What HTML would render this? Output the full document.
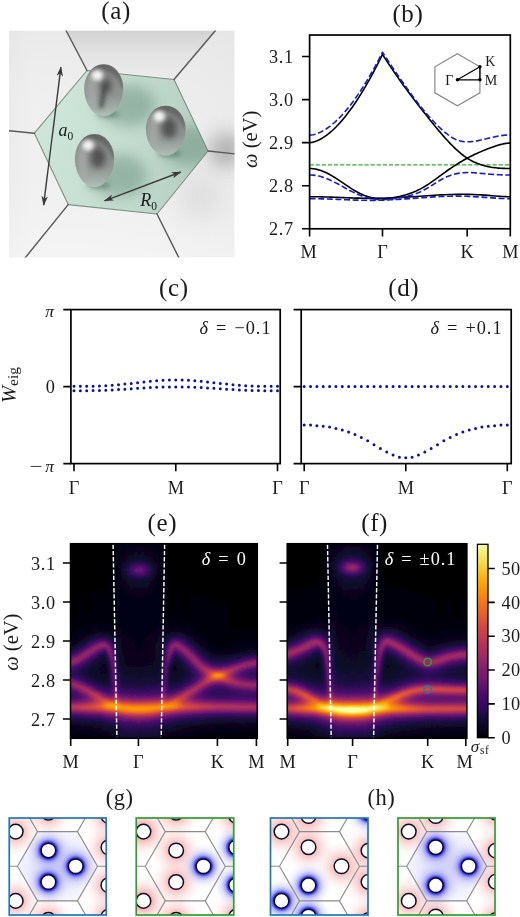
<!DOCTYPE html>
<html lang="en"><head><meta charset="utf-8"><title>Figure</title>
<style>
html,body{margin:0;padding:0;background:#fff}
svg{display:block}
text{font-family:"Liberation Serif",serif;fill:#1a1a1a}
</style></head><body>
<svg width="520" height="917" viewBox="0 0 520 917">
<rect width="520" height="917" fill="#fff"/>
<g id="pa">
<defs>
<clipPath id="ca"><rect x="9" y="30.5" width="225.6" height="227"/></clipPath>
<linearGradient id="abg" x1="0" y1="0" x2="1" y2="0"><stop offset="0" stop-color="#ececec"/><stop offset=".1" stop-color="#f0f0f0"/><stop offset=".6" stop-color="#efefef"/><stop offset="1" stop-color="#ebebeb"/></linearGradient>
<linearGradient id="abg2" x1="0" y1="0" x2="0" y2="1"><stop offset="0" stop-color="#dcdcdc" stop-opacity=".3"/><stop offset=".35" stop-color="#e4e4e4" stop-opacity=".05"/><stop offset="1" stop-color="#fff" stop-opacity=".3"/></linearGradient>
<linearGradient id="ahex" x1="0" y1="0" x2="1" y2="1"><stop offset="0" stop-color="#d1e7db"/><stop offset=".5" stop-color="#cbe3d7"/><stop offset="1" stop-color="#c6dfd2"/></linearGradient>
<radialGradient id="asph" cx=".36" cy=".22" r=".75" fx=".33" fy=".17"><stop offset="0" stop-color="#ededed"/><stop offset=".12" stop-color="#cfd0d0"/><stop offset=".32" stop-color="#a4a7a6"/><stop offset=".6" stop-color="#888b8a"/><stop offset=".82" stop-color="#98a19c"/><stop offset="1" stop-color="#b3c0b9"/></radialGradient>
<linearGradient id="asph2" x1="0" y1="0" x2="0" y2="1"><stop offset="0" stop-color="#767877"/><stop offset=".3" stop-color="#8e9190"/><stop offset=".6" stop-color="#8f9391"/><stop offset=".82" stop-color="#a0aaa5"/><stop offset="1" stop-color="#b2bfb8"/></linearGradient>
<radialGradient id="aedge" cx=".5" cy=".5" r=".5"><stop offset=".72" stop-color="#444" stop-opacity="0"/><stop offset="1" stop-color="#3c3c3c" stop-opacity=".55"/></radialGradient>
<filter id="ab1" filterUnits="userSpaceOnUse" x="0" y="0" width="260" height="280"><feGaussianBlur stdDeviation="7"/></filter>
<filter id="ab2" filterUnits="userSpaceOnUse" x="0" y="0" width="260" height="280"><feGaussianBlur stdDeviation="2.2"/></filter>
<filter id="ab4" filterUnits="userSpaceOnUse" x="0" y="0" width="260" height="280"><feGaussianBlur stdDeviation="3"/></filter>
<filter id="ab5" filterUnits="userSpaceOnUse" x="0" y="0" width="260" height="280"><feGaussianBlur stdDeviation="9"/></filter>
<filter id="ab3" filterUnits="userSpaceOnUse" x="0" y="0" width="260" height="280"><feGaussianBlur stdDeviation="12"/></filter>
<marker id="ah" viewBox="0 0 10 6.6" refX="9.3" refY="3.3" markerWidth="10" markerHeight="6.6" orient="auto-start-reverse" markerUnits="userSpaceOnUse"><path d="M0 0L10 3.3L0 6.6L2.8 3.3Z" fill="#3a3a3a"/></marker>
</defs>
<g clip-path="url(#ca)">
<rect x="9" y="30.5" width="225.6" height="227" fill="url(#abg)"/>
<rect x="9" y="30.5" width="225.6" height="227" fill="url(#abg2)"/>
<defs><linearGradient id="atop" x1="0" y1="30" x2="0" y2="82" gradientUnits="userSpaceOnUse"><stop offset="0" stop-color="#d2d2d2"/><stop offset=".45" stop-color="#e2e2e2"/><stop offset="1" stop-color="#eeeeee"/></linearGradient><linearGradient id="ahs" x1="0" y1="0" x2="1" y2="0"><stop offset="0" stop-color="#98b3a6" stop-opacity="0"/><stop offset=".45" stop-color="#98b3a6" stop-opacity=".08"/><stop offset="1" stop-color="#98b3a6" stop-opacity=".42"/></linearGradient></defs>
<polygon points="66,30.5 215.5,30.5 174,79.5 87,70.5" fill="url(#atop)"/>
<ellipse cx="226" cy="150" rx="17" ry="17" fill="#8e8e8e" opacity=".62" filter="url(#ab5)"/>
<ellipse cx="200" cy="196" rx="22" ry="24" fill="#c4c4c4" opacity=".35" filter="url(#ab3)"/>
<polygon points="87,70.5 174,79.5 208,151 157,214 68.2,204.6 34.4,133.2" fill="url(#ahex)"/>
<polygon points="87,70.5 174,79.5 208,151 157,214 68.2,204.6 34.4,133.2" fill="url(#ahs)"/>
<clipPath id="chex"><path d="M87 70.5 L174 79.5 L208 151 L157 214 L68.2 204.6 L34.4 133.2Z"/></clipPath>
<path d="M87 70.5 L174 79.5 L208 151 L157 214 L68.2 204.6 L34.4 133.2Z" fill="none" stroke="#7d8f86" stroke-width="1.1" stroke-linejoin="round"/>
<path d="M87 70.5L66 30.5M174 79.5L215.5 30.5M208 151L236 154M157 214L179 258M68.2 204.6L25 258M34.4 133.2L8.5 130.8" fill="none" stroke="#585a59" stroke-width="1.45" stroke-linecap="round"/>
<g clip-path="url(#chex)">
<ellipse cx="127.7" cy="105.3" rx="28.27" ry="20.8" fill="#668c7b" opacity=".5" filter="url(#ab1)"/>
<ellipse cx="107.7" cy="114.3" rx="11.7" ry="3.5" fill="#4f6f62" opacity=".55" filter="url(#ab2)"/>
<ellipse cx="189.7" cy="145.8" rx="28.71" ry="20" fill="#668c7b" opacity=".5" filter="url(#ab1)"/>
<ellipse cx="169.7" cy="153.8" rx="11.88" ry="3.5" fill="#4f6f62" opacity=".55" filter="url(#ab2)"/>
<ellipse cx="118.5" cy="175.6" rx="28.42" ry="21.28" fill="#668c7b" opacity=".5" filter="url(#ab1)"/>
<ellipse cx="98.5" cy="185.2" rx="11.76" ry="3.5" fill="#4f6f62" opacity=".55" filter="url(#ab2)"/>
</g>
<clipPath id="cs0"><path d="M103.7 64.3C115.79 64.3 123.2 76.74 123.2 88.22C123.2 103.66 113.84 116.3 103.7 116.3C93.56 116.3 84.2 103.66 84.2 88.22C84.2 76.74 91.61 64.3 103.7 64.3Z"/></clipPath>
<path d="M103.7 64.3C115.79 64.3 123.2 76.74 123.2 88.22C123.2 103.66 113.84 116.3 103.7 116.3C93.56 116.3 84.2 103.66 84.2 88.22C84.2 76.74 91.61 64.3 103.7 64.3Z" fill="url(#asph2)"/>
<g clip-path="url(#cs0)">
<ellipse cx="91.61" cy="91.3" rx="5" ry="15" fill="#b4b9b6" opacity=".55" filter="url(#ab4)"/>
<ellipse cx="106.7" cy="85.3" rx="6" ry="8" fill="#3f4041" opacity=".6" filter="url(#ab4)"/>
<path d="M105.2 85.3Q103.2 95.3 101.2 106.3" stroke="#3a3b3c" stroke-width="4.2" fill="none" stroke-linecap="round" opacity=".8" filter="url(#ab2)"/>
<path d="M90.05 68.3Q113.45 60.3 124.2 86.3" stroke="#484848" stroke-width="4.5" fill="none" stroke-linecap="round" opacity=".6" filter="url(#ab2)"/>
<ellipse cx="97.2" cy="75.22" rx="6" ry="5.5" fill="#fafafa" opacity=".95" filter="url(#ab2)"/>
</g>
<clipPath id="cs1"><path d="M165.7 105.8C177.98 105.8 185.5 117.76 185.5 128.8C185.5 143.65 176 155.8 165.7 155.8C155.4 155.8 145.9 143.65 145.9 128.8C145.9 117.76 153.42 105.8 165.7 105.8Z"/></clipPath>
<path d="M165.7 105.8C177.98 105.8 185.5 117.76 185.5 128.8C185.5 143.65 176 155.8 165.7 155.8C155.4 155.8 145.9 143.65 145.9 128.8C145.9 117.76 153.42 105.8 165.7 105.8Z" fill="url(#asph2)"/>
<g clip-path="url(#cs1)">
<ellipse cx="153.42" cy="131.8" rx="5" ry="15" fill="#b4b9b6" opacity=".55" filter="url(#ab4)"/>
<ellipse cx="169.2" cy="127.8" rx="7.5" ry="10.5" fill="#3f4041" opacity=".78" filter="url(#ab4)"/>
<path d="M151.84 109.8Q175.6 101.8 186.5 126.8" stroke="#484848" stroke-width="4.5" fill="none" stroke-linecap="round" opacity=".6" filter="url(#ab2)"/>
<ellipse cx="159.2" cy="116.3" rx="6" ry="5.5" fill="#fafafa" opacity=".95" filter="url(#ab2)"/>
</g>
<clipPath id="cs2"><path d="M94.5 134C106.65 134 114.1 146.73 114.1 158.47C114.1 174.27 104.69 187.2 94.5 187.2C84.31 187.2 74.9 174.27 74.9 158.47C74.9 146.73 82.35 134 94.5 134Z"/></clipPath>
<path d="M94.5 134C106.65 134 114.1 146.73 114.1 158.47C114.1 174.27 104.69 187.2 94.5 187.2C84.31 187.2 74.9 174.27 74.9 158.47C74.9 146.73 82.35 134 94.5 134Z" fill="url(#asph2)"/>
<g clip-path="url(#cs2)">
<ellipse cx="82.35" cy="161.6" rx="5" ry="15" fill="#b4b9b6" opacity=".55" filter="url(#ab4)"/>
<ellipse cx="98" cy="157.6" rx="7.5" ry="10.5" fill="#3f4041" opacity=".78" filter="url(#ab4)"/>
<path d="M80.78 138Q104.3 130 115.1 156.6" stroke="#484848" stroke-width="4.5" fill="none" stroke-linecap="round" opacity=".6" filter="url(#ab2)"/>
<ellipse cx="88" cy="145.17" rx="6" ry="5.5" fill="#fafafa" opacity=".95" filter="url(#ab2)"/>
</g>
<path d="M60.9 67.1L43.6 205.2" stroke="#3c3c3c" stroke-width="1.4" fill="none" marker-start="url(#ah)" marker-end="url(#ah)"/>
<path d="M104.5 200.8L180.8 172" stroke="#3c3c3c" stroke-width="1.4" fill="none" marker-start="url(#ah)" marker-end="url(#ah)"/>
</g>
<text x="58.5" y="136.3" font-size="18" font-style="italic" fill="#222">a<tspan font-size="11.5" font-style="normal" dy="3.5">0</tspan></text>
<text x="140.3" y="206" font-size="18" font-style="italic" fill="#222">R<tspan font-size="11.5" font-style="normal" dy="3.5">0</tspan></text>
<text x="116.1" y="19.2" font-size="25" text-anchor="middle" letter-spacing=".6">(a)</text>
</g>
<g id="pb">
<path d="M309.6 164.8 H510.3" stroke="#2eae2e" stroke-width="1.3" stroke-dasharray="4.2 1.9" fill="none"/>
<g fill="none" stroke="#000" stroke-width="1.6" stroke-linejoin="round">
<path d="M309.6 142.67 L311.47 142.49 L313.34 142.1 L315.21 141.54 L317.08 140.83 L318.95 139.98 L320.82 139 L322.68 137.91 L324.55 136.69 L326.42 135.37 L328.29 133.94 L330.16 132.4 L332.03 130.76 L333.9 129.03 L335.77 127.2 L337.64 125.27 L339.51 123.25 L341.38 121.15 L343.25 118.95 L345.12 116.67 L346.98 114.3 L348.85 111.84 L350.72 109.31 L352.59 106.69 L354.46 103.99 L356.33 101.21 L358.2 98.35 L360.07 95.42 L361.94 92.4 L363.81 89.31 L365.68 86.15 L367.55 82.91 L369.42 79.59 L371.28 76.21 L373.15 72.75 L375.02 69.22 L376.89 65.61 L378.76 61.94 L380.63 58.19 L382.5 54.38 L382.5 54.38 L383.93 56.62 L385.36 58.84 L386.78 61.03 L388.21 63.21 L389.64 65.36 L391.07 67.5 L392.49 69.62 L393.92 71.71 L395.35 73.79 L396.78 75.86 L398.2 77.9 L399.63 79.93 L401.06 81.94 L402.49 83.93 L403.91 85.91 L405.34 87.88 L406.77 89.83 L408.2 91.76 L409.62 93.68 L411.05 95.59 L412.48 97.49 L413.91 99.38 L415.33 101.25 L416.76 103.11 L418.19 104.96 L419.62 106.8 L421.04 108.63 L422.47 110.45 L423.9 112.27 L425.33 114.07 L426.75 115.87 L428.18 117.66 L429.61 119.44 L431.04 121.21 L432.46 122.98 L433.89 124.74 L435.32 126.48 L436.75 128.22 L438.17 129.93 L439.6 131.63 L441.03 133.31 L442.46 134.97 L443.88 136.6 L445.31 138.21 L446.74 139.78 L448.17 141.33 L449.59 142.85 L451.02 144.34 L452.45 145.78 L453.88 147.19 L455.3 148.56 L456.73 149.89 L458.16 151.18 L459.59 152.42 L461.01 153.61 L462.44 154.75 L463.87 155.84 L465.3 156.88 L466.72 157.86 L468.17 158.78 L469.62 159.65 L471.07 160.46 L472.53 161.22 L473.98 161.92 L475.43 162.58 L476.89 163.19 L478.34 163.76 L479.79 164.29 L481.24 164.77 L482.7 165.22 L484.15 165.63 L485.6 166.01 L487.06 166.35 L488.51 166.66 L489.96 166.94 L491.41 167.2 L492.87 167.42 L494.32 167.62 L495.77 167.8 L497.22 167.95 L498.68 168.08 L500.13 168.19 L501.58 168.28 L503.04 168.36 L504.49 168.42 L505.94 168.46 L507.39 168.49 L508.85 168.5 L510.3 168.51"/>
<path d="M309.6 168.51 L311.47 168.56 L313.34 168.73 L315.21 169.01 L317.08 169.4 L318.95 169.89 L320.82 170.48 L322.68 171.17 L324.55 171.96 L326.42 172.82 L328.29 173.77 L330.16 174.79 L332.03 175.86 L333.9 177 L335.77 178.18 L337.64 179.39 L339.51 180.64 L341.38 181.9 L343.25 183.17 L345.12 184.44 L346.98 185.7 L348.85 186.93 L350.72 188.14 L352.59 189.32 L354.46 190.44 L356.33 191.52 L358.2 192.53 L360.07 193.48 L361.94 194.36 L363.81 195.16 L365.68 195.88 L367.55 196.51 L369.42 197.06 L371.28 197.53 L373.15 197.91 L375.02 198.21 L376.89 198.42 L378.76 198.56 L380.63 198.63 L382.5 198.65 L382.5 198.65 L383.93 198.64 L385.36 198.58 L386.78 198.5 L388.21 198.38 L389.64 198.23 L391.07 198.05 L392.49 197.85 L393.92 197.61 L395.35 197.36 L396.78 197.08 L398.2 196.78 L399.63 196.46 L401.06 196.12 L402.49 195.75 L403.91 195.37 L405.34 194.97 L406.77 194.54 L408.2 194.08 L409.62 193.6 L411.05 193.09 L412.48 192.55 L413.91 191.98 L415.33 191.38 L416.76 190.74 L418.19 190.07 L419.62 189.37 L421.04 188.63 L422.47 187.85 L423.9 187.02 L425.33 186.16 L426.75 185.27 L428.18 184.34 L429.61 183.39 L431.04 182.41 L432.46 181.41 L433.89 180.39 L435.32 179.36 L436.75 178.32 L438.17 177.27 L439.6 176.22 L441.03 175.16 L442.46 174.11 L443.88 173.07 L445.31 172.03 L446.74 171.01 L448.17 170.01 L449.59 169.02 L451.02 168.04 L452.45 167.09 L453.88 166.14 L455.3 165.22 L456.73 164.31 L458.16 163.42 L459.59 162.54 L461.01 161.69 L462.44 160.85 L463.87 160.02 L465.3 159.22 L466.72 158.43 L468.17 157.66 L469.62 156.91 L471.07 156.17 L472.53 155.46 L473.98 154.76 L475.43 154.07 L476.89 153.4 L478.34 152.75 L479.79 152.11 L481.24 151.48 L482.7 150.87 L484.15 150.28 L485.6 149.69 L487.06 149.12 L488.51 148.56 L489.96 148.01 L491.41 147.47 L492.87 146.95 L494.32 146.44 L495.77 145.94 L497.22 145.47 L498.68 145.03 L500.13 144.61 L501.58 144.24 L503.04 143.91 L504.49 143.63 L505.94 143.41 L507.39 143.24 L508.85 143.13 L510.3 143.1"/>
<path d="M309.6 196.72 L312.69 196.73 L315.78 196.76 L318.87 196.81 L321.96 196.88 L325.04 196.96 L328.13 197.06 L331.22 197.16 L334.31 197.28 L337.4 197.39 L340.49 197.51 L343.58 197.64 L346.67 197.75 L349.76 197.87 L352.85 197.98 L355.93 198.08 L359.02 198.16 L362.11 198.24 L365.2 198.3 L368.29 198.34 L371.38 198.36 L374.47 198.35 L377.56 198.33 L380.65 198.27 L383.94 198.18 L387.52 198.07 L391.11 197.93 L394.7 197.76 L398.29 197.57 L401.88 197.37 L405.47 197.15 L409.06 196.92 L412.65 196.68 L416.24 196.44 L419.83 196.19 L423.41 195.95 L427 195.71 L430.59 195.48 L434.18 195.26 L437.77 195.05 L441.36 194.86 L444.95 194.7 L448.54 194.56 L452.13 194.44 L455.72 194.36 L459.3 194.31 L462.89 194.3 L466.48 194.33 L470.12 194.41 L473.77 194.53 L477.43 194.69 L481.08 194.89 L484.73 195.13 L488.38 195.39 L492.04 195.69 L495.69 195.99 L499.34 196.27 L502.99 196.5 L506.65 196.66 L510.3 196.72"/>
</g>
<g fill="none" stroke="#1a1ac8" stroke-width="1.6" stroke-dasharray="6 2.6" stroke-linejoin="round">
<path d="M309.6 135.13 L311.47 134.99 L313.34 134.67 L315.21 134.2 L317.08 133.59 L318.95 132.85 L320.82 132 L322.68 131.03 L324.55 129.95 L326.42 128.76 L328.29 127.47 L330.16 126.08 L332.03 124.59 L333.9 123.01 L335.77 121.33 L337.64 119.56 L339.51 117.7 L341.38 115.74 L343.25 113.7 L345.12 111.58 L346.98 109.37 L348.85 107.07 L350.72 104.69 L352.59 102.23 L354.46 99.68 L356.33 97.06 L358.2 94.35 L360.07 91.57 L361.94 88.71 L363.81 85.77 L365.68 82.75 L367.55 79.66 L369.42 76.49 L371.28 73.24 L373.15 69.92 L375.02 66.53 L376.89 63.06 L378.76 59.52 L380.63 55.91 L382.5 52.23 L382.5 52.23 L383.93 54.4 L385.36 56.57 L386.78 58.74 L388.21 60.9 L389.64 63.06 L391.07 65.2 L392.49 67.34 L393.92 69.47 L395.35 71.59 L396.78 73.7 L398.2 75.79 L399.63 77.88 L401.06 79.95 L402.49 82 L403.91 84.04 L405.34 86.07 L406.77 88.07 L408.2 90.06 L409.62 92.03 L411.05 93.98 L412.48 95.91 L413.91 97.82 L415.33 99.71 L416.76 101.57 L418.19 103.41 L419.62 105.23 L421.04 107.02 L422.47 108.78 L423.9 110.52 L425.33 112.22 L426.75 113.9 L428.18 115.55 L429.61 117.17 L431.04 118.75 L432.46 120.3 L433.89 121.82 L435.32 123.3 L436.75 124.75 L438.17 126.15 L439.6 127.52 L441.03 128.85 L442.46 130.14 L443.88 131.38 L445.31 132.58 L446.74 133.73 L448.17 134.83 L449.59 135.86 L451.02 136.82 L452.45 137.7 L453.88 138.5 L455.3 139.2 L456.73 139.82 L458.16 140.34 L459.59 140.77 L461.01 141.12 L462.44 141.4 L463.87 141.6 L465.3 141.73 L466.72 141.8 L468.17 141.8 L469.62 141.76 L471.07 141.66 L472.53 141.52 L473.98 141.34 L475.43 141.12 L476.89 140.87 L478.34 140.59 L479.79 140.29 L481.24 139.97 L482.7 139.63 L484.15 139.29 L485.6 138.94 L487.06 138.59 L488.51 138.25 L489.96 137.9 L491.41 137.56 L492.87 137.23 L494.32 136.92 L495.77 136.61 L497.22 136.32 L498.68 136.06 L500.13 135.81 L501.58 135.59 L503.04 135.39 L504.49 135.23 L505.94 135.09 L507.39 135 L508.85 134.94 L510.3 134.91"/>
<path d="M309.6 174.97 L311.47 175.01 L313.34 175.15 L315.21 175.38 L317.08 175.69 L318.95 176.09 L320.82 176.58 L322.68 177.14 L324.55 177.78 L326.42 178.48 L328.29 179.25 L330.16 180.08 L332.03 180.96 L333.9 181.88 L335.77 182.84 L337.64 183.83 L339.51 184.84 L341.38 185.87 L343.25 186.91 L345.12 187.94 L346.98 188.96 L348.85 189.97 L350.72 190.96 L352.59 191.91 L354.46 192.83 L356.33 193.7 L358.2 194.53 L360.07 195.3 L361.94 196.02 L363.81 196.67 L365.68 197.25 L367.55 197.77 L369.42 198.22 L371.28 198.6 L373.15 198.91 L375.02 199.15 L376.89 199.33 L378.76 199.44 L380.63 199.5 L382.5 199.51 L382.5 199.51 L383.93 199.5 L385.36 199.45 L386.78 199.38 L388.21 199.28 L389.64 199.16 L391.07 199.01 L392.49 198.85 L393.92 198.66 L395.35 198.46 L396.78 198.24 L398.2 198 L399.63 197.76 L401.06 197.5 L402.49 197.23 L403.91 196.94 L405.34 196.64 L406.77 196.32 L408.2 195.97 L409.62 195.6 L411.05 195.2 L412.48 194.78 L413.91 194.32 L415.33 193.83 L416.76 193.31 L418.19 192.75 L419.62 192.15 L421.04 191.5 L422.47 190.82 L423.9 190.08 L425.33 189.31 L426.75 188.49 L428.18 187.65 L429.61 186.78 L431.04 185.9 L432.46 185 L433.89 184.09 L435.32 183.19 L436.75 182.3 L438.17 181.42 L439.6 180.56 L441.03 179.73 L442.46 178.93 L443.88 178.17 L445.31 177.46 L446.74 176.8 L448.17 176.19 L449.59 175.64 L451.02 175.14 L452.45 174.69 L453.88 174.29 L455.3 173.94 L456.73 173.63 L458.16 173.36 L459.59 173.13 L461.01 172.95 L462.44 172.8 L463.87 172.69 L465.3 172.61 L466.72 172.56 L468.17 172.55 L469.62 172.56 L471.07 172.6 L472.53 172.67 L473.98 172.75 L475.43 172.85 L476.89 172.97 L478.34 173.09 L479.79 173.23 L481.24 173.37 L482.7 173.52 L484.15 173.67 L485.6 173.81 L487.06 173.95 L488.51 174.08 L489.96 174.21 L491.41 174.32 L492.87 174.42 L494.32 174.52 L495.77 174.6 L497.22 174.67 L498.68 174.74 L500.13 174.79 L501.58 174.84 L503.04 174.88 L504.49 174.91 L505.94 174.94 L507.39 174.95 L508.85 174.96 L510.3 174.97"/>
<path d="M309.6 198.65 L312.69 198.67 L315.78 198.7 L318.87 198.76 L321.96 198.83 L325.04 198.92 L328.13 199.02 L331.22 199.13 L334.31 199.25 L337.4 199.38 L340.49 199.5 L343.58 199.63 L346.67 199.75 L349.76 199.87 L352.85 199.99 L355.93 200.09 L359.02 200.17 L362.11 200.25 L365.2 200.3 L368.29 200.34 L371.38 200.35 L374.47 200.34 L377.56 200.29 L380.65 200.22 L383.94 200.11 L387.52 199.98 L391.11 199.81 L394.7 199.61 L398.29 199.4 L401.88 199.16 L405.47 198.91 L409.06 198.66 L412.65 198.39 L416.24 198.12 L419.83 197.86 L423.41 197.6 L427 197.35 L430.59 197.11 L434.18 196.88 L437.77 196.68 L441.36 196.5 L444.95 196.35 L448.54 196.24 L452.13 196.15 L455.72 196.11 L459.3 196.11 L462.89 196.16 L466.48 196.26 L470.12 196.41 L473.77 196.61 L477.43 196.84 L481.08 197.1 L484.73 197.37 L488.38 197.64 L492.04 197.9 L495.69 198.14 L499.34 198.35 L502.99 198.51 L506.65 198.62 L510.3 198.65"/>
</g>
<rect x="309.6" y="35" width="200.7" height="193.8" fill="none" stroke="#000" stroke-width="1.7"/>
<text x="293.6" y="63.13" font-size="18.3" text-anchor="end" letter-spacing=".55">3.1</text>
<text x="293.6" y="106.2" font-size="18.3" text-anchor="end" letter-spacing=".55">3.0</text>
<text x="293.6" y="149.27" font-size="18.3" text-anchor="end" letter-spacing=".55">2.9</text>
<text x="293.6" y="192.33" font-size="18.3" text-anchor="end" letter-spacing=".55">2.8</text>
<text x="293.6" y="235.4" font-size="18.3" text-anchor="end" letter-spacing=".55">2.7</text>
<text x="308.6" y="258" font-size="18.3" text-anchor="middle">M</text>
<text x="382.5" y="258" font-size="18.3" text-anchor="middle">Γ</text>
<text x="467.2" y="258" font-size="18.3" text-anchor="middle">K</text>
<text x="510.3" y="258" font-size="18.3" text-anchor="middle">M</text>
<path d="M309.6 56.53h-7.6M309.6 99.6h-7.6M309.6 142.67h-7.6M309.6 185.73h-7.6M309.6 228.8h-7.6M309.6 228.8v7.6M382.5 228.8v7.6M467.2 228.8v7.6M510.3 228.8v7.6" stroke="#000" stroke-width="1.6" fill="none"/>
<text transform="translate(257 139.3) rotate(-90)" font-size="20.5" text-anchor="middle"><tspan font-style="italic">ω</tspan> (eV)</text>
<text x="407.9" y="21.5" font-size="25" text-anchor="middle" letter-spacing=".6">(b)</text>
<polygon points="457.4,53.8 479.92,66.8 479.92,92.8 457.4,105.8 434.88,92.8 434.88,66.8" fill="none" stroke="#888" stroke-width="1.2"/>
<path d="M457.4 79.8L479.92 66.8V79.8Z" fill="none" stroke="#000" stroke-width="1.3" stroke-linejoin="round"/>
<circle cx="457.4" cy="79.8" r="1.7"/>
<circle cx="479.92" cy="66.8" r="1.7"/>
<circle cx="479.92" cy="79.8" r="1.7"/>
<text x="449.3" y="84.6" font-size="14" text-anchor="middle">Γ</text>
<text x="490.4" y="66.4" font-size="14" text-anchor="middle">K</text>
<text x="491" y="85" font-size="14" text-anchor="middle">M</text>
</g>
<g id="pcd">
<path d="M74 386.3h0M80.36 386.29h0M86.72 386.25h0M93.08 386.15h0M99.44 385.95h0M105.8 385.64h0M112.16 385.22h0M118.52 384.69h0M124.88 384.07h0M131.23 383.39h0M137.59 382.68h0M143.95 381.98h0M150.31 381.33h0M156.67 380.78h0M163.03 380.36h0M169.39 380.09h0M175.75 380h0M182.11 380.09h0M188.47 380.36h0M194.83 380.78h0M201.19 381.33h0M207.55 381.98h0M213.91 382.68h0M220.27 383.39h0M226.62 384.07h0M232.98 384.69h0M239.34 385.22h0M245.7 385.64h0M252.06 385.95h0M258.42 386.15h0M264.78 386.25h0M271.14 386.29h0M277.5 386.3h0M74 390.7h0M80.36 390.69h0M86.72 390.65h0M93.08 390.55h0M99.44 390.39h0M105.8 390.16h0M112.16 389.88h0M118.52 389.54h0M124.88 389.16h0M131.23 388.75h0M137.59 388.35h0M143.95 387.96h0M150.31 387.61h0M156.67 387.31h0M163.03 387.09h0M169.39 386.95h0M175.75 386.9h0M182.11 386.95h0M188.47 387.09h0M194.83 387.31h0M201.19 387.61h0M207.55 387.96h0M213.91 388.35h0M220.27 388.75h0M226.62 389.16h0M232.98 389.54h0M239.34 389.88h0M245.7 390.16h0M252.06 390.39h0M258.42 390.55h0M264.78 390.65h0M271.14 390.69h0M277.5 390.7h0" stroke="#10109a" stroke-width="3" stroke-linecap="round" fill="none"/>
<rect x="70.9" y="309.6" width="209.3" height="154" fill="none" stroke="#000" stroke-width="1.7"/>
<text x="74" y="493.6" font-size="18.3" text-anchor="middle">Γ</text>
<text x="175.8" y="493.6" font-size="18.3" text-anchor="middle">M</text>
<text x="277.5" y="493.6" font-size="18.3" text-anchor="middle">Γ</text>
<path d="M70.9 309.6h-7.6M70.9 386.6h-7.6M70.9 463.6h-7.6M74 463.6v7.6M175.8 463.6v7.6M277.5 463.6v7.6" stroke="#000" stroke-width="1.6" fill="none"/>
<text x="173.8" y="295.8" font-size="25" text-anchor="middle" letter-spacing=".6">(c)</text>
<text x="271.6" y="333.8" font-size="18.3" text-anchor="end" letter-spacing="1" word-spacing="1.5"><tspan font-style="italic">δ</tspan> = −0.1</text>
<path d="M304.2 386.6h0M310.55 386.6h0M316.89 386.6h0M323.24 386.6h0M329.59 386.6h0M335.93 386.6h0M342.28 386.6h0M348.63 386.6h0M354.98 386.6h0M361.32 386.6h0M367.67 386.6h0M374.02 386.6h0M380.36 386.6h0M386.71 386.6h0M393.06 386.6h0M399.4 386.6h0M405.75 386.6h0M412.1 386.6h0M418.44 386.6h0M424.79 386.6h0M431.14 386.6h0M437.48 386.6h0M443.83 386.6h0M450.18 386.6h0M456.52 386.6h0M462.87 386.6h0M469.22 386.6h0M475.57 386.6h0M481.91 386.6h0M488.26 386.6h0M494.61 386.6h0M500.95 386.6h0M507.3 386.6h0M304.2 425h0M310.55 425h0M316.89 425.66h0M323.24 426.15h0M329.59 427.07h0M335.93 428.48h0M342.28 430.08h0M348.63 431.89h0M354.98 434.51h0M361.32 437.46h0M367.67 440.74h0M374.02 444.68h0M380.36 448.62h0M386.71 451.9h0M393.06 455.01h0M399.4 457.14h0M405.75 457.8h0M412.1 457.14h0M418.44 455.01h0M424.79 451.9h0M431.14 448.62h0M437.48 444.68h0M443.83 440.74h0M450.18 437.46h0M456.52 434.51h0M462.87 431.89h0M469.22 430.08h0M475.57 428.48h0M481.91 427.07h0M488.26 426.15h0M494.61 425.66h0M500.95 425h0M507.3 425h0" stroke="#10109a" stroke-width="3" stroke-linecap="round" fill="none"/>
<rect x="301.2" y="309.6" width="210" height="154" fill="none" stroke="#000" stroke-width="1.7"/>
<text x="304.2" y="493.6" font-size="18.3" text-anchor="middle">Γ</text>
<text x="405.8" y="493.6" font-size="18.3" text-anchor="middle">M</text>
<text x="507.3" y="493.6" font-size="18.3" text-anchor="middle">Γ</text>
<path d="M301.2 309.6h-7.6M301.2 386.6h-7.6M301.2 463.6h-7.6M304.2 463.6v7.6M405.8 463.6v7.6M507.3 463.6v7.6" stroke="#000" stroke-width="1.6" fill="none"/>
<text x="403.7" y="295.8" font-size="25" text-anchor="middle" letter-spacing=".6">(d)</text>
<text x="502.6" y="333.8" font-size="18.3" text-anchor="end" letter-spacing="1" word-spacing="1.5"><tspan font-style="italic">δ</tspan> = +0.1</text>
<text x="54.2" y="316.8" font-size="17.6" text-anchor="end" font-style="italic">π</text>
<text x="55" y="393.4" font-size="18.3" text-anchor="end">0</text>
<text transform="translate(29.6 472) scale(1.32 1)" font-size="17.6">−</text><text x="54.2" y="472" font-size="17.6" text-anchor="end" font-style="italic">π</text>
<text transform="translate(16 385) rotate(-90)" font-size="20.5" text-anchor="middle"><tspan font-style="italic">W</tspan><tspan font-size="15.5" dy="1.8">eig</tspan></text>
</g>
<g id="pef">
<defs><linearGradient id="gv" x1="0" y1="0" x2="0" y2="1"/></defs>
<defs><linearGradient id="e0" href="#gv"><stop offset="0" stop-color="#000004"/><stop offset=".395" stop-color="#010106"/><stop offset=".472" stop-color="#02020c"/><stop offset=".523" stop-color="#07051b"/><stop offset=".544" stop-color="#0e092b"/><stop offset=".564" stop-color="#260c51"/><stop offset=".585" stop-color="#5a116e"/><stop offset=".6" stop-color="#8c2369"/><stop offset=".61" stop-color="#982766"/><stop offset=".631" stop-color="#69166e"/><stop offset=".646" stop-color="#450a69"/><stop offset=".667" stop-color="#380962"/><stop offset=".687" stop-color="#520e6d"/><stop offset=".708" stop-color="#8f2469"/><stop offset=".718" stop-color="#9a2865"/><stop offset=".723" stop-color="#932667"/><stop offset=".738" stop-color="#64156e"/><stop offset=".754" stop-color="#400a67"/><stop offset=".774" stop-color="#310a5c"/><stop offset=".8" stop-color="#4c0c6b"/><stop offset=".815" stop-color="#771c6d"/><stop offset=".831" stop-color="#ab2f5e"/><stop offset=".841" stop-color="#b73557"/><stop offset=".851" stop-color="#a52c60"/><stop offset=".872" stop-color="#5a116e"/><stop offset=".887" stop-color="#310a5c"/><stop offset=".903" stop-color="#190c3e"/><stop offset=".928" stop-color="#09061f"/><stop offset="1" stop-color="#02010a"/></linearGradient><linearGradient id="e1" href="#gv"><stop offset="0" stop-color="#000004"/><stop offset=".426" stop-color="#010108"/><stop offset=".528" stop-color="#09061f"/><stop offset=".554" stop-color="#190c3e"/><stop offset=".564" stop-color="#290b55"/><stop offset=".579" stop-color="#510e6c"/><stop offset=".595" stop-color="#84206b"/><stop offset=".605" stop-color="#972766"/><stop offset=".615" stop-color="#8d2369"/><stop offset=".631" stop-color="#62146e"/><stop offset=".641" stop-color="#490b6a"/><stop offset=".656" stop-color="#360961"/><stop offset=".672" stop-color="#360961"/><stop offset=".682" stop-color="#420a68"/><stop offset=".697" stop-color="#67166e"/><stop offset=".713" stop-color="#952667"/><stop offset=".718" stop-color="#9a2865"/><stop offset=".728" stop-color="#8c2369"/><stop offset=".754" stop-color="#450a69"/><stop offset=".769" stop-color="#340a5f"/><stop offset=".779" stop-color="#340a5f"/><stop offset=".795" stop-color="#440a68"/><stop offset=".81" stop-color="#67166e"/><stop offset=".831" stop-color="#ad305d"/><stop offset=".841" stop-color="#b93556"/><stop offset=".851" stop-color="#a52c60"/><stop offset=".872" stop-color="#5a116e"/><stop offset=".887" stop-color="#310a5c"/><stop offset=".903" stop-color="#190c3e"/><stop offset=".933" stop-color="#08051d"/><stop offset="1" stop-color="#02010a"/></linearGradient><linearGradient id="e2" href="#gv"><stop offset="0" stop-color="#000004"/><stop offset=".421" stop-color="#010108"/><stop offset=".523" stop-color="#09061f"/><stop offset=".538" stop-color="#10092d"/><stop offset=".559" stop-color="#260c51"/><stop offset=".579" stop-color="#5a116e"/><stop offset=".595" stop-color="#8a226a"/><stop offset=".605" stop-color="#972766"/><stop offset=".615" stop-color="#87216b"/><stop offset=".631" stop-color="#5a116e"/><stop offset=".656" stop-color="#310a5c"/><stop offset=".672" stop-color="#310a5c"/><stop offset=".682" stop-color="#3d0965"/><stop offset=".697" stop-color="#5f136e"/><stop offset=".713" stop-color="#8f2469"/><stop offset=".723" stop-color="#9a2865"/><stop offset=".744" stop-color="#67166e"/><stop offset=".759" stop-color="#440a68"/><stop offset=".779" stop-color="#380962"/><stop offset=".8" stop-color="#4f0d6c"/><stop offset=".815" stop-color="#7a1d6d"/><stop offset=".831" stop-color="#ae305c"/><stop offset=".841" stop-color="#ba3655"/><stop offset=".851" stop-color="#a62d60"/><stop offset=".872" stop-color="#5c126e"/><stop offset=".887" stop-color="#320a5e"/><stop offset=".903" stop-color="#190c3e"/><stop offset=".933" stop-color="#08051d"/><stop offset="1" stop-color="#02020c"/></linearGradient><linearGradient id="e3" href="#gv"><stop offset="0" stop-color="#000004"/><stop offset=".379" stop-color="#010106"/><stop offset=".467" stop-color="#02020e"/><stop offset=".518" stop-color="#09061f"/><stop offset=".538" stop-color="#120a32"/><stop offset=".559" stop-color="#2d0b59"/><stop offset=".574" stop-color="#540f6d"/><stop offset=".59" stop-color="#84206b"/><stop offset=".6" stop-color="#972766"/><stop offset=".61" stop-color="#8c2369"/><stop offset=".626" stop-color="#61136e"/><stop offset=".641" stop-color="#3d0965"/><stop offset=".656" stop-color="#2b0b57"/><stop offset=".672" stop-color="#2d0b59"/><stop offset=".687" stop-color="#3e0966"/><stop offset=".703" stop-color="#67166e"/><stop offset=".713" stop-color="#88226a"/><stop offset=".723" stop-color="#9b2964"/><stop offset=".733" stop-color="#902568"/><stop offset=".759" stop-color="#4c0c6b"/><stop offset=".779" stop-color="#3d0965"/><stop offset=".8" stop-color="#520e6d"/><stop offset=".815" stop-color="#7c1d6d"/><stop offset=".831" stop-color="#b0315b"/><stop offset=".841" stop-color="#bc3754"/><stop offset=".851" stop-color="#a92e5e"/><stop offset=".872" stop-color="#5d126e"/><stop offset=".887" stop-color="#340a5f"/><stop offset=".903" stop-color="#1b0c41"/><stop offset=".938" stop-color="#07051b"/><stop offset="1" stop-color="#02020c"/></linearGradient><linearGradient id="e4" href="#gv"><stop offset="0" stop-color="#000004"/><stop offset=".374" stop-color="#010106"/><stop offset=".462" stop-color="#02020e"/><stop offset=".508" stop-color="#08051d"/><stop offset=".528" stop-color="#10092d"/><stop offset=".549" stop-color="#240c4f"/><stop offset=".569" stop-color="#520e6d"/><stop offset=".595" stop-color="#952667"/><stop offset=".605" stop-color="#8f2469"/><stop offset=".626" stop-color="#57106e"/><stop offset=".641" stop-color="#360961"/><stop offset=".667" stop-color="#260c51"/><stop offset=".692" stop-color="#420a68"/><stop offset=".718" stop-color="#8f2469"/><stop offset=".728" stop-color="#9d2964"/><stop offset=".733" stop-color="#9a2865"/><stop offset=".764" stop-color="#4d0d6c"/><stop offset=".779" stop-color="#420a68"/><stop offset=".79" stop-color="#470b6a"/><stop offset=".805" stop-color="#61136e"/><stop offset=".815" stop-color="#7f1e6c"/><stop offset=".831" stop-color="#b3325a"/><stop offset=".841" stop-color="#bf3952"/><stop offset=".851" stop-color="#ab2f5e"/><stop offset=".872" stop-color="#5f136e"/><stop offset=".887" stop-color="#340a5f"/><stop offset=".903" stop-color="#1b0c41"/><stop offset=".918" stop-color="#0e092b"/><stop offset=".944" stop-color="#060419"/><stop offset="1" stop-color="#02020c"/></linearGradient><linearGradient id="e5" href="#gv"><stop offset="0" stop-color="#000004"/><stop offset=".369" stop-color="#010106"/><stop offset=".497" stop-color="#07051b"/><stop offset=".538" stop-color="#1e0c45"/><stop offset=".564" stop-color="#520e6d"/><stop offset=".585" stop-color="#8c2369"/><stop offset=".595" stop-color="#952667"/><stop offset=".605" stop-color="#85216b"/><stop offset=".621" stop-color="#59106e"/><stop offset=".641" stop-color="#2f0a5b"/><stop offset=".667" stop-color="#230c4c"/><stop offset=".682" stop-color="#2b0b57"/><stop offset=".697" stop-color="#450a69"/><stop offset=".713" stop-color="#741a6e"/><stop offset=".728" stop-color="#9d2964"/><stop offset=".738" stop-color="#982766"/><stop offset=".769" stop-color="#510e6c"/><stop offset=".79" stop-color="#4c0c6b"/><stop offset=".805" stop-color="#64156e"/><stop offset=".815" stop-color="#82206c"/><stop offset=".831" stop-color="#b63458"/><stop offset=".841" stop-color="#c13a50"/><stop offset=".851" stop-color="#ae305c"/><stop offset=".872" stop-color="#61136e"/><stop offset=".887" stop-color="#360961"/><stop offset=".903" stop-color="#1c0c43"/><stop offset=".933" stop-color="#09061f"/><stop offset="1" stop-color="#02020c"/></linearGradient><linearGradient id="e6" href="#gv"><stop offset="0" stop-color="#000004"/><stop offset=".395" stop-color="#010108"/><stop offset=".497" stop-color="#09061f"/><stop offset=".528" stop-color="#1b0c41"/><stop offset=".554" stop-color="#490b6a"/><stop offset=".579" stop-color="#8d2369"/><stop offset=".59" stop-color="#952667"/><stop offset=".6" stop-color="#85216b"/><stop offset=".615" stop-color="#5a116e"/><stop offset=".636" stop-color="#2f0a5b"/><stop offset=".667" stop-color="#1e0c45"/><stop offset=".682" stop-color="#260c51"/><stop offset=".697" stop-color="#3d0965"/><stop offset=".713" stop-color="#67166e"/><stop offset=".733" stop-color="#a02a63"/><stop offset=".744" stop-color="#9a2865"/><stop offset=".774" stop-color="#540f6d"/><stop offset=".79" stop-color="#520e6d"/><stop offset=".8" stop-color="#5d126e"/><stop offset=".815" stop-color="#85216b"/><stop offset=".831" stop-color="#b73557"/><stop offset=".841" stop-color="#c33b4f"/><stop offset=".851" stop-color="#b1325a"/><stop offset=".872" stop-color="#64156e"/><stop offset=".887" stop-color="#380962"/><stop offset=".903" stop-color="#1e0c45"/><stop offset=".918" stop-color="#10092d"/><stop offset=".938" stop-color="#08051d"/><stop offset="1" stop-color="#02020c"/></linearGradient><linearGradient id="e7" href="#gv"><stop offset="0" stop-color="#000004"/><stop offset=".395" stop-color="#010108"/><stop offset=".487" stop-color="#08051d"/><stop offset=".508" stop-color="#10092d"/><stop offset=".528" stop-color="#230c4c"/><stop offset=".549" stop-color="#4c0c6b"/><stop offset=".569" stop-color="#84206b"/><stop offset=".579" stop-color="#932667"/><stop offset=".59" stop-color="#8d2369"/><stop offset=".61" stop-color="#59106e"/><stop offset=".626" stop-color="#360961"/><stop offset=".651" stop-color="#1c0c43"/><stop offset=".667" stop-color="#1b0c41"/><stop offset=".697" stop-color="#340a5f"/><stop offset=".718" stop-color="#6a176e"/><stop offset=".738" stop-color="#a32c61"/><stop offset=".749" stop-color="#9b2964"/><stop offset=".774" stop-color="#61136e"/><stop offset=".79" stop-color="#59106e"/><stop offset=".805" stop-color="#6d186e"/><stop offset=".815" stop-color="#8a226a"/><stop offset=".831" stop-color="#bc3754"/><stop offset=".841" stop-color="#c63d4d"/><stop offset=".851" stop-color="#b43359"/><stop offset=".872" stop-color="#65156e"/><stop offset=".887" stop-color="#390963"/><stop offset=".903" stop-color="#1e0c45"/><stop offset=".944" stop-color="#07051b"/><stop offset="1" stop-color="#02020c"/></linearGradient><linearGradient id="e8" href="#gv"><stop offset="0" stop-color="#000004"/><stop offset=".39" stop-color="#010108"/><stop offset=".482" stop-color="#08051d"/><stop offset=".508" stop-color="#140b34"/><stop offset=".523" stop-color="#240c4f"/><stop offset=".544" stop-color="#510e6c"/><stop offset=".564" stop-color="#88226a"/><stop offset=".574" stop-color="#932667"/><stop offset=".585" stop-color="#8a226a"/><stop offset=".605" stop-color="#550f6d"/><stop offset=".631" stop-color="#260c51"/><stop offset=".651" stop-color="#180c3c"/><stop offset=".672" stop-color="#180c3c"/><stop offset=".703" stop-color="#360961"/><stop offset=".723" stop-color="#6d186e"/><stop offset=".733" stop-color="#902568"/><stop offset=".744" stop-color="#a52c60"/><stop offset=".754" stop-color="#9d2964"/><stop offset=".774" stop-color="#6d186e"/><stop offset=".79" stop-color="#61136e"/><stop offset=".805" stop-color="#721a6e"/><stop offset=".831" stop-color="#bf3952"/><stop offset=".841" stop-color="#ca404a"/><stop offset=".851" stop-color="#b73557"/><stop offset=".872" stop-color="#67166e"/><stop offset=".887" stop-color="#3b0964"/><stop offset=".903" stop-color="#1f0c48"/><stop offset=".933" stop-color="#0a0722"/><stop offset="1" stop-color="#02020c"/></linearGradient><linearGradient id="e9" href="#gv"><stop offset="0" stop-color="#000004"/><stop offset=".354" stop-color="#010106"/><stop offset=".472" stop-color="#07051b"/><stop offset=".497" stop-color="#110a30"/><stop offset=".513" stop-color="#1f0c48"/><stop offset=".528" stop-color="#3d0965"/><stop offset=".538" stop-color="#550f6d"/><stop offset=".559" stop-color="#8c2369"/><stop offset=".569" stop-color="#932667"/><stop offset=".579" stop-color="#87216b"/><stop offset=".6" stop-color="#510e6c"/><stop offset=".626" stop-color="#230c4c"/><stop offset=".651" stop-color="#150b37"/><stop offset=".672" stop-color="#150b37"/><stop offset=".692" stop-color="#1f0c48"/><stop offset=".708" stop-color="#360961"/><stop offset=".728" stop-color="#6f196e"/><stop offset=".738" stop-color="#922568"/><stop offset=".749" stop-color="#a62d60"/><stop offset=".759" stop-color="#a02a63"/><stop offset=".785" stop-color="#6f196e"/><stop offset=".795" stop-color="#6d186e"/><stop offset=".81" stop-color="#85216b"/><stop offset=".831" stop-color="#c33b4f"/><stop offset=".841" stop-color="#cc4248"/><stop offset=".851" stop-color="#ba3655"/><stop offset=".872" stop-color="#6a176e"/><stop offset=".887" stop-color="#3d0965"/><stop offset=".903" stop-color="#210c4a"/><stop offset=".913" stop-color="#150b37"/><stop offset=".938" stop-color="#09061f"/><stop offset="1" stop-color="#02020c"/></linearGradient><linearGradient id="e10" href="#gv"><stop offset="0" stop-color="#000004"/><stop offset=".349" stop-color="#010106"/><stop offset=".467" stop-color="#07051b"/><stop offset=".487" stop-color="#0e092b"/><stop offset=".508" stop-color="#210c4a"/><stop offset=".528" stop-color="#4c0c6b"/><stop offset=".549" stop-color="#84206b"/><stop offset=".559" stop-color="#932667"/><stop offset=".574" stop-color="#82206c"/><stop offset=".59" stop-color="#59106e"/><stop offset=".615" stop-color="#260c51"/><stop offset=".636" stop-color="#160b39"/><stop offset=".672" stop-color="#120a32"/><stop offset=".692" stop-color="#1b0c41"/><stop offset=".708" stop-color="#2d0b59"/><stop offset=".728" stop-color="#5d126e"/><stop offset=".744" stop-color="#922568"/><stop offset=".754" stop-color="#a92e5e"/><stop offset=".759" stop-color="#ab2f5e"/><stop offset=".785" stop-color="#7f1e6c"/><stop offset=".795" stop-color="#781c6d"/><stop offset=".81" stop-color="#8d2369"/><stop offset=".831" stop-color="#c73e4c"/><stop offset=".841" stop-color="#cf4446"/><stop offset=".851" stop-color="#bd3853"/><stop offset=".872" stop-color="#6c186e"/><stop offset=".887" stop-color="#3e0966"/><stop offset=".903" stop-color="#210c4a"/><stop offset=".938" stop-color="#09061f"/><stop offset="1" stop-color="#02020c"/></linearGradient><linearGradient id="e11" href="#gv"><stop offset="0" stop-color="#000004"/><stop offset=".344" stop-color="#010106"/><stop offset=".426" stop-color="#02020e"/><stop offset=".462" stop-color="#07051b"/><stop offset=".497" stop-color="#1b0c41"/><stop offset=".523" stop-color="#4f0d6c"/><stop offset=".544" stop-color="#87216b"/><stop offset=".554" stop-color="#932667"/><stop offset=".564" stop-color="#88226a"/><stop offset=".59" stop-color="#490b6a"/><stop offset=".615" stop-color="#1e0c45"/><stop offset=".641" stop-color="#110a30"/><stop offset=".677" stop-color="#110a30"/><stop offset=".697" stop-color="#1b0c41"/><stop offset=".713" stop-color="#2d0b59"/><stop offset=".733" stop-color="#5f136e"/><stop offset=".749" stop-color="#932667"/><stop offset=".759" stop-color="#ab2f5e"/><stop offset=".769" stop-color="#ab2f5e"/><stop offset=".79" stop-color="#8a226a"/><stop offset=".8" stop-color="#87216b"/><stop offset=".815" stop-color="#a22b62"/><stop offset=".836" stop-color="#d34743"/><stop offset=".846" stop-color="#ce4347"/><stop offset=".851" stop-color="#c03a51"/><stop offset=".872" stop-color="#6f196e"/><stop offset=".887" stop-color="#400a67"/><stop offset=".903" stop-color="#230c4c"/><stop offset=".923" stop-color="#10092d"/><stop offset=".944" stop-color="#08051d"/><stop offset="1" stop-color="#02020e"/></linearGradient><linearGradient id="e12" href="#gv"><stop offset="0" stop-color="#000004"/><stop offset=".374" stop-color="#010108"/><stop offset=".462" stop-color="#08051d"/><stop offset=".492" stop-color="#1b0c41"/><stop offset=".513" stop-color="#440a68"/><stop offset=".538" stop-color="#8a226a"/><stop offset=".549" stop-color="#922568"/><stop offset=".559" stop-color="#85216b"/><stop offset=".579" stop-color="#4f0d6c"/><stop offset=".595" stop-color="#2f0a5b"/><stop offset=".61" stop-color="#1c0c43"/><stop offset=".641" stop-color="#0e092b"/><stop offset=".687" stop-color="#120a32"/><stop offset=".718" stop-color="#2d0b59"/><stop offset=".738" stop-color="#5f136e"/><stop offset=".764" stop-color="#ae305c"/><stop offset=".774" stop-color="#b1325a"/><stop offset=".8" stop-color="#972766"/><stop offset=".81" stop-color="#a02a63"/><stop offset=".836" stop-color="#d74b3f"/><stop offset=".851" stop-color="#c43c4e"/><stop offset=".872" stop-color="#71196e"/><stop offset=".887" stop-color="#420a68"/><stop offset=".903" stop-color="#230c4c"/><stop offset=".923" stop-color="#10092d"/><stop offset=".949" stop-color="#07051b"/><stop offset="1" stop-color="#02020e"/></linearGradient><linearGradient id="e13" href="#gv"><stop offset="0" stop-color="#000004"/><stop offset=".369" stop-color="#010108"/><stop offset=".456" stop-color="#08051d"/><stop offset=".477" stop-color="#110a30"/><stop offset=".497" stop-color="#2b0b57"/><stop offset=".513" stop-color="#520e6d"/><stop offset=".538" stop-color="#922568"/><stop offset=".554" stop-color="#82206c"/><stop offset=".574" stop-color="#4c0c6b"/><stop offset=".6" stop-color="#1e0c45"/><stop offset=".636" stop-color="#0d0829"/><stop offset=".682" stop-color="#0e092b"/><stop offset=".713" stop-color="#1f0c48"/><stop offset=".723" stop-color="#2d0b59"/><stop offset=".744" stop-color="#5d126e"/><stop offset=".769" stop-color="#b3325a"/><stop offset=".779" stop-color="#ba3655"/><stop offset=".805" stop-color="#a82e5f"/><stop offset=".836" stop-color="#db503b"/><stop offset=".851" stop-color="#c73e4c"/><stop offset=".872" stop-color="#721a6e"/><stop offset=".887" stop-color="#440a68"/><stop offset=".903" stop-color="#240c4f"/><stop offset=".918" stop-color="#140b34"/><stop offset=".938" stop-color="#0a0722"/><stop offset="1" stop-color="#02020e"/></linearGradient><linearGradient id="e14" href="#gv"><stop offset="0" stop-color="#000004"/><stop offset=".369" stop-color="#010108"/><stop offset=".456" stop-color="#09061f"/><stop offset=".487" stop-color="#210c4a"/><stop offset=".508" stop-color="#510e6c"/><stop offset=".523" stop-color="#801f6c"/><stop offset=".533" stop-color="#922568"/><stop offset=".544" stop-color="#8a226a"/><stop offset=".569" stop-color="#470b6a"/><stop offset=".6" stop-color="#180c3c"/><stop offset=".641" stop-color="#0b0724"/><stop offset=".692" stop-color="#10092d"/><stop offset=".723" stop-color="#260c51"/><stop offset=".749" stop-color="#5d126e"/><stop offset=".769" stop-color="#a82e5f"/><stop offset=".779" stop-color="#c03a51"/><stop offset=".81" stop-color="#ba3655"/><stop offset=".836" stop-color="#df5337"/><stop offset=".846" stop-color="#d84c3e"/><stop offset=".851" stop-color="#ca404a"/><stop offset=".862" stop-color="#a02a63"/><stop offset=".872" stop-color="#751b6e"/><stop offset=".887" stop-color="#450a69"/><stop offset=".908" stop-color="#1e0c45"/><stop offset=".938" stop-color="#0a0722"/><stop offset="1" stop-color="#030210"/></linearGradient><linearGradient id="e15" href="#gv"><stop offset="0" stop-color="#000004"/><stop offset=".369" stop-color="#010108"/><stop offset=".451" stop-color="#08051d"/><stop offset=".482" stop-color="#1e0c45"/><stop offset=".503" stop-color="#4f0d6c"/><stop offset=".518" stop-color="#7f1e6c"/><stop offset=".528" stop-color="#922568"/><stop offset=".538" stop-color="#8a226a"/><stop offset=".559" stop-color="#520e6d"/><stop offset=".579" stop-color="#260c51"/><stop offset=".595" stop-color="#160b39"/><stop offset=".641" stop-color="#0a0722"/><stop offset=".692" stop-color="#0e092b"/><stop offset=".723" stop-color="#210c4a"/><stop offset=".733" stop-color="#2f0a5b"/><stop offset=".754" stop-color="#5f136e"/><stop offset=".774" stop-color="#ab2f5e"/><stop offset=".785" stop-color="#c43c4e"/><stop offset=".81" stop-color="#c73e4c"/><stop offset=".836" stop-color="#e35933"/><stop offset=".851" stop-color="#ce4347"/><stop offset=".862" stop-color="#a32c61"/><stop offset=".872" stop-color="#771c6d"/><stop offset=".887" stop-color="#450a69"/><stop offset=".903" stop-color="#260c51"/><stop offset=".918" stop-color="#150b37"/><stop offset=".938" stop-color="#0b0724"/><stop offset="1" stop-color="#030210"/></linearGradient><linearGradient id="e16" href="#gv"><stop offset="0" stop-color="#000004"/><stop offset=".369" stop-color="#010108"/><stop offset=".451" stop-color="#08051d"/><stop offset=".472" stop-color="#140b34"/><stop offset=".482" stop-color="#210c4a"/><stop offset=".497" stop-color="#490b6a"/><stop offset=".513" stop-color="#7c1d6d"/><stop offset=".523" stop-color="#922568"/><stop offset=".533" stop-color="#8a226a"/><stop offset=".554" stop-color="#510e6c"/><stop offset=".574" stop-color="#240c4f"/><stop offset=".59" stop-color="#150b37"/><stop offset=".641" stop-color="#09061f"/><stop offset=".692" stop-color="#0d0829"/><stop offset=".728" stop-color="#230c4c"/><stop offset=".749" stop-color="#450a69"/><stop offset=".759" stop-color="#62146e"/><stop offset=".774" stop-color="#982766"/><stop offset=".79" stop-color="#c63d4d"/><stop offset=".815" stop-color="#d54a41"/><stop offset=".836" stop-color="#e8602d"/><stop offset=".851" stop-color="#d04545"/><stop offset=".862" stop-color="#a62d60"/><stop offset=".872" stop-color="#781c6d"/><stop offset=".887" stop-color="#490b6a"/><stop offset=".903" stop-color="#280b53"/><stop offset=".923" stop-color="#140b34"/><stop offset=".949" stop-color="#09061f"/><stop offset="1" stop-color="#040312"/></linearGradient><linearGradient id="e17" href="#gv"><stop offset="0" stop-color="#000004"/><stop offset=".369" stop-color="#010108"/><stop offset=".446" stop-color="#07051b"/><stop offset=".467" stop-color="#10092d"/><stop offset=".477" stop-color="#1b0c41"/><stop offset=".497" stop-color="#4d0d6c"/><stop offset=".513" stop-color="#84206b"/><stop offset=".523" stop-color="#922568"/><stop offset=".533" stop-color="#7f1e6c"/><stop offset=".549" stop-color="#510e6c"/><stop offset=".564" stop-color="#2b0b57"/><stop offset=".579" stop-color="#180c3c"/><stop offset=".6" stop-color="#0d0829"/><stop offset=".626" stop-color="#09061f"/><stop offset=".667" stop-color="#09061f"/><stop offset=".703" stop-color="#10092d"/><stop offset=".733" stop-color="#240c4f"/><stop offset=".749" stop-color="#3d0965"/><stop offset=".764" stop-color="#62146e"/><stop offset=".779" stop-color="#972766"/><stop offset=".8" stop-color="#d44842"/><stop offset=".836" stop-color="#ee6a24"/><stop offset=".851" stop-color="#d84c3e"/><stop offset=".862" stop-color="#ad305d"/><stop offset=".872" stop-color="#7f1e6c"/><stop offset=".887" stop-color="#4d0d6c"/><stop offset=".908" stop-color="#240c4f"/><stop offset=".923" stop-color="#150b37"/><stop offset=".949" stop-color="#0a0722"/><stop offset="1" stop-color="#040312"/></linearGradient><linearGradient id="e18" href="#gv"><stop offset="0" stop-color="#000004"/><stop offset=".369" stop-color="#010108"/><stop offset=".451" stop-color="#08051d"/><stop offset=".467" stop-color="#10092d"/><stop offset=".482" stop-color="#230c4c"/><stop offset=".497" stop-color="#4d0d6c"/><stop offset=".513" stop-color="#84206b"/><stop offset=".523" stop-color="#902568"/><stop offset=".528" stop-color="#88226a"/><stop offset=".544" stop-color="#520e6d"/><stop offset=".559" stop-color="#2b0b57"/><stop offset=".579" stop-color="#140b34"/><stop offset=".626" stop-color="#08051d"/><stop offset=".703" stop-color="#0e092b"/><stop offset=".723" stop-color="#180c3c"/><stop offset=".749" stop-color="#340a5f"/><stop offset=".774" stop-color="#721a6e"/><stop offset=".785" stop-color="#982766"/><stop offset=".8" stop-color="#d24644"/><stop offset=".81" stop-color="#e55c30"/><stop offset=".831" stop-color="#f47918"/><stop offset=".841" stop-color="#f1731d"/><stop offset=".851" stop-color="#df5337"/><stop offset=".862" stop-color="#b63458"/><stop offset=".872" stop-color="#87216b"/><stop offset=".887" stop-color="#520e6d"/><stop offset=".908" stop-color="#280b53"/><stop offset=".938" stop-color="#0e092b"/><stop offset="1" stop-color="#040312"/></linearGradient><linearGradient id="e19" href="#gv"><stop offset="0" stop-color="#000004"/><stop offset=".369" stop-color="#010108"/><stop offset=".446" stop-color="#060419"/><stop offset=".467" stop-color="#0e092b"/><stop offset=".482" stop-color="#1f0c48"/><stop offset=".503" stop-color="#550f6d"/><stop offset=".518" stop-color="#87216b"/><stop offset=".523" stop-color="#8d2369"/><stop offset=".533" stop-color="#7f1e6c"/><stop offset=".549" stop-color="#4f0d6c"/><stop offset=".569" stop-color="#240c4f"/><stop offset=".585" stop-color="#150b37"/><stop offset=".621" stop-color="#09061f"/><stop offset=".662" stop-color="#09061f"/><stop offset=".713" stop-color="#120a32"/><stop offset=".749" stop-color="#2f0a5b"/><stop offset=".764" stop-color="#4c0c6b"/><stop offset=".779" stop-color="#751b6e"/><stop offset=".79" stop-color="#9f2a63"/><stop offset=".805" stop-color="#da4e3c"/><stop offset=".815" stop-color="#ef6e21"/><stop offset=".831" stop-color="#f8890c"/><stop offset=".841" stop-color="#f67e14"/><stop offset=".851" stop-color="#e55c30"/><stop offset=".867" stop-color="#a52c60"/><stop offset=".882" stop-color="#67166e"/><stop offset=".903" stop-color="#340a5f"/><stop offset=".923" stop-color="#190c3e"/><stop offset=".949" stop-color="#0c0826"/><stop offset="1" stop-color="#040314"/></linearGradient><linearGradient id="e20" href="#gv"><stop offset="0" stop-color="#000004"/><stop offset=".369" stop-color="#010108"/><stop offset=".451" stop-color="#07051b"/><stop offset=".472" stop-color="#10092d"/><stop offset=".487" stop-color="#1f0c48"/><stop offset=".508" stop-color="#520e6d"/><stop offset=".528" stop-color="#88226a"/><stop offset=".544" stop-color="#7d1e6d"/><stop offset=".569" stop-color="#470b6a"/><stop offset=".585" stop-color="#2b0b57"/><stop offset=".605" stop-color="#160b39"/><stop offset=".651" stop-color="#0d0829"/><stop offset=".687" stop-color="#0e092b"/><stop offset=".718" stop-color="#160b39"/><stop offset=".754" stop-color="#340a5f"/><stop offset=".769" stop-color="#510e6c"/><stop offset=".785" stop-color="#7d1e6d"/><stop offset=".795" stop-color="#a82e5f"/><stop offset=".81" stop-color="#e65d2f"/><stop offset=".821" stop-color="#f78410"/><stop offset=".831" stop-color="#fb9706"/><stop offset=".841" stop-color="#f98c0a"/><stop offset=".851" stop-color="#eb6429"/><stop offset=".867" stop-color="#ad305d"/><stop offset=".882" stop-color="#6c186e"/><stop offset=".903" stop-color="#380962"/><stop offset=".923" stop-color="#1c0c43"/><stop offset=".949" stop-color="#0d0829"/><stop offset="1" stop-color="#040314"/></linearGradient><linearGradient id="e21" href="#gv"><stop offset="0" stop-color="#010005"/><stop offset=".369" stop-color="#010108"/><stop offset=".456" stop-color="#07051b"/><stop offset=".487" stop-color="#180c3c"/><stop offset=".513" stop-color="#470b6a"/><stop offset=".533" stop-color="#751b6e"/><stop offset=".549" stop-color="#84206b"/><stop offset=".569" stop-color="#741a6e"/><stop offset=".59" stop-color="#4f0d6c"/><stop offset=".605" stop-color="#380962"/><stop offset=".631" stop-color="#230c4c"/><stop offset=".667" stop-color="#180c3c"/><stop offset=".718" stop-color="#1c0c43"/><stop offset=".749" stop-color="#2f0a5b"/><stop offset=".769" stop-color="#4f0d6c"/><stop offset=".785" stop-color="#771c6d"/><stop offset=".8" stop-color="#b63458"/><stop offset=".815" stop-color="#f06f20"/><stop offset=".821" stop-color="#f8870e"/><stop offset=".831" stop-color="#fca108"/><stop offset=".841" stop-color="#fb9706"/><stop offset=".851" stop-color="#ef6e21"/><stop offset=".867" stop-color="#b3325a"/><stop offset=".877" stop-color="#85216b"/><stop offset=".887" stop-color="#62146e"/><stop offset=".908" stop-color="#320a5e"/><stop offset=".933" stop-color="#160b39"/><stop offset=".959" stop-color="#0b0724"/><stop offset="1" stop-color="#050417"/></linearGradient><linearGradient id="e22" href="#gv"><stop offset="0" stop-color="#010106"/><stop offset=".364" stop-color="#010108"/><stop offset=".462" stop-color="#07051b"/><stop offset=".503" stop-color="#1e0c45"/><stop offset=".528" stop-color="#470b6a"/><stop offset=".554" stop-color="#6a176e"/><stop offset=".579" stop-color="#7c1d6d"/><stop offset=".667" stop-color="#3b0964"/><stop offset=".728" stop-color="#2f0a5b"/><stop offset=".754" stop-color="#3e0966"/><stop offset=".769" stop-color="#540f6d"/><stop offset=".779" stop-color="#69166e"/><stop offset=".795" stop-color="#9a2865"/><stop offset=".805" stop-color="#c83f4b"/><stop offset=".815" stop-color="#ed6925"/><stop offset=".826" stop-color="#fb9606"/><stop offset=".836" stop-color="#fca50a"/><stop offset=".846" stop-color="#f98b0b"/><stop offset=".856" stop-color="#e55c30"/><stop offset=".872" stop-color="#a22b62"/><stop offset=".887" stop-color="#67166e"/><stop offset=".908" stop-color="#380962"/><stop offset=".928" stop-color="#1c0c43"/><stop offset=".959" stop-color="#0c0826"/><stop offset="1" stop-color="#050417"/></linearGradient><linearGradient id="e23" href="#gv"><stop offset="0" stop-color="#02010a"/><stop offset=".41" stop-color="#02020e"/><stop offset=".451" stop-color="#050417"/><stop offset=".497" stop-color="#110a30"/><stop offset=".528" stop-color="#280b53"/><stop offset=".559" stop-color="#420a68"/><stop offset=".626" stop-color="#67166e"/><stop offset=".744" stop-color="#59106e"/><stop offset=".764" stop-color="#64156e"/><stop offset=".779" stop-color="#7a1d6d"/><stop offset=".8" stop-color="#b73557"/><stop offset=".815" stop-color="#eb6628"/><stop offset=".826" stop-color="#fa9407"/><stop offset=".836" stop-color="#fca80d"/><stop offset=".846" stop-color="#fa9207"/><stop offset=".856" stop-color="#e9612b"/><stop offset=".872" stop-color="#a92e5e"/><stop offset=".887" stop-color="#6d186e"/><stop offset=".908" stop-color="#3d0965"/><stop offset=".928" stop-color="#1f0c48"/><stop offset=".959" stop-color="#0d0829"/><stop offset="1" stop-color="#060419"/></linearGradient><linearGradient id="e24" href="#gv"><stop offset="0" stop-color="#02020e"/><stop offset=".41" stop-color="#040312"/><stop offset=".467" stop-color="#08051d"/><stop offset=".559" stop-color="#230c4c"/><stop offset=".6" stop-color="#2b0b57"/><stop offset=".708" stop-color="#540f6d"/><stop offset=".744" stop-color="#6c186e"/><stop offset=".774" stop-color="#8f2469"/><stop offset=".8" stop-color="#ce4347"/><stop offset=".821" stop-color="#f98c0a"/><stop offset=".826" stop-color="#fca108"/><stop offset=".831" stop-color="#fcb014"/><stop offset=".836" stop-color="#fbb61a"/><stop offset=".841" stop-color="#fcac11"/><stop offset=".846" stop-color="#fb9b06"/><stop offset=".851" stop-color="#f78410"/><stop offset=".867" stop-color="#c83f4b"/><stop offset=".877" stop-color="#9b2964"/><stop offset=".892" stop-color="#65156e"/><stop offset=".918" stop-color="#310a5c"/><stop offset=".938" stop-color="#1b0c41"/><stop offset=".959" stop-color="#10092d"/><stop offset="1" stop-color="#07051b"/></linearGradient><linearGradient id="e25" href="#gv"><stop offset="0" stop-color="#030210"/><stop offset=".108" stop-color="#060419"/><stop offset=".374" stop-color="#040312"/><stop offset=".667" stop-color="#1f0c48"/><stop offset=".738" stop-color="#400a67"/><stop offset=".759" stop-color="#550f6d"/><stop offset=".785" stop-color="#87216b"/><stop offset=".8" stop-color="#b63458"/><stop offset=".815" stop-color="#e9612b"/><stop offset=".826" stop-color="#f98e09"/><stop offset=".836" stop-color="#fcac11"/><stop offset=".841" stop-color="#fcaa0f"/><stop offset=".846" stop-color="#fb9b06"/><stop offset=".856" stop-color="#f06f20"/><stop offset=".867" stop-color="#d04545"/><stop offset=".877" stop-color="#a52c60"/><stop offset=".892" stop-color="#6d186e"/><stop offset=".918" stop-color="#380962"/><stop offset=".944" stop-color="#1c0c43"/><stop offset="1" stop-color="#0a0722"/></linearGradient><linearGradient id="e26" href="#gv"><stop offset="0" stop-color="#030210"/><stop offset=".128" stop-color="#09061f"/><stop offset=".262" stop-color="#040312"/><stop offset=".395" stop-color="#040314"/><stop offset=".533" stop-color="#0e092b"/><stop offset=".615" stop-color="#10092d"/><stop offset=".697" stop-color="#1b0c41"/><stop offset=".749" stop-color="#380962"/><stop offset=".769" stop-color="#520e6d"/><stop offset=".79" stop-color="#801f6c"/><stop offset=".805" stop-color="#b43359"/><stop offset=".821" stop-color="#e9612b"/><stop offset=".831" stop-color="#f98b0b"/><stop offset=".841" stop-color="#fb9d07"/><stop offset=".851" stop-color="#f8890c"/><stop offset=".862" stop-color="#e75e2e"/><stop offset=".877" stop-color="#ad305d"/><stop offset=".892" stop-color="#751b6e"/><stop offset=".913" stop-color="#470b6a"/><stop offset=".944" stop-color="#210c4a"/><stop offset="1" stop-color="#0c0826"/></linearGradient><linearGradient id="e27" href="#gv"><stop offset="0" stop-color="#030210"/><stop offset=".128" stop-color="#0c0826"/><stop offset=".277" stop-color="#040312"/><stop offset=".395" stop-color="#040314"/><stop offset=".621" stop-color="#0c0826"/><stop offset=".713" stop-color="#1b0c41"/><stop offset=".759" stop-color="#3d0965"/><stop offset=".79" stop-color="#781c6d"/><stop offset=".805" stop-color="#ab2f5e"/><stop offset=".821" stop-color="#e35933"/><stop offset=".831" stop-color="#f78212"/><stop offset=".841" stop-color="#fb9706"/><stop offset=".851" stop-color="#f8890c"/><stop offset=".862" stop-color="#ea632a"/><stop offset=".872" stop-color="#c83f4b"/><stop offset=".882" stop-color="#a02a63"/><stop offset=".897" stop-color="#6d186e"/><stop offset=".923" stop-color="#3b0964"/><stop offset=".944" stop-color="#240c4f"/><stop offset="1" stop-color="#0d0829"/></linearGradient><linearGradient id="e28" href="#gv"><stop offset="0" stop-color="#040312"/><stop offset=".077" stop-color="#07051b"/><stop offset=".133" stop-color="#120a32"/><stop offset=".205" stop-color="#07051b"/><stop offset=".354" stop-color="#040312"/><stop offset=".61" stop-color="#0a0722"/><stop offset=".708" stop-color="#160b39"/><stop offset=".754" stop-color="#340a5f"/><stop offset=".774" stop-color="#520e6d"/><stop offset=".79" stop-color="#751b6e"/><stop offset=".805" stop-color="#a82e5f"/><stop offset=".821" stop-color="#e05536"/><stop offset=".831" stop-color="#f57d15"/><stop offset=".841" stop-color="#fb9606"/><stop offset=".851" stop-color="#f98c0a"/><stop offset=".862" stop-color="#ed6925"/><stop offset=".872" stop-color="#ce4347"/><stop offset=".882" stop-color="#a62d60"/><stop offset=".897" stop-color="#741a6e"/><stop offset=".918" stop-color="#470b6a"/><stop offset=".944" stop-color="#260c51"/><stop offset="1" stop-color="#0d0829"/></linearGradient><linearGradient id="e29" href="#gv"><stop offset="0" stop-color="#040312"/><stop offset=".082" stop-color="#09061f"/><stop offset=".133" stop-color="#1b0c41"/><stop offset=".185" stop-color="#0a0722"/><stop offset=".303" stop-color="#040312"/><stop offset=".61" stop-color="#09061f"/><stop offset=".703" stop-color="#140b34"/><stop offset=".738" stop-color="#240c4f"/><stop offset=".759" stop-color="#390963"/><stop offset=".79" stop-color="#741a6e"/><stop offset=".805" stop-color="#a52c60"/><stop offset=".815" stop-color="#cc4248"/><stop offset=".826" stop-color="#eb6628"/><stop offset=".836" stop-color="#f98b0b"/><stop offset=".846" stop-color="#fb9706"/><stop offset=".856" stop-color="#f78212"/><stop offset=".867" stop-color="#e45a31"/><stop offset=".877" stop-color="#c13a50"/><stop offset=".887" stop-color="#9a2865"/><stop offset=".903" stop-color="#6a176e"/><stop offset=".928" stop-color="#390963"/><stop offset=".949" stop-color="#230c4c"/><stop offset="1" stop-color="#0d0829"/></linearGradient><linearGradient id="e30" href="#gv"><stop offset="0" stop-color="#040312"/><stop offset=".092" stop-color="#0d0829"/><stop offset=".133" stop-color="#260c51"/><stop offset=".195" stop-color="#0a0722"/><stop offset=".308" stop-color="#040312"/><stop offset=".621" stop-color="#09061f"/><stop offset=".718" stop-color="#180c3c"/><stop offset=".744" stop-color="#280b53"/><stop offset=".769" stop-color="#470b6a"/><stop offset=".795" stop-color="#801f6c"/><stop offset=".81" stop-color="#b73557"/><stop offset=".826" stop-color="#eb6429"/><stop offset=".836" stop-color="#f98b0b"/><stop offset=".846" stop-color="#fb9906"/><stop offset=".856" stop-color="#f8870e"/><stop offset=".867" stop-color="#e8602d"/><stop offset=".882" stop-color="#b1325a"/><stop offset=".903" stop-color="#6d186e"/><stop offset=".923" stop-color="#440a68"/><stop offset=".944" stop-color="#280b53"/><stop offset="1" stop-color="#0d0829"/></linearGradient><linearGradient id="e31" href="#gv"><stop offset="0" stop-color="#040314"/><stop offset=".082" stop-color="#0c0826"/><stop offset=".133" stop-color="#380962"/><stop offset=".149" stop-color="#2f0a5b"/><stop offset=".185" stop-color="#0e092b"/><stop offset=".282" stop-color="#040314"/><stop offset=".595" stop-color="#08051d"/><stop offset=".708" stop-color="#140b34"/><stop offset=".754" stop-color="#310a5c"/><stop offset=".774" stop-color="#4d0d6c"/><stop offset=".795" stop-color="#7d1e6d"/><stop offset=".815" stop-color="#c73e4c"/><stop offset=".826" stop-color="#e9612b"/><stop offset=".836" stop-color="#f8890c"/><stop offset=".846" stop-color="#fb9b06"/><stop offset=".856" stop-color="#f8890c"/><stop offset=".867" stop-color="#ea632a"/><stop offset=".877" stop-color="#c83f4b"/><stop offset=".887" stop-color="#a02a63"/><stop offset=".903" stop-color="#6f196e"/><stop offset=".923" stop-color="#440a68"/><stop offset=".949" stop-color="#240c4f"/><stop offset="1" stop-color="#0e092b"/></linearGradient><linearGradient id="e32" href="#gv"><stop offset="0" stop-color="#040314"/><stop offset=".056" stop-color="#09061f"/><stop offset=".087" stop-color="#110a30"/><stop offset=".118" stop-color="#380962"/><stop offset=".133" stop-color="#470b6a"/><stop offset=".154" stop-color="#360961"/><stop offset=".174" stop-color="#180c3c"/><stop offset=".19" stop-color="#0e092b"/><stop offset=".287" stop-color="#040314"/><stop offset=".6" stop-color="#08051d"/><stop offset=".713" stop-color="#150b37"/><stop offset=".759" stop-color="#360961"/><stop offset=".779" stop-color="#550f6d"/><stop offset=".795" stop-color="#7c1d6d"/><stop offset=".81" stop-color="#b1325a"/><stop offset=".826" stop-color="#e75e2e"/><stop offset=".836" stop-color="#f8870e"/><stop offset=".846" stop-color="#fb9b06"/><stop offset=".856" stop-color="#f98c0a"/><stop offset=".867" stop-color="#eb6628"/><stop offset=".877" stop-color="#cb4149"/><stop offset=".887" stop-color="#a32c61"/><stop offset=".903" stop-color="#71196e"/><stop offset=".918" stop-color="#4d0d6c"/><stop offset=".949" stop-color="#240c4f"/><stop offset="1" stop-color="#0e092b"/></linearGradient><linearGradient id="e33" href="#gv"><stop offset="0" stop-color="#040314"/><stop offset=".067" stop-color="#0b0724"/><stop offset=".087" stop-color="#120a32"/><stop offset=".113" stop-color="#390963"/><stop offset=".133" stop-color="#57106e"/><stop offset=".144" stop-color="#520e6d"/><stop offset=".159" stop-color="#380962"/><stop offset=".185" stop-color="#120a32"/><stop offset=".226" stop-color="#09061f"/><stop offset=".287" stop-color="#040314"/><stop offset=".605" stop-color="#08051d"/><stop offset=".713" stop-color="#150b37"/><stop offset=".738" stop-color="#210c4a"/><stop offset=".764" stop-color="#3b0964"/><stop offset=".795" stop-color="#7a1d6d"/><stop offset=".81" stop-color="#b0315b"/><stop offset=".826" stop-color="#e65d2f"/><stop offset=".836" stop-color="#f8850f"/><stop offset=".846" stop-color="#fb9b06"/><stop offset=".856" stop-color="#f98e09"/><stop offset=".867" stop-color="#ec6726"/><stop offset=".877" stop-color="#ce4347"/><stop offset=".887" stop-color="#a52c60"/><stop offset=".903" stop-color="#721a6e"/><stop offset=".923" stop-color="#450a69"/><stop offset=".944" stop-color="#290b55"/><stop offset="1" stop-color="#0e092b"/></linearGradient><linearGradient id="e34" href="#gv"><stop offset="0" stop-color="#040314"/><stop offset=".082" stop-color="#110a30"/><stop offset=".097" stop-color="#1f0c48"/><stop offset=".113" stop-color="#400a67"/><stop offset=".133" stop-color="#62146e"/><stop offset=".144" stop-color="#5d126e"/><stop offset=".159" stop-color="#3e0966"/><stop offset=".179" stop-color="#190c3e"/><stop offset=".19" stop-color="#110a30"/><stop offset=".221" stop-color="#0a0722"/><stop offset=".328" stop-color="#040312"/><stop offset=".574" stop-color="#07051b"/><stop offset=".646" stop-color="#0a0722"/><stop offset=".718" stop-color="#160b39"/><stop offset=".759" stop-color="#340a5f"/><stop offset=".779" stop-color="#540f6d"/><stop offset=".795" stop-color="#781c6d"/><stop offset=".81" stop-color="#ae305c"/><stop offset=".826" stop-color="#e65d2f"/><stop offset=".836" stop-color="#f8850f"/><stop offset=".846" stop-color="#fb9d07"/><stop offset=".856" stop-color="#fa9008"/><stop offset=".867" stop-color="#ee6a24"/><stop offset=".877" stop-color="#cf4446"/><stop offset=".887" stop-color="#a62d60"/><stop offset=".903" stop-color="#741a6e"/><stop offset=".918" stop-color="#4f0d6c"/><stop offset=".938" stop-color="#310a5c"/><stop offset=".969" stop-color="#180c3c"/><stop offset="1" stop-color="#0e092b"/></linearGradient><linearGradient id="e35" href="#gv"><stop offset="0" stop-color="#040314"/><stop offset=".062" stop-color="#0b0724"/><stop offset=".087" stop-color="#150b37"/><stop offset=".097" stop-color="#210c4a"/><stop offset=".113" stop-color="#450a69"/><stop offset=".133" stop-color="#69166e"/><stop offset=".144" stop-color="#64156e"/><stop offset=".159" stop-color="#440a68"/><stop offset=".174" stop-color="#210c4a"/><stop offset=".185" stop-color="#150b37"/><stop offset=".231" stop-color="#09061f"/><stop offset=".328" stop-color="#040312"/><stop offset=".574" stop-color="#07051b"/><stop offset=".646" stop-color="#0a0722"/><stop offset=".718" stop-color="#160b39"/><stop offset=".759" stop-color="#340a5f"/><stop offset=".779" stop-color="#540f6d"/><stop offset=".795" stop-color="#781c6d"/><stop offset=".81" stop-color="#ae305c"/><stop offset=".826" stop-color="#e65d2f"/><stop offset=".836" stop-color="#f8850f"/><stop offset=".846" stop-color="#fb9d07"/><stop offset=".856" stop-color="#fa9207"/><stop offset=".867" stop-color="#ef6c23"/><stop offset=".882" stop-color="#bc3754"/><stop offset=".903" stop-color="#741a6e"/><stop offset=".938" stop-color="#310a5c"/><stop offset=".969" stop-color="#180c3c"/><stop offset="1" stop-color="#0e092b"/></linearGradient><linearGradient id="e36" href="#gv"><stop offset="0" stop-color="#040314"/><stop offset=".062" stop-color="#0b0724"/><stop offset=".087" stop-color="#150b37"/><stop offset=".097" stop-color="#210c4a"/><stop offset=".113" stop-color="#450a69"/><stop offset=".123" stop-color="#5d126e"/><stop offset=".133" stop-color="#69166e"/><stop offset=".144" stop-color="#64156e"/><stop offset=".159" stop-color="#440a68"/><stop offset=".174" stop-color="#210c4a"/><stop offset=".185" stop-color="#150b37"/><stop offset=".231" stop-color="#09061f"/><stop offset=".328" stop-color="#040312"/><stop offset=".574" stop-color="#07051b"/><stop offset=".646" stop-color="#0a0722"/><stop offset=".718" stop-color="#160b39"/><stop offset=".759" stop-color="#340a5f"/><stop offset=".779" stop-color="#540f6d"/><stop offset=".795" stop-color="#781c6d"/><stop offset=".81" stop-color="#ae305c"/><stop offset=".826" stop-color="#e65d2f"/><stop offset=".836" stop-color="#f8850f"/><stop offset=".846" stop-color="#fb9d07"/><stop offset=".856" stop-color="#fa9207"/><stop offset=".867" stop-color="#ef6c23"/><stop offset=".882" stop-color="#bc3754"/><stop offset=".903" stop-color="#741a6e"/><stop offset=".938" stop-color="#310a5c"/><stop offset=".969" stop-color="#180c3c"/><stop offset="1" stop-color="#0e092b"/></linearGradient><linearGradient id="e37" href="#gv"><stop offset="0" stop-color="#040314"/><stop offset=".082" stop-color="#110a30"/><stop offset=".097" stop-color="#1f0c48"/><stop offset=".113" stop-color="#420a68"/><stop offset=".133" stop-color="#64156e"/><stop offset=".144" stop-color="#5f136e"/><stop offset=".159" stop-color="#400a67"/><stop offset=".179" stop-color="#190c3e"/><stop offset=".19" stop-color="#110a30"/><stop offset=".221" stop-color="#0a0722"/><stop offset=".328" stop-color="#040312"/><stop offset=".523" stop-color="#060419"/><stop offset=".646" stop-color="#0a0722"/><stop offset=".718" stop-color="#160b39"/><stop offset=".759" stop-color="#340a5f"/><stop offset=".779" stop-color="#540f6d"/><stop offset=".795" stop-color="#781c6d"/><stop offset=".81" stop-color="#ae305c"/><stop offset=".826" stop-color="#e65d2f"/><stop offset=".836" stop-color="#f8850f"/><stop offset=".846" stop-color="#fb9b06"/><stop offset=".856" stop-color="#fa9008"/><stop offset=".867" stop-color="#ee6a24"/><stop offset=".882" stop-color="#ba3655"/><stop offset=".903" stop-color="#721a6e"/><stop offset=".918" stop-color="#4f0d6c"/><stop offset=".944" stop-color="#2b0b57"/><stop offset=".969" stop-color="#180c3c"/><stop offset="1" stop-color="#0e092b"/></linearGradient><linearGradient id="e38" href="#gv"><stop offset="0" stop-color="#040314"/><stop offset=".072" stop-color="#0c0826"/><stop offset=".087" stop-color="#120a32"/><stop offset=".113" stop-color="#390963"/><stop offset=".133" stop-color="#59106e"/><stop offset=".154" stop-color="#440a68"/><stop offset=".169" stop-color="#240c4f"/><stop offset=".185" stop-color="#120a32"/><stop offset=".226" stop-color="#09061f"/><stop offset=".287" stop-color="#040314"/><stop offset=".605" stop-color="#08051d"/><stop offset=".713" stop-color="#150b37"/><stop offset=".738" stop-color="#210c4a"/><stop offset=".764" stop-color="#3b0964"/><stop offset=".795" stop-color="#7a1d6d"/><stop offset=".81" stop-color="#b0315b"/><stop offset=".826" stop-color="#e65d2f"/><stop offset=".836" stop-color="#f8850f"/><stop offset=".846" stop-color="#fb9b06"/><stop offset=".856" stop-color="#f98e09"/><stop offset=".867" stop-color="#ec6726"/><stop offset=".877" stop-color="#cc4248"/><stop offset=".887" stop-color="#a52c60"/><stop offset=".903" stop-color="#721a6e"/><stop offset=".923" stop-color="#450a69"/><stop offset=".944" stop-color="#290b55"/><stop offset="1" stop-color="#0e092b"/></linearGradient><linearGradient id="e39" href="#gv"><stop offset="0" stop-color="#040314"/><stop offset=".056" stop-color="#09061f"/><stop offset=".087" stop-color="#110a30"/><stop offset=".118" stop-color="#390963"/><stop offset=".133" stop-color="#490b6a"/><stop offset=".154" stop-color="#380962"/><stop offset=".174" stop-color="#180c3c"/><stop offset=".19" stop-color="#0e092b"/><stop offset=".287" stop-color="#040314"/><stop offset=".6" stop-color="#08051d"/><stop offset=".713" stop-color="#150b37"/><stop offset=".754" stop-color="#2f0a5b"/><stop offset=".774" stop-color="#4c0c6b"/><stop offset=".795" stop-color="#7c1d6d"/><stop offset=".81" stop-color="#b1325a"/><stop offset=".826" stop-color="#e75e2e"/><stop offset=".836" stop-color="#f8850f"/><stop offset=".846" stop-color="#fb9906"/><stop offset=".856" stop-color="#f98b0b"/><stop offset=".867" stop-color="#eb6429"/><stop offset=".877" stop-color="#ca404a"/><stop offset=".887" stop-color="#a22b62"/><stop offset=".903" stop-color="#71196e"/><stop offset=".918" stop-color="#4d0d6c"/><stop offset=".949" stop-color="#240c4f"/><stop offset="1" stop-color="#0e092b"/></linearGradient><linearGradient id="e40" href="#gv"><stop offset="0" stop-color="#040314"/><stop offset=".077" stop-color="#0b0724"/><stop offset=".097" stop-color="#140b34"/><stop offset=".123" stop-color="#320a5e"/><stop offset=".133" stop-color="#390963"/><stop offset=".154" stop-color="#2b0b57"/><stop offset=".185" stop-color="#0e092b"/><stop offset=".282" stop-color="#040314"/><stop offset=".595" stop-color="#08051d"/><stop offset=".708" stop-color="#140b34"/><stop offset=".759" stop-color="#360961"/><stop offset=".779" stop-color="#57106e"/><stop offset=".795" stop-color="#7d1e6d"/><stop offset=".81" stop-color="#b3325a"/><stop offset=".826" stop-color="#e8602d"/><stop offset=".836" stop-color="#f8870e"/><stop offset=".846" stop-color="#fb9906"/><stop offset=".856" stop-color="#f8890c"/><stop offset=".867" stop-color="#e9612b"/><stop offset=".877" stop-color="#c73e4c"/><stop offset=".887" stop-color="#a02a63"/><stop offset=".903" stop-color="#6d186e"/><stop offset=".928" stop-color="#3b0964"/><stop offset=".949" stop-color="#240c4f"/><stop offset="1" stop-color="#0e092b"/></linearGradient><linearGradient id="e41" href="#gv"><stop offset="0" stop-color="#040312"/><stop offset=".087" stop-color="#0c0826"/><stop offset=".133" stop-color="#280b53"/><stop offset=".19" stop-color="#0b0724"/><stop offset=".313" stop-color="#040312"/><stop offset=".641" stop-color="#0a0722"/><stop offset=".718" stop-color="#180c3c"/><stop offset=".754" stop-color="#310a5c"/><stop offset=".779" stop-color="#59106e"/><stop offset=".795" stop-color="#7f1e6c"/><stop offset=".81" stop-color="#b63458"/><stop offset=".826" stop-color="#ea632a"/><stop offset=".836" stop-color="#f8890c"/><stop offset=".846" stop-color="#fb9706"/><stop offset=".856" stop-color="#f8850f"/><stop offset=".867" stop-color="#e75e2e"/><stop offset=".877" stop-color="#c43c4e"/><stop offset=".887" stop-color="#9d2964"/><stop offset=".903" stop-color="#6c186e"/><stop offset=".923" stop-color="#420a68"/><stop offset=".949" stop-color="#230c4c"/><stop offset="1" stop-color="#0d0829"/></linearGradient><linearGradient id="e42" href="#gv"><stop offset="0" stop-color="#040312"/><stop offset=".087" stop-color="#0a0722"/><stop offset=".128" stop-color="#1b0c41"/><stop offset=".144" stop-color="#1b0c41"/><stop offset=".195" stop-color="#09061f"/><stop offset=".303" stop-color="#040312"/><stop offset=".636" stop-color="#0a0722"/><stop offset=".718" stop-color="#180c3c"/><stop offset=".759" stop-color="#380962"/><stop offset=".779" stop-color="#59106e"/><stop offset=".795" stop-color="#7f1e6c"/><stop offset=".81" stop-color="#b63458"/><stop offset=".826" stop-color="#ea632a"/><stop offset=".836" stop-color="#f8890c"/><stop offset=".846" stop-color="#fb9606"/><stop offset=".856" stop-color="#f68013"/><stop offset=".867" stop-color="#e45a31"/><stop offset=".882" stop-color="#ad305d"/><stop offset=".897" stop-color="#771c6d"/><stop offset=".918" stop-color="#490b6a"/><stop offset=".938" stop-color="#2d0b59"/><stop offset=".969" stop-color="#160b39"/><stop offset="1" stop-color="#0d0829"/></linearGradient><linearGradient id="e43" href="#gv"><stop offset="0" stop-color="#040312"/><stop offset=".092" stop-color="#09061f"/><stop offset=".128" stop-color="#120a32"/><stop offset=".205" stop-color="#07051b"/><stop offset=".349" stop-color="#040312"/><stop offset=".651" stop-color="#0b0724"/><stop offset=".718" stop-color="#180c3c"/><stop offset=".759" stop-color="#380962"/><stop offset=".779" stop-color="#59106e"/><stop offset=".795" stop-color="#7f1e6c"/><stop offset=".81" stop-color="#b73557"/><stop offset=".826" stop-color="#eb6429"/><stop offset=".841" stop-color="#fa9207"/><stop offset=".851" stop-color="#f8890c"/><stop offset=".862" stop-color="#ec6726"/><stop offset=".872" stop-color="#ce4347"/><stop offset=".882" stop-color="#a52c60"/><stop offset=".897" stop-color="#721a6e"/><stop offset=".913" stop-color="#4f0d6c"/><stop offset=".944" stop-color="#260c51"/><stop offset="1" stop-color="#0d0829"/></linearGradient><linearGradient id="e44" href="#gv"><stop offset="0" stop-color="#030210"/><stop offset=".123" stop-color="#0c0826"/><stop offset=".246" stop-color="#040314"/><stop offset=".39" stop-color="#040314"/><stop offset=".533" stop-color="#0b0724"/><stop offset=".641" stop-color="#0b0724"/><stop offset=".708" stop-color="#150b37"/><stop offset=".754" stop-color="#320a5e"/><stop offset=".769" stop-color="#470b6a"/><stop offset=".79" stop-color="#721a6e"/><stop offset=".805" stop-color="#a52c60"/><stop offset=".815" stop-color="#cc4248"/><stop offset=".826" stop-color="#eb6628"/><stop offset=".836" stop-color="#f8890c"/><stop offset=".841" stop-color="#fa9008"/><stop offset=".851" stop-color="#f8850f"/><stop offset=".862" stop-color="#e9612b"/><stop offset=".872" stop-color="#c73e4c"/><stop offset=".882" stop-color="#9f2a63"/><stop offset=".897" stop-color="#6d186e"/><stop offset=".923" stop-color="#3b0964"/><stop offset=".944" stop-color="#240c4f"/><stop offset="1" stop-color="#0d0829"/></linearGradient><linearGradient id="e45" href="#gv"><stop offset="0" stop-color="#030210"/><stop offset=".123" stop-color="#09061f"/><stop offset=".267" stop-color="#040312"/><stop offset=".39" stop-color="#040314"/><stop offset=".538" stop-color="#0d0829"/><stop offset=".631" stop-color="#0c0826"/><stop offset=".708" stop-color="#160b39"/><stop offset=".754" stop-color="#340a5f"/><stop offset=".774" stop-color="#520e6d"/><stop offset=".79" stop-color="#751b6e"/><stop offset=".805" stop-color="#a82e5f"/><stop offset=".821" stop-color="#e15635"/><stop offset=".831" stop-color="#f57d15"/><stop offset=".841" stop-color="#fa9207"/><stop offset=".851" stop-color="#f78212"/><stop offset=".862" stop-color="#e55c30"/><stop offset=".877" stop-color="#ad305d"/><stop offset=".892" stop-color="#751b6e"/><stop offset=".913" stop-color="#470b6a"/><stop offset=".944" stop-color="#210c4a"/><stop offset="1" stop-color="#0c0826"/></linearGradient><linearGradient id="e46" href="#gv"><stop offset="0" stop-color="#030210"/><stop offset=".128" stop-color="#07051b"/><stop offset=".364" stop-color="#040312"/><stop offset=".528" stop-color="#10092d"/><stop offset=".621" stop-color="#0e092b"/><stop offset=".708" stop-color="#1b0c41"/><stop offset=".754" stop-color="#390963"/><stop offset=".774" stop-color="#57106e"/><stop offset=".79" stop-color="#7a1d6d"/><stop offset=".805" stop-color="#ae305c"/><stop offset=".821" stop-color="#e65d2f"/><stop offset=".831" stop-color="#f8850f"/><stop offset=".841" stop-color="#fb9606"/><stop offset=".851" stop-color="#f67e14"/><stop offset=".862" stop-color="#e15635"/><stop offset=".877" stop-color="#a52c60"/><stop offset=".892" stop-color="#6f196e"/><stop offset=".908" stop-color="#4a0c6b"/><stop offset=".938" stop-color="#210c4a"/><stop offset=".964" stop-color="#120a32"/><stop offset="1" stop-color="#0a0722"/></linearGradient><linearGradient id="e47" href="#gv"><stop offset="0" stop-color="#02020e"/><stop offset=".4" stop-color="#040312"/><stop offset=".544" stop-color="#150b37"/><stop offset=".621" stop-color="#150b37"/><stop offset=".692" stop-color="#210c4a"/><stop offset=".744" stop-color="#3e0966"/><stop offset=".769" stop-color="#61136e"/><stop offset=".79" stop-color="#8f2469"/><stop offset=".805" stop-color="#c13a50"/><stop offset=".815" stop-color="#e55c30"/><stop offset=".826" stop-color="#f8870e"/><stop offset=".836" stop-color="#fca50a"/><stop offset=".846" stop-color="#fa9008"/><stop offset=".856" stop-color="#eb6429"/><stop offset=".867" stop-color="#c73e4c"/><stop offset=".877" stop-color="#9b2964"/><stop offset=".892" stop-color="#65156e"/><stop offset=".913" stop-color="#390963"/><stop offset=".938" stop-color="#1b0c41"/><stop offset="1" stop-color="#07051b"/></linearGradient><linearGradient id="e48" href="#gv"><stop offset="0" stop-color="#02010a"/><stop offset=".4" stop-color="#02020e"/><stop offset=".462" stop-color="#07051b"/><stop offset=".549" stop-color="#210c4a"/><stop offset=".585" stop-color="#230c4c"/><stop offset=".651" stop-color="#3e0966"/><stop offset=".718" stop-color="#510e6c"/><stop offset=".764" stop-color="#741a6e"/><stop offset=".779" stop-color="#8a226a"/><stop offset=".795" stop-color="#ab2f5e"/><stop offset=".805" stop-color="#ca404a"/><stop offset=".815" stop-color="#e9612b"/><stop offset=".826" stop-color="#f98b0b"/><stop offset=".836" stop-color="#fca309"/><stop offset=".846" stop-color="#f98b0b"/><stop offset=".856" stop-color="#e75e2e"/><stop offset=".872" stop-color="#a92e5e"/><stop offset=".887" stop-color="#6f196e"/><stop offset=".908" stop-color="#3d0965"/><stop offset=".928" stop-color="#1f0c48"/><stop offset=".964" stop-color="#0c0826"/><stop offset="1" stop-color="#060419"/></linearGradient><linearGradient id="e49" href="#gv"><stop offset="0" stop-color="#010106"/><stop offset=".4" stop-color="#02020c"/><stop offset=".441" stop-color="#040314"/><stop offset=".487" stop-color="#10092d"/><stop offset=".528" stop-color="#2d0b59"/><stop offset=".554" stop-color="#400a67"/><stop offset=".631" stop-color="#5d126e"/><stop offset=".733" stop-color="#450a69"/><stop offset=".769" stop-color="#5c126e"/><stop offset=".785" stop-color="#781c6d"/><stop offset=".8" stop-color="#a62d60"/><stop offset=".81" stop-color="#cf4446"/><stop offset=".821" stop-color="#ef6c23"/><stop offset=".831" stop-color="#fa9008"/><stop offset=".836" stop-color="#fb9706"/><stop offset=".846" stop-color="#f78410"/><stop offset=".856" stop-color="#e35933"/><stop offset=".872" stop-color="#a22b62"/><stop offset=".887" stop-color="#69166e"/><stop offset=".903" stop-color="#420a68"/><stop offset=".933" stop-color="#190c3e"/><stop offset=".964" stop-color="#0b0724"/><stop offset="1" stop-color="#050417"/></linearGradient><linearGradient id="e50" href="#gv"><stop offset="0" stop-color="#010005"/><stop offset=".364" stop-color="#010108"/><stop offset=".462" stop-color="#09061f"/><stop offset=".497" stop-color="#1f0c48"/><stop offset=".523" stop-color="#440a68"/><stop offset=".544" stop-color="#61136e"/><stop offset=".574" stop-color="#751b6e"/><stop offset=".595" stop-color="#71196e"/><stop offset=".631" stop-color="#3e0966"/><stop offset=".656" stop-color="#290b55"/><stop offset=".692" stop-color="#1f0c48"/><stop offset=".718" stop-color="#210c4a"/><stop offset=".749" stop-color="#320a5e"/><stop offset=".764" stop-color="#450a69"/><stop offset=".79" stop-color="#801f6c"/><stop offset=".805" stop-color="#bd3853"/><stop offset=".815" stop-color="#e55c30"/><stop offset=".826" stop-color="#f8850f"/><stop offset=".836" stop-color="#fb9606"/><stop offset=".846" stop-color="#f67e14"/><stop offset=".856" stop-color="#df5337"/><stop offset=".872" stop-color="#9d2964"/><stop offset=".887" stop-color="#64156e"/><stop offset=".903" stop-color="#3e0966"/><stop offset=".928" stop-color="#1b0c41"/><stop offset=".969" stop-color="#09061f"/><stop offset="1" stop-color="#050417"/></linearGradient><linearGradient id="e51" href="#gv"><stop offset="0" stop-color="#000004"/><stop offset=".364" stop-color="#010108"/><stop offset=".456" stop-color="#09061f"/><stop offset=".482" stop-color="#190c3e"/><stop offset=".508" stop-color="#450a69"/><stop offset=".533" stop-color="#781c6d"/><stop offset=".549" stop-color="#85216b"/><stop offset=".569" stop-color="#781c6d"/><stop offset=".595" stop-color="#4d0d6c"/><stop offset=".626" stop-color="#1c0c43"/><stop offset=".656" stop-color="#110a30"/><stop offset=".718" stop-color="#160b39"/><stop offset=".754" stop-color="#320a5e"/><stop offset=".785" stop-color="#751b6e"/><stop offset=".8" stop-color="#b1325a"/><stop offset=".815" stop-color="#eb6429"/><stop offset=".831" stop-color="#fa9207"/><stop offset=".841" stop-color="#f8890c"/><stop offset=".851" stop-color="#eb6429"/><stop offset=".867" stop-color="#ae305c"/><stop offset=".882" stop-color="#6f196e"/><stop offset=".903" stop-color="#3b0964"/><stop offset=".923" stop-color="#1e0c45"/><stop offset=".954" stop-color="#0c0826"/><stop offset="1" stop-color="#040314"/></linearGradient><linearGradient id="e52" href="#gv"><stop offset="0" stop-color="#000004"/><stop offset=".333" stop-color="#010106"/><stop offset=".4" stop-color="#02020c"/><stop offset=".446" stop-color="#07051b"/><stop offset=".477" stop-color="#190c3e"/><stop offset=".497" stop-color="#420a68"/><stop offset=".523" stop-color="#84206b"/><stop offset=".533" stop-color="#8d2369"/><stop offset=".544" stop-color="#85216b"/><stop offset=".574" stop-color="#470b6a"/><stop offset=".6" stop-color="#1f0c48"/><stop offset=".615" stop-color="#120a32"/><stop offset=".646" stop-color="#0a0722"/><stop offset=".708" stop-color="#10092d"/><stop offset=".744" stop-color="#240c4f"/><stop offset=".764" stop-color="#450a69"/><stop offset=".779" stop-color="#6d186e"/><stop offset=".795" stop-color="#a82e5f"/><stop offset=".81" stop-color="#e45a31"/><stop offset=".821" stop-color="#f57d15"/><stop offset=".831" stop-color="#f98e09"/><stop offset=".841" stop-color="#f78410"/><stop offset=".851" stop-color="#e75e2e"/><stop offset=".867" stop-color="#a82e5f"/><stop offset=".882" stop-color="#6a176e"/><stop offset=".903" stop-color="#380962"/><stop offset=".928" stop-color="#180c3c"/><stop offset=".959" stop-color="#0a0722"/><stop offset="1" stop-color="#040314"/></linearGradient><linearGradient id="e53" href="#gv"><stop offset="0" stop-color="#000004"/><stop offset=".333" stop-color="#010106"/><stop offset=".441" stop-color="#060419"/><stop offset=".462" stop-color="#0e092b"/><stop offset=".482" stop-color="#260c51"/><stop offset=".497" stop-color="#510e6c"/><stop offset=".513" stop-color="#801f6c"/><stop offset=".523" stop-color="#902568"/><stop offset=".533" stop-color="#84206b"/><stop offset=".559" stop-color="#440a68"/><stop offset=".574" stop-color="#260c51"/><stop offset=".595" stop-color="#120a32"/><stop offset=".641" stop-color="#08051d"/><stop offset=".708" stop-color="#10092d"/><stop offset=".749" stop-color="#2f0a5b"/><stop offset=".764" stop-color="#4c0c6b"/><stop offset=".779" stop-color="#781c6d"/><stop offset=".79" stop-color="#a32c61"/><stop offset=".805" stop-color="#df5337"/><stop offset=".821" stop-color="#f57d15"/><stop offset=".831" stop-color="#f8890c"/><stop offset=".841" stop-color="#f57d15"/><stop offset=".851" stop-color="#e25734"/><stop offset=".867" stop-color="#a22b62"/><stop offset=".882" stop-color="#65156e"/><stop offset=".903" stop-color="#340a5f"/><stop offset=".923" stop-color="#190c3e"/><stop offset=".949" stop-color="#0c0826"/><stop offset="1" stop-color="#040314"/></linearGradient><linearGradient id="e54" href="#gv"><stop offset="0" stop-color="#000004"/><stop offset=".364" stop-color="#010108"/><stop offset=".446" stop-color="#08051d"/><stop offset=".462" stop-color="#0e092b"/><stop offset=".477" stop-color="#1f0c48"/><stop offset=".497" stop-color="#550f6d"/><stop offset=".513" stop-color="#88226a"/><stop offset=".518" stop-color="#902568"/><stop offset=".528" stop-color="#88226a"/><stop offset=".549" stop-color="#4f0d6c"/><stop offset=".569" stop-color="#280b53"/><stop offset=".585" stop-color="#180c3c"/><stop offset=".6" stop-color="#10092d"/><stop offset=".641" stop-color="#09061f"/><stop offset=".708" stop-color="#110a30"/><stop offset=".744" stop-color="#2b0b57"/><stop offset=".759" stop-color="#490b6a"/><stop offset=".774" stop-color="#741a6e"/><stop offset=".785" stop-color="#9b2964"/><stop offset=".795" stop-color="#c83f4b"/><stop offset=".805" stop-color="#e55c30"/><stop offset=".831" stop-color="#f67e14"/><stop offset=".841" stop-color="#f1731d"/><stop offset=".851" stop-color="#de5238"/><stop offset=".862" stop-color="#b43359"/><stop offset=".872" stop-color="#85216b"/><stop offset=".887" stop-color="#520e6d"/><stop offset=".908" stop-color="#280b53"/><stop offset=".938" stop-color="#0e092b"/><stop offset="1" stop-color="#040312"/></linearGradient><linearGradient id="e55" href="#gv"><stop offset="0" stop-color="#000004"/><stop offset=".364" stop-color="#010108"/><stop offset=".446" stop-color="#08051d"/><stop offset=".477" stop-color="#1e0c45"/><stop offset=".497" stop-color="#510e6c"/><stop offset=".513" stop-color="#82206c"/><stop offset=".523" stop-color="#922568"/><stop offset=".538" stop-color="#7f1e6c"/><stop offset=".559" stop-color="#4a0c6b"/><stop offset=".59" stop-color="#190c3e"/><stop offset=".61" stop-color="#10092d"/><stop offset=".651" stop-color="#0a0722"/><stop offset=".708" stop-color="#120a32"/><stop offset=".744" stop-color="#320a5e"/><stop offset=".769" stop-color="#71196e"/><stop offset=".79" stop-color="#c03a51"/><stop offset=".8" stop-color="#da4e3c"/><stop offset=".831" stop-color="#f2741c"/><stop offset=".841" stop-color="#ee6a24"/><stop offset=".851" stop-color="#d84c3e"/><stop offset=".862" stop-color="#ad305d"/><stop offset=".872" stop-color="#801f6c"/><stop offset=".887" stop-color="#4d0d6c"/><stop offset=".903" stop-color="#2d0b59"/><stop offset=".933" stop-color="#10092d"/><stop offset="1" stop-color="#040312"/></linearGradient><linearGradient id="e56" href="#gv"><stop offset="0" stop-color="#000004"/><stop offset=".333" stop-color="#010106"/><stop offset=".4" stop-color="#02020c"/><stop offset=".446" stop-color="#07051b"/><stop offset=".472" stop-color="#150b37"/><stop offset=".487" stop-color="#2b0b57"/><stop offset=".503" stop-color="#540f6d"/><stop offset=".518" stop-color="#801f6c"/><stop offset=".528" stop-color="#922568"/><stop offset=".544" stop-color="#85216b"/><stop offset=".564" stop-color="#510e6c"/><stop offset=".595" stop-color="#1c0c43"/><stop offset=".615" stop-color="#110a30"/><stop offset=".641" stop-color="#0c0826"/><stop offset=".703" stop-color="#120a32"/><stop offset=".733" stop-color="#290b55"/><stop offset=".749" stop-color="#450a69"/><stop offset=".764" stop-color="#6f196e"/><stop offset=".79" stop-color="#c73e4c"/><stop offset=".831" stop-color="#eb6628"/><stop offset=".846" stop-color="#df5337"/><stop offset=".862" stop-color="#a62d60"/><stop offset=".872" stop-color="#7a1d6d"/><stop offset=".887" stop-color="#4a0c6b"/><stop offset=".903" stop-color="#290b55"/><stop offset=".933" stop-color="#0e092b"/><stop offset="1" stop-color="#030210"/></linearGradient><linearGradient id="e57" href="#gv"><stop offset="0" stop-color="#000004"/><stop offset=".364" stop-color="#010108"/><stop offset=".451" stop-color="#08051d"/><stop offset=".482" stop-color="#1c0c43"/><stop offset=".503" stop-color="#440a68"/><stop offset=".523" stop-color="#7c1d6d"/><stop offset=".538" stop-color="#922568"/><stop offset=".549" stop-color="#8a226a"/><stop offset=".574" stop-color="#4a0c6b"/><stop offset=".605" stop-color="#1c0c43"/><stop offset=".641" stop-color="#0e092b"/><stop offset=".697" stop-color="#120a32"/><stop offset=".728" stop-color="#290b55"/><stop offset=".744" stop-color="#450a69"/><stop offset=".759" stop-color="#6f196e"/><stop offset=".785" stop-color="#c13a50"/><stop offset=".815" stop-color="#d34743"/><stop offset=".836" stop-color="#e65d2f"/><stop offset=".851" stop-color="#cb4149"/><stop offset=".862" stop-color="#a02a63"/><stop offset=".872" stop-color="#751b6e"/><stop offset=".887" stop-color="#450a69"/><stop offset=".908" stop-color="#1f0c48"/><stop offset=".944" stop-color="#0a0722"/><stop offset="1" stop-color="#030210"/></linearGradient><linearGradient id="e58" href="#gv"><stop offset="0" stop-color="#000004"/><stop offset=".338" stop-color="#010106"/><stop offset=".405" stop-color="#02020c"/><stop offset=".451" stop-color="#07051b"/><stop offset=".487" stop-color="#1b0c41"/><stop offset=".513" stop-color="#4c0c6b"/><stop offset=".533" stop-color="#82206c"/><stop offset=".544" stop-color="#922568"/><stop offset=".559" stop-color="#85216b"/><stop offset=".579" stop-color="#520e6d"/><stop offset=".61" stop-color="#210c4a"/><stop offset=".656" stop-color="#10092d"/><stop offset=".697" stop-color="#150b37"/><stop offset=".728" stop-color="#310a5c"/><stop offset=".749" stop-color="#61136e"/><stop offset=".769" stop-color="#a82e5f"/><stop offset=".779" stop-color="#bf3952"/><stop offset=".81" stop-color="#c13a50"/><stop offset=".836" stop-color="#e25734"/><stop offset=".851" stop-color="#c73e4c"/><stop offset=".862" stop-color="#9d2964"/><stop offset=".872" stop-color="#721a6e"/><stop offset=".887" stop-color="#440a68"/><stop offset=".903" stop-color="#260c51"/><stop offset=".933" stop-color="#0c0826"/><stop offset="1" stop-color="#030210"/></linearGradient><linearGradient id="e59" href="#gv"><stop offset="0" stop-color="#000004"/><stop offset=".338" stop-color="#010106"/><stop offset=".456" stop-color="#07051b"/><stop offset=".482" stop-color="#110a30"/><stop offset=".497" stop-color="#1f0c48"/><stop offset=".523" stop-color="#520e6d"/><stop offset=".544" stop-color="#88226a"/><stop offset=".554" stop-color="#932667"/><stop offset=".564" stop-color="#8c2369"/><stop offset=".59" stop-color="#520e6d"/><stop offset=".621" stop-color="#240c4f"/><stop offset=".646" stop-color="#150b37"/><stop offset=".682" stop-color="#140b34"/><stop offset=".718" stop-color="#290b55"/><stop offset=".744" stop-color="#62146e"/><stop offset=".769" stop-color="#b73557"/><stop offset=".779" stop-color="#bf3952"/><stop offset=".805" stop-color="#b0315b"/><stop offset=".836" stop-color="#de5238"/><stop offset=".851" stop-color="#c33b4f"/><stop offset=".862" stop-color="#982766"/><stop offset=".872" stop-color="#6f196e"/><stop offset=".887" stop-color="#420a68"/><stop offset=".903" stop-color="#240c4f"/><stop offset=".938" stop-color="#0a0722"/><stop offset="1" stop-color="#02020e"/></linearGradient><linearGradient id="e60" href="#gv"><stop offset="0" stop-color="#000004"/><stop offset=".344" stop-color="#010106"/><stop offset=".462" stop-color="#07051b"/><stop offset=".492" stop-color="#140b34"/><stop offset=".513" stop-color="#2b0b57"/><stop offset=".533" stop-color="#5a116e"/><stop offset=".554" stop-color="#8c2369"/><stop offset=".564" stop-color="#932667"/><stop offset=".574" stop-color="#8a226a"/><stop offset=".595" stop-color="#5f136e"/><stop offset=".621" stop-color="#310a5c"/><stop offset=".651" stop-color="#190c3e"/><stop offset=".677" stop-color="#160b39"/><stop offset=".713" stop-color="#2b0b57"/><stop offset=".738" stop-color="#62146e"/><stop offset=".764" stop-color="#b3325a"/><stop offset=".774" stop-color="#b93556"/><stop offset=".8" stop-color="#a02a63"/><stop offset=".836" stop-color="#d94d3d"/><stop offset=".851" stop-color="#bf3952"/><stop offset=".872" stop-color="#6d186e"/><stop offset=".887" stop-color="#400a67"/><stop offset=".903" stop-color="#230c4c"/><stop offset=".938" stop-color="#0a0722"/><stop offset="1" stop-color="#02020e"/></linearGradient><linearGradient id="e61" href="#gv"><stop offset="0" stop-color="#000004"/><stop offset=".374" stop-color="#010108"/><stop offset=".477" stop-color="#09061f"/><stop offset=".497" stop-color="#120a32"/><stop offset=".518" stop-color="#280b53"/><stop offset=".538" stop-color="#520e6d"/><stop offset=".569" stop-color="#932667"/><stop offset=".585" stop-color="#8c2369"/><stop offset=".61" stop-color="#550f6d"/><stop offset=".636" stop-color="#2d0b59"/><stop offset=".651" stop-color="#210c4a"/><stop offset=".682" stop-color="#1c0c43"/><stop offset=".703" stop-color="#280b53"/><stop offset=".718" stop-color="#3e0966"/><stop offset=".738" stop-color="#751b6e"/><stop offset=".759" stop-color="#b1325a"/><stop offset=".769" stop-color="#b1325a"/><stop offset=".785" stop-color="#982766"/><stop offset=".8" stop-color="#922568"/><stop offset=".836" stop-color="#d54a41"/><stop offset=".846" stop-color="#cb4149"/><stop offset=".862" stop-color="#922568"/><stop offset=".872" stop-color="#6a176e"/><stop offset=".887" stop-color="#3e0966"/><stop offset=".903" stop-color="#230c4c"/><stop offset=".933" stop-color="#0b0724"/><stop offset="1" stop-color="#02020e"/></linearGradient><linearGradient id="e62" href="#gv"><stop offset="0" stop-color="#000004"/><stop offset=".379" stop-color="#010108"/><stop offset=".451" stop-color="#040312"/><stop offset=".487" stop-color="#0a0722"/><stop offset=".513" stop-color="#180c3c"/><stop offset=".544" stop-color="#4a0c6b"/><stop offset=".569" stop-color="#85216b"/><stop offset=".585" stop-color="#952667"/><stop offset=".595" stop-color="#8d2369"/><stop offset=".615" stop-color="#64156e"/><stop offset=".641" stop-color="#360961"/><stop offset=".667" stop-color="#230c4c"/><stop offset=".682" stop-color="#230c4c"/><stop offset=".703" stop-color="#320a5e"/><stop offset=".718" stop-color="#4c0c6b"/><stop offset=".733" stop-color="#771c6d"/><stop offset=".744" stop-color="#9a2865"/><stop offset=".754" stop-color="#ae305c"/><stop offset=".764" stop-color="#ab2f5e"/><stop offset=".779" stop-color="#8d2369"/><stop offset=".795" stop-color="#82206c"/><stop offset=".81" stop-color="#9a2865"/><stop offset=".826" stop-color="#c43c4e"/><stop offset=".836" stop-color="#d34743"/><stop offset=".851" stop-color="#b93556"/><stop offset=".872" stop-color="#69166e"/><stop offset=".887" stop-color="#3d0965"/><stop offset=".903" stop-color="#210c4a"/><stop offset=".918" stop-color="#120a32"/><stop offset=".944" stop-color="#08051d"/><stop offset="1" stop-color="#02020e"/></linearGradient><linearGradient id="e63" href="#gv"><stop offset="0" stop-color="#000004"/><stop offset=".385" stop-color="#010108"/><stop offset=".487" stop-color="#08051d"/><stop offset=".528" stop-color="#1f0c48"/><stop offset=".554" stop-color="#4a0c6b"/><stop offset=".579" stop-color="#85216b"/><stop offset=".595" stop-color="#972766"/><stop offset=".61" stop-color="#87216b"/><stop offset=".626" stop-color="#65156e"/><stop offset=".651" stop-color="#390963"/><stop offset=".677" stop-color="#2b0b57"/><stop offset=".692" stop-color="#320a5e"/><stop offset=".708" stop-color="#470b6a"/><stop offset=".723" stop-color="#6a176e"/><stop offset=".738" stop-color="#9b2964"/><stop offset=".749" stop-color="#ad305d"/><stop offset=".759" stop-color="#a52c60"/><stop offset=".779" stop-color="#7c1d6d"/><stop offset=".795" stop-color="#771c6d"/><stop offset=".81" stop-color="#922568"/><stop offset=".826" stop-color="#c03a51"/><stop offset=".836" stop-color="#cf4446"/><stop offset=".841" stop-color="#ce4347"/><stop offset=".851" stop-color="#b63458"/><stop offset=".872" stop-color="#65156e"/><stop offset=".887" stop-color="#3b0964"/><stop offset=".903" stop-color="#1f0c48"/><stop offset=".938" stop-color="#09061f"/><stop offset="1" stop-color="#02020e"/></linearGradient><linearGradient id="e64" href="#gv"><stop offset="0" stop-color="#000004"/><stop offset=".39" stop-color="#010108"/><stop offset=".456" stop-color="#030210"/><stop offset=".503" stop-color="#0a0722"/><stop offset=".533" stop-color="#1b0c41"/><stop offset=".564" stop-color="#4a0c6b"/><stop offset=".59" stop-color="#85216b"/><stop offset=".605" stop-color="#982766"/><stop offset=".615" stop-color="#922568"/><stop offset=".651" stop-color="#4a0c6b"/><stop offset=".677" stop-color="#380962"/><stop offset=".703" stop-color="#4d0d6c"/><stop offset=".718" stop-color="#71196e"/><stop offset=".733" stop-color="#9f2a63"/><stop offset=".744" stop-color="#ab2f5e"/><stop offset=".754" stop-color="#a02a63"/><stop offset=".779" stop-color="#6d186e"/><stop offset=".795" stop-color="#6d186e"/><stop offset=".81" stop-color="#8c2369"/><stop offset=".826" stop-color="#bc3754"/><stop offset=".836" stop-color="#cc4248"/><stop offset=".851" stop-color="#b3325a"/><stop offset=".872" stop-color="#64156e"/><stop offset=".887" stop-color="#390963"/><stop offset=".903" stop-color="#1f0c48"/><stop offset=".933" stop-color="#0a0722"/><stop offset="1" stop-color="#02020c"/></linearGradient><linearGradient id="e65" href="#gv"><stop offset="0" stop-color="#000004"/><stop offset=".395" stop-color="#010108"/><stop offset=".503" stop-color="#08051d"/><stop offset=".533" stop-color="#140b34"/><stop offset=".554" stop-color="#260c51"/><stop offset=".579" stop-color="#550f6d"/><stop offset=".6" stop-color="#87216b"/><stop offset=".615" stop-color="#9a2865"/><stop offset=".626" stop-color="#932667"/><stop offset=".662" stop-color="#4f0d6c"/><stop offset=".677" stop-color="#450a69"/><stop offset=".697" stop-color="#550f6d"/><stop offset=".728" stop-color="#a22b62"/><stop offset=".738" stop-color="#ab2f5e"/><stop offset=".774" stop-color="#64156e"/><stop offset=".79" stop-color="#61136e"/><stop offset=".81" stop-color="#87216b"/><stop offset=".826" stop-color="#b93556"/><stop offset=".836" stop-color="#c83f4b"/><stop offset=".846" stop-color="#bf3952"/><stop offset=".862" stop-color="#87216b"/><stop offset=".872" stop-color="#61136e"/><stop offset=".887" stop-color="#380962"/><stop offset=".903" stop-color="#1e0c45"/><stop offset=".944" stop-color="#07051b"/><stop offset="1" stop-color="#02020c"/></linearGradient><linearGradient id="e66" href="#gv"><stop offset="0" stop-color="#000004"/><stop offset=".4" stop-color="#010108"/><stop offset=".487" stop-color="#040314"/><stop offset=".523" stop-color="#0b0724"/><stop offset=".559" stop-color="#210c4a"/><stop offset=".585" stop-color="#4a0c6b"/><stop offset=".615" stop-color="#932667"/><stop offset=".626" stop-color="#9d2964"/><stop offset=".636" stop-color="#952667"/><stop offset=".667" stop-color="#5d126e"/><stop offset=".682" stop-color="#57106e"/><stop offset=".697" stop-color="#69166e"/><stop offset=".723" stop-color="#a62d60"/><stop offset=".733" stop-color="#a92e5e"/><stop offset=".764" stop-color="#64156e"/><stop offset=".779" stop-color="#550f6d"/><stop offset=".8" stop-color="#69166e"/><stop offset=".826" stop-color="#b43359"/><stop offset=".836" stop-color="#c63d4d"/><stop offset=".846" stop-color="#bc3754"/><stop offset=".862" stop-color="#84206b"/><stop offset=".872" stop-color="#5f136e"/><stop offset=".887" stop-color="#360961"/><stop offset=".903" stop-color="#1c0c43"/><stop offset=".938" stop-color="#08051d"/><stop offset="1" stop-color="#02020c"/></linearGradient><linearGradient id="e67" href="#gv"><stop offset="0" stop-color="#000004"/><stop offset=".405" stop-color="#010108"/><stop offset=".487" stop-color="#040312"/><stop offset=".533" stop-color="#0b0724"/><stop offset=".559" stop-color="#180c3c"/><stop offset=".579" stop-color="#2f0a5b"/><stop offset=".6" stop-color="#59106e"/><stop offset=".631" stop-color="#a02a63"/><stop offset=".641" stop-color="#9f2a63"/><stop offset=".667" stop-color="#721a6e"/><stop offset=".682" stop-color="#6c186e"/><stop offset=".723" stop-color="#ae305c"/><stop offset=".733" stop-color="#a02a63"/><stop offset=".759" stop-color="#5d126e"/><stop offset=".779" stop-color="#4d0d6c"/><stop offset=".8" stop-color="#64156e"/><stop offset=".826" stop-color="#b1325a"/><stop offset=".836" stop-color="#c43c4e"/><stop offset=".846" stop-color="#b93556"/><stop offset=".862" stop-color="#82206c"/><stop offset=".872" stop-color="#5d126e"/><stop offset=".887" stop-color="#340a5f"/><stop offset=".903" stop-color="#1c0c43"/><stop offset=".938" stop-color="#08051d"/><stop offset="1" stop-color="#02020c"/></linearGradient><linearGradient id="e68" href="#gv"><stop offset="0" stop-color="#000004"/><stop offset=".415" stop-color="#010108"/><stop offset=".538" stop-color="#0a0722"/><stop offset=".564" stop-color="#150b37"/><stop offset=".585" stop-color="#290b55"/><stop offset=".61" stop-color="#5f136e"/><stop offset=".631" stop-color="#982766"/><stop offset=".641" stop-color="#a82e5f"/><stop offset=".651" stop-color="#a32c61"/><stop offset=".672" stop-color="#85216b"/><stop offset=".682" stop-color="#84206b"/><stop offset=".708" stop-color="#ad305d"/><stop offset=".718" stop-color="#b1325a"/><stop offset=".728" stop-color="#9f2a63"/><stop offset=".738" stop-color="#7f1e6c"/><stop offset=".754" stop-color="#59106e"/><stop offset=".769" stop-color="#470b6a"/><stop offset=".779" stop-color="#470b6a"/><stop offset=".795" stop-color="#550f6d"/><stop offset=".81" stop-color="#7c1d6d"/><stop offset=".826" stop-color="#b0315b"/><stop offset=".836" stop-color="#c13a50"/><stop offset=".846" stop-color="#b63458"/><stop offset=".862" stop-color="#7f1e6c"/><stop offset=".872" stop-color="#5a116e"/><stop offset=".887" stop-color="#320a5e"/><stop offset=".903" stop-color="#1b0c41"/><stop offset=".933" stop-color="#09061f"/><stop offset="1" stop-color="#02020c"/></linearGradient><linearGradient id="e69" href="#gv"><stop offset="0" stop-color="#000004"/><stop offset=".421" stop-color="#010108"/><stop offset=".538" stop-color="#08051d"/><stop offset=".574" stop-color="#160b39"/><stop offset=".595" stop-color="#2d0b59"/><stop offset=".621" stop-color="#6a176e"/><stop offset=".636" stop-color="#9a2865"/><stop offset=".646" stop-color="#ae305c"/><stop offset=".656" stop-color="#b0315b"/><stop offset=".677" stop-color="#9f2a63"/><stop offset=".708" stop-color="#ba3655"/><stop offset=".718" stop-color="#ad305d"/><stop offset=".733" stop-color="#7c1d6d"/><stop offset=".749" stop-color="#550f6d"/><stop offset=".764" stop-color="#420a68"/><stop offset=".774" stop-color="#400a67"/><stop offset=".795" stop-color="#520e6d"/><stop offset=".81" stop-color="#781c6d"/><stop offset=".826" stop-color="#ad305d"/><stop offset=".836" stop-color="#bf3952"/><stop offset=".846" stop-color="#b43359"/><stop offset=".862" stop-color="#7d1e6d"/><stop offset=".872" stop-color="#59106e"/><stop offset=".887" stop-color="#320a5e"/><stop offset=".903" stop-color="#190c3e"/><stop offset=".944" stop-color="#060419"/><stop offset="1" stop-color="#02020c"/></linearGradient><linearGradient id="e70" href="#gv"><stop offset="0" stop-color="#000004"/><stop offset=".426" stop-color="#010108"/><stop offset=".513" stop-color="#040312"/><stop offset=".559" stop-color="#0b0724"/><stop offset=".595" stop-color="#240c4f"/><stop offset=".621" stop-color="#5a116e"/><stop offset=".631" stop-color="#7a1d6d"/><stop offset=".651" stop-color="#b93556"/><stop offset=".697" stop-color="#c73e4c"/><stop offset=".708" stop-color="#bf3952"/><stop offset=".728" stop-color="#7c1d6d"/><stop offset=".744" stop-color="#520e6d"/><stop offset=".764" stop-color="#3b0964"/><stop offset=".779" stop-color="#3d0965"/><stop offset=".795" stop-color="#4f0d6c"/><stop offset=".815" stop-color="#87216b"/><stop offset=".831" stop-color="#b73557"/><stop offset=".836" stop-color="#bd3853"/><stop offset=".846" stop-color="#b1325a"/><stop offset=".862" stop-color="#7c1d6d"/><stop offset=".872" stop-color="#57106e"/><stop offset=".892" stop-color="#260c51"/><stop offset=".903" stop-color="#190c3e"/><stop offset=".938" stop-color="#07051b"/><stop offset="1" stop-color="#02020c"/></linearGradient><linearGradient id="e71" href="#gv"><stop offset="0" stop-color="#000004"/><stop offset=".431" stop-color="#010108"/><stop offset=".528" stop-color="#040314"/><stop offset=".564" stop-color="#0b0724"/><stop offset=".579" stop-color="#110a30"/><stop offset=".6" stop-color="#240c4f"/><stop offset=".626" stop-color="#5c126e"/><stop offset=".641" stop-color="#932667"/><stop offset=".656" stop-color="#c73e4c"/><stop offset=".682" stop-color="#d94d3d"/><stop offset=".703" stop-color="#ca404a"/><stop offset=".723" stop-color="#7f1e6c"/><stop offset=".738" stop-color="#520e6d"/><stop offset=".754" stop-color="#3b0964"/><stop offset=".774" stop-color="#360961"/><stop offset=".79" stop-color="#440a68"/><stop offset=".81" stop-color="#741a6e"/><stop offset=".826" stop-color="#a82e5f"/><stop offset=".836" stop-color="#ba3655"/><stop offset=".846" stop-color="#b0315b"/><stop offset=".862" stop-color="#781c6d"/><stop offset=".872" stop-color="#550f6d"/><stop offset=".887" stop-color="#2f0a5b"/><stop offset=".903" stop-color="#180c3c"/><stop offset=".933" stop-color="#08051d"/><stop offset="1" stop-color="#02020c"/></linearGradient><linearGradient id="e72" href="#gv"><stop offset="0" stop-color="#000004"/><stop offset=".436" stop-color="#010108"/><stop offset=".533" stop-color="#040314"/><stop offset=".569" stop-color="#0b0724"/><stop offset=".59" stop-color="#150b37"/><stop offset=".605" stop-color="#260c51"/><stop offset=".621" stop-color="#440a68"/><stop offset=".631" stop-color="#62146e"/><stop offset=".641" stop-color="#88226a"/><stop offset=".656" stop-color="#ca404a"/><stop offset=".667" stop-color="#e35933"/><stop offset=".677" stop-color="#ec6726"/><stop offset=".687" stop-color="#ea632a"/><stop offset=".697" stop-color="#d94d3d"/><stop offset=".718" stop-color="#85216b"/><stop offset=".738" stop-color="#4a0c6b"/><stop offset=".754" stop-color="#360961"/><stop offset=".774" stop-color="#320a5e"/><stop offset=".79" stop-color="#420a68"/><stop offset=".81" stop-color="#721a6e"/><stop offset=".826" stop-color="#a52c60"/><stop offset=".836" stop-color="#b93556"/><stop offset=".846" stop-color="#ad305d"/><stop offset=".862" stop-color="#771c6d"/><stop offset=".872" stop-color="#540f6d"/><stop offset=".887" stop-color="#2d0b59"/><stop offset=".903" stop-color="#180c3c"/><stop offset=".928" stop-color="#09061f"/><stop offset="1" stop-color="#02020c"/></linearGradient><linearGradient id="e73" href="#gv"><stop offset="0" stop-color="#000004"/><stop offset=".441" stop-color="#010108"/><stop offset=".538" stop-color="#040314"/><stop offset=".574" stop-color="#0b0724"/><stop offset=".605" stop-color="#210c4a"/><stop offset=".621" stop-color="#3e0966"/><stop offset=".636" stop-color="#6c186e"/><stop offset=".646" stop-color="#982766"/><stop offset=".662" stop-color="#e05536"/><stop offset=".677" stop-color="#f78212"/><stop offset=".682" stop-color="#f78212"/><stop offset=".692" stop-color="#ea632a"/><stop offset=".703" stop-color="#c33b4f"/><stop offset=".713" stop-color="#902568"/><stop offset=".728" stop-color="#5a116e"/><stop offset=".749" stop-color="#360961"/><stop offset=".769" stop-color="#2f0a5b"/><stop offset=".79" stop-color="#400a67"/><stop offset=".81" stop-color="#6f196e"/><stop offset=".826" stop-color="#a32c61"/><stop offset=".836" stop-color="#b63458"/><stop offset=".846" stop-color="#ab2f5e"/><stop offset=".862" stop-color="#751b6e"/><stop offset=".872" stop-color="#520e6d"/><stop offset=".892" stop-color="#230c4c"/><stop offset=".903" stop-color="#160b39"/><stop offset=".928" stop-color="#09061f"/><stop offset="1" stop-color="#02020c"/></linearGradient><linearGradient id="e74" href="#gv"><stop offset="0" stop-color="#000004"/><stop offset=".451" stop-color="#010108"/><stop offset=".544" stop-color="#040314"/><stop offset=".579" stop-color="#0c0826"/><stop offset=".61" stop-color="#260c51"/><stop offset=".621" stop-color="#3b0964"/><stop offset=".636" stop-color="#67166e"/><stop offset=".651" stop-color="#b0315b"/><stop offset=".662" stop-color="#e35933"/><stop offset=".672" stop-color="#f98b0b"/><stop offset=".677" stop-color="#fb9606"/><stop offset=".682" stop-color="#fa9207"/><stop offset=".692" stop-color="#eb6628"/><stop offset=".703" stop-color="#bf3952"/><stop offset=".713" stop-color="#8a226a"/><stop offset=".728" stop-color="#550f6d"/><stop offset=".749" stop-color="#340a5f"/><stop offset=".769" stop-color="#2d0b59"/><stop offset=".79" stop-color="#3e0966"/><stop offset=".81" stop-color="#6d186e"/><stop offset=".826" stop-color="#a22b62"/><stop offset=".836" stop-color="#b43359"/><stop offset=".846" stop-color="#a92e5e"/><stop offset=".862" stop-color="#741a6e"/><stop offset=".872" stop-color="#510e6c"/><stop offset=".887" stop-color="#2b0b57"/><stop offset=".903" stop-color="#160b39"/><stop offset=".938" stop-color="#060419"/><stop offset="1" stop-color="#02010a"/></linearGradient><linearGradient id="e75" href="#gv"><stop offset="0" stop-color="#000004"/><stop offset=".456" stop-color="#010108"/><stop offset=".538" stop-color="#040312"/><stop offset=".574" stop-color="#0a0722"/><stop offset=".61" stop-color="#240c4f"/><stop offset=".621" stop-color="#390963"/><stop offset=".636" stop-color="#65156e"/><stop offset=".646" stop-color="#922568"/><stop offset=".656" stop-color="#cc4248"/><stop offset=".662" stop-color="#e45a31"/><stop offset=".672" stop-color="#fa9207"/><stop offset=".677" stop-color="#fb9d07"/><stop offset=".682" stop-color="#fb9706"/><stop offset=".692" stop-color="#eb6429"/><stop offset=".703" stop-color="#bc3754"/><stop offset=".713" stop-color="#87216b"/><stop offset=".728" stop-color="#540f6d"/><stop offset=".749" stop-color="#320a5e"/><stop offset=".769" stop-color="#2b0b57"/><stop offset=".79" stop-color="#3d0965"/><stop offset=".81" stop-color="#6c186e"/><stop offset=".826" stop-color="#9f2a63"/><stop offset=".836" stop-color="#b3325a"/><stop offset=".846" stop-color="#a62d60"/><stop offset=".867" stop-color="#5f136e"/><stop offset=".882" stop-color="#340a5f"/><stop offset=".897" stop-color="#1b0c41"/><stop offset=".933" stop-color="#07051b"/><stop offset="1" stop-color="#02010a"/></linearGradient><linearGradient id="e76" href="#gv"><stop offset="0" stop-color="#000004"/><stop offset=".462" stop-color="#010108"/><stop offset=".538" stop-color="#040312"/><stop offset=".574" stop-color="#0a0722"/><stop offset=".595" stop-color="#140b34"/><stop offset=".61" stop-color="#240c4f"/><stop offset=".621" stop-color="#390963"/><stop offset=".636" stop-color="#65156e"/><stop offset=".651" stop-color="#b0315b"/><stop offset=".662" stop-color="#e45a31"/><stop offset=".672" stop-color="#f98b0b"/><stop offset=".677" stop-color="#fa9407"/><stop offset=".682" stop-color="#f98c0a"/><stop offset=".692" stop-color="#e8602d"/><stop offset=".703" stop-color="#ba3655"/><stop offset=".713" stop-color="#88226a"/><stop offset=".728" stop-color="#540f6d"/><stop offset=".749" stop-color="#320a5e"/><stop offset=".769" stop-color="#2b0b57"/><stop offset=".79" stop-color="#3d0965"/><stop offset=".81" stop-color="#6c186e"/><stop offset=".826" stop-color="#9f2a63"/><stop offset=".836" stop-color="#b1325a"/><stop offset=".846" stop-color="#a62d60"/><stop offset=".862" stop-color="#721a6e"/><stop offset=".872" stop-color="#4f0d6c"/><stop offset=".887" stop-color="#290b55"/><stop offset=".903" stop-color="#150b37"/><stop offset=".933" stop-color="#07051b"/><stop offset="1" stop-color="#02010a"/></linearGradient><linearGradient id="e77" href="#gv"><stop offset="0" stop-color="#000004"/><stop offset=".462" stop-color="#010108"/><stop offset=".549" stop-color="#040314"/><stop offset=".574" stop-color="#0a0722"/><stop offset=".605" stop-color="#1e0c45"/><stop offset=".621" stop-color="#390963"/><stop offset=".636" stop-color="#69166e"/><stop offset=".646" stop-color="#982766"/><stop offset=".662" stop-color="#e15635"/><stop offset=".672" stop-color="#f47918"/><stop offset=".677" stop-color="#f67e14"/><stop offset=".682" stop-color="#f47918"/><stop offset=".692" stop-color="#e35933"/><stop offset=".703" stop-color="#bc3754"/><stop offset=".713" stop-color="#8c2369"/><stop offset=".728" stop-color="#57106e"/><stop offset=".749" stop-color="#340a5f"/><stop offset=".774" stop-color="#2d0b59"/><stop offset=".79" stop-color="#3d0965"/><stop offset=".81" stop-color="#6a176e"/><stop offset=".826" stop-color="#9f2a63"/><stop offset=".836" stop-color="#b1325a"/><stop offset=".846" stop-color="#a62d60"/><stop offset=".862" stop-color="#721a6e"/><stop offset=".872" stop-color="#4f0d6c"/><stop offset=".887" stop-color="#290b55"/><stop offset=".903" stop-color="#150b37"/><stop offset=".933" stop-color="#07051b"/><stop offset="1" stop-color="#02010a"/></linearGradient><linearGradient id="e78" href="#gv"><stop offset="0" stop-color="#000004"/><stop offset=".467" stop-color="#010108"/><stop offset=".533" stop-color="#030210"/><stop offset=".574" stop-color="#0a0722"/><stop offset=".605" stop-color="#1f0c48"/><stop offset=".615" stop-color="#310a5c"/><stop offset=".631" stop-color="#5c126e"/><stop offset=".646" stop-color="#9d2964"/><stop offset=".656" stop-color="#cc4248"/><stop offset=".672" stop-color="#ea632a"/><stop offset=".682" stop-color="#e9612b"/><stop offset=".692" stop-color="#db503b"/><stop offset=".703" stop-color="#bd3853"/><stop offset=".718" stop-color="#7d1e6d"/><stop offset=".733" stop-color="#4f0d6c"/><stop offset=".749" stop-color="#360961"/><stop offset=".769" stop-color="#2d0b59"/><stop offset=".79" stop-color="#3d0965"/><stop offset=".81" stop-color="#6a176e"/><stop offset=".826" stop-color="#9d2964"/><stop offset=".836" stop-color="#b1325a"/><stop offset=".846" stop-color="#a62d60"/><stop offset=".862" stop-color="#721a6e"/><stop offset=".872" stop-color="#4f0d6c"/><stop offset=".887" stop-color="#290b55"/><stop offset=".903" stop-color="#150b37"/><stop offset=".933" stop-color="#07051b"/><stop offset="1" stop-color="#02010a"/></linearGradient><linearGradient id="e79" href="#gv"><stop offset="0" stop-color="#000004"/><stop offset=".467" stop-color="#010108"/><stop offset=".533" stop-color="#030210"/><stop offset=".574" stop-color="#0a0722"/><stop offset=".605" stop-color="#210c4a"/><stop offset=".615" stop-color="#360961"/><stop offset=".631" stop-color="#62146e"/><stop offset=".641" stop-color="#8c2369"/><stop offset=".656" stop-color="#c83f4b"/><stop offset=".672" stop-color="#d84c3e"/><stop offset=".697" stop-color="#c83f4b"/><stop offset=".708" stop-color="#ad305d"/><stop offset=".723" stop-color="#721a6e"/><stop offset=".744" stop-color="#400a67"/><stop offset=".759" stop-color="#310a5c"/><stop offset=".774" stop-color="#2f0a5b"/><stop offset=".79" stop-color="#3d0965"/><stop offset=".81" stop-color="#6a176e"/><stop offset=".831" stop-color="#a92e5e"/><stop offset=".841" stop-color="#b0315b"/><stop offset=".862" stop-color="#721a6e"/><stop offset=".872" stop-color="#4f0d6c"/><stop offset=".887" stop-color="#290b55"/><stop offset=".903" stop-color="#150b37"/><stop offset=".933" stop-color="#07051b"/><stop offset="1" stop-color="#02010a"/></linearGradient><linearGradient id="e80" href="#gv"><stop offset="0" stop-color="#000004"/><stop offset=".472" stop-color="#010108"/><stop offset=".569" stop-color="#09061f"/><stop offset=".605" stop-color="#240c4f"/><stop offset=".626" stop-color="#57106e"/><stop offset=".636" stop-color="#7f1e6c"/><stop offset=".651" stop-color="#b93556"/><stop offset=".662" stop-color="#c43c4e"/><stop offset=".703" stop-color="#ba3655"/><stop offset=".728" stop-color="#6a176e"/><stop offset=".744" stop-color="#450a69"/><stop offset=".759" stop-color="#320a5e"/><stop offset=".769" stop-color="#2f0a5b"/><stop offset=".79" stop-color="#3d0965"/><stop offset=".81" stop-color="#6a176e"/><stop offset=".831" stop-color="#a92e5e"/><stop offset=".836" stop-color="#b0315b"/><stop offset=".846" stop-color="#a62d60"/><stop offset=".862" stop-color="#721a6e"/><stop offset=".872" stop-color="#4f0d6c"/><stop offset=".887" stop-color="#290b55"/><stop offset=".903" stop-color="#150b37"/><stop offset=".928" stop-color="#08051d"/><stop offset="1" stop-color="#02010a"/></linearGradient><linearGradient id="e81" href="#gv"><stop offset="0" stop-color="#000004"/><stop offset=".436" stop-color="#010106"/><stop offset=".523" stop-color="#02020e"/><stop offset=".564" stop-color="#08051d"/><stop offset=".579" stop-color="#0d0829"/><stop offset=".605" stop-color="#280b53"/><stop offset=".626" stop-color="#61136e"/><stop offset=".646" stop-color="#ab2f5e"/><stop offset=".656" stop-color="#b63458"/><stop offset=".677" stop-color="#a62d60"/><stop offset=".697" stop-color="#b43359"/><stop offset=".708" stop-color="#b0315b"/><stop offset=".723" stop-color="#84206b"/><stop offset=".738" stop-color="#550f6d"/><stop offset=".754" stop-color="#3b0964"/><stop offset=".769" stop-color="#310a5c"/><stop offset=".795" stop-color="#450a69"/><stop offset=".81" stop-color="#69166e"/><stop offset=".831" stop-color="#a82e5f"/><stop offset=".841" stop-color="#ae305c"/><stop offset=".846" stop-color="#a62d60"/><stop offset=".862" stop-color="#721a6e"/><stop offset=".872" stop-color="#510e6c"/><stop offset=".887" stop-color="#290b55"/><stop offset=".903" stop-color="#150b37"/><stop offset=".928" stop-color="#08051d"/><stop offset="1" stop-color="#02010a"/></linearGradient><linearGradient id="e82" href="#gv"><stop offset="0" stop-color="#000004"/><stop offset=".436" stop-color="#010106"/><stop offset=".559" stop-color="#07051b"/><stop offset=".579" stop-color="#0e092b"/><stop offset=".605" stop-color="#2d0b59"/><stop offset=".626" stop-color="#6a176e"/><stop offset=".641" stop-color="#a02a63"/><stop offset=".651" stop-color="#ad305d"/><stop offset=".677" stop-color="#8f2469"/><stop offset=".703" stop-color="#ab2f5e"/><stop offset=".713" stop-color="#a62d60"/><stop offset=".733" stop-color="#6c186e"/><stop offset=".749" stop-color="#470b6a"/><stop offset=".774" stop-color="#320a5e"/><stop offset=".8" stop-color="#4f0d6c"/><stop offset=".815" stop-color="#781c6d"/><stop offset=".826" stop-color="#9b2964"/><stop offset=".836" stop-color="#b0315b"/><stop offset=".846" stop-color="#a62d60"/><stop offset=".862" stop-color="#721a6e"/><stop offset=".872" stop-color="#510e6c"/><stop offset=".887" stop-color="#290b55"/><stop offset=".903" stop-color="#150b37"/><stop offset=".928" stop-color="#08051d"/><stop offset="1" stop-color="#02010a"/></linearGradient><linearGradient id="e83" href="#gv"><stop offset="0" stop-color="#000004"/><stop offset=".441" stop-color="#010106"/><stop offset=".549" stop-color="#050417"/><stop offset=".579" stop-color="#10092d"/><stop offset=".6" stop-color="#280b53"/><stop offset=".621" stop-color="#61136e"/><stop offset=".636" stop-color="#972766"/><stop offset=".646" stop-color="#a52c60"/><stop offset=".677" stop-color="#7c1d6d"/><stop offset=".687" stop-color="#84206b"/><stop offset=".703" stop-color="#a02a63"/><stop offset=".713" stop-color="#a52c60"/><stop offset=".733" stop-color="#721a6e"/><stop offset=".749" stop-color="#4c0c6b"/><stop offset=".774" stop-color="#340a5f"/><stop offset=".8" stop-color="#4f0d6c"/><stop offset=".815" stop-color="#781c6d"/><stop offset=".831" stop-color="#a82e5f"/><stop offset=".836" stop-color="#ae305c"/><stop offset=".846" stop-color="#a62d60"/><stop offset=".862" stop-color="#721a6e"/><stop offset=".872" stop-color="#510e6c"/><stop offset=".887" stop-color="#290b55"/><stop offset=".897" stop-color="#1b0c41"/><stop offset=".928" stop-color="#08051d"/><stop offset="1" stop-color="#02010a"/></linearGradient><linearGradient id="e84" href="#gv"><stop offset="0" stop-color="#000004"/><stop offset=".441" stop-color="#010106"/><stop offset=".508" stop-color="#02020c"/><stop offset=".559" stop-color="#08051d"/><stop offset=".574" stop-color="#0e092b"/><stop offset=".595" stop-color="#240c4f"/><stop offset=".615" stop-color="#59106e"/><stop offset=".631" stop-color="#8f2469"/><stop offset=".641" stop-color="#9f2a63"/><stop offset=".667" stop-color="#721a6e"/><stop offset=".677" stop-color="#6c186e"/><stop offset=".687" stop-color="#741a6e"/><stop offset=".708" stop-color="#9d2964"/><stop offset=".718" stop-color="#a02a63"/><stop offset=".738" stop-color="#6a176e"/><stop offset=".754" stop-color="#470b6a"/><stop offset=".774" stop-color="#360961"/><stop offset=".785" stop-color="#390963"/><stop offset=".8" stop-color="#4f0d6c"/><stop offset=".815" stop-color="#781c6d"/><stop offset=".826" stop-color="#9a2865"/><stop offset=".836" stop-color="#ae305c"/><stop offset=".846" stop-color="#a62d60"/><stop offset=".862" stop-color="#721a6e"/><stop offset=".872" stop-color="#510e6c"/><stop offset=".897" stop-color="#1b0c41"/><stop offset=".928" stop-color="#08051d"/><stop offset="1" stop-color="#02010a"/></linearGradient><linearGradient id="e85" href="#gv"><stop offset="0" stop-color="#000004"/><stop offset=".441" stop-color="#010106"/><stop offset=".549" stop-color="#060419"/><stop offset=".574" stop-color="#10092d"/><stop offset=".59" stop-color="#1f0c48"/><stop offset=".61" stop-color="#520e6d"/><stop offset=".626" stop-color="#87216b"/><stop offset=".636" stop-color="#9b2964"/><stop offset=".646" stop-color="#902568"/><stop offset=".667" stop-color="#64156e"/><stop offset=".677" stop-color="#5f136e"/><stop offset=".687" stop-color="#67166e"/><stop offset=".708" stop-color="#952667"/><stop offset=".718" stop-color="#9f2a63"/><stop offset=".728" stop-color="#8f2469"/><stop offset=".754" stop-color="#4a0c6b"/><stop offset=".779" stop-color="#380962"/><stop offset=".8" stop-color="#4f0d6c"/><stop offset=".815" stop-color="#781c6d"/><stop offset=".826" stop-color="#9a2865"/><stop offset=".836" stop-color="#ae305c"/><stop offset=".846" stop-color="#a62d60"/><stop offset=".872" stop-color="#510e6c"/><stop offset=".897" stop-color="#1b0c41"/><stop offset=".928" stop-color="#08051d"/><stop offset="1" stop-color="#02010a"/></linearGradient><linearGradient id="e86" href="#gv"><stop offset="0" stop-color="#000004"/><stop offset=".441" stop-color="#010106"/><stop offset=".492" stop-color="#02010a"/><stop offset=".554" stop-color="#08051d"/><stop offset=".569" stop-color="#0e092b"/><stop offset=".59" stop-color="#240c4f"/><stop offset=".605" stop-color="#4c0c6b"/><stop offset=".621" stop-color="#801f6c"/><stop offset=".631" stop-color="#972766"/><stop offset=".641" stop-color="#902568"/><stop offset=".662" stop-color="#5f136e"/><stop offset=".677" stop-color="#540f6d"/><stop offset=".692" stop-color="#67166e"/><stop offset=".713" stop-color="#982766"/><stop offset=".723" stop-color="#9b2964"/><stop offset=".754" stop-color="#4d0d6c"/><stop offset=".764" stop-color="#3e0966"/><stop offset=".779" stop-color="#390963"/><stop offset=".8" stop-color="#4f0d6c"/><stop offset=".815" stop-color="#771c6d"/><stop offset=".836" stop-color="#ae305c"/><stop offset=".846" stop-color="#a62d60"/><stop offset=".872" stop-color="#510e6c"/><stop offset=".897" stop-color="#1b0c41"/><stop offset=".933" stop-color="#07051b"/><stop offset="1" stop-color="#02010a"/></linearGradient><linearGradient id="e87" href="#gv"><stop offset="0" stop-color="#000004"/><stop offset=".441" stop-color="#010106"/><stop offset=".549" stop-color="#07051b"/><stop offset=".569" stop-color="#10092d"/><stop offset=".585" stop-color="#210c4a"/><stop offset=".605" stop-color="#550f6d"/><stop offset=".621" stop-color="#88226a"/><stop offset=".631" stop-color="#972766"/><stop offset=".662" stop-color="#540f6d"/><stop offset=".677" stop-color="#4c0c6b"/><stop offset=".692" stop-color="#5f136e"/><stop offset=".713" stop-color="#932667"/><stop offset=".723" stop-color="#9b2964"/><stop offset=".754" stop-color="#510e6c"/><stop offset=".764" stop-color="#400a67"/><stop offset=".779" stop-color="#390963"/><stop offset=".8" stop-color="#4f0d6c"/><stop offset=".815" stop-color="#771c6d"/><stop offset=".831" stop-color="#a52c60"/><stop offset=".841" stop-color="#ae305c"/><stop offset=".851" stop-color="#982766"/><stop offset=".872" stop-color="#510e6c"/><stop offset=".897" stop-color="#1b0c41"/><stop offset=".933" stop-color="#07051b"/><stop offset="1" stop-color="#02010a"/></linearGradient><linearGradient id="e88" href="#gv"><stop offset="0" stop-color="#000004"/><stop offset=".441" stop-color="#010106"/><stop offset=".544" stop-color="#060419"/><stop offset=".559" stop-color="#0b0724"/><stop offset=".579" stop-color="#1c0c43"/><stop offset=".6" stop-color="#4d0d6c"/><stop offset=".615" stop-color="#82206c"/><stop offset=".626" stop-color="#952667"/><stop offset=".636" stop-color="#88226a"/><stop offset=".656" stop-color="#540f6d"/><stop offset=".672" stop-color="#440a68"/><stop offset=".687" stop-color="#4f0d6c"/><stop offset=".713" stop-color="#8f2469"/><stop offset=".723" stop-color="#9b2964"/><stop offset=".733" stop-color="#8c2369"/><stop offset=".759" stop-color="#4a0c6b"/><stop offset=".779" stop-color="#3b0964"/><stop offset=".8" stop-color="#4f0d6c"/><stop offset=".815" stop-color="#771c6d"/><stop offset=".831" stop-color="#a52c60"/><stop offset=".841" stop-color="#ae305c"/><stop offset=".851" stop-color="#982766"/><stop offset=".872" stop-color="#510e6c"/><stop offset=".897" stop-color="#1b0c41"/><stop offset=".933" stop-color="#07051b"/><stop offset="1" stop-color="#02010a"/></linearGradient><linearGradient id="e89" href="#gv"><stop offset="0" stop-color="#000004"/><stop offset=".441" stop-color="#010106"/><stop offset=".549" stop-color="#08051d"/><stop offset=".569" stop-color="#140b34"/><stop offset=".579" stop-color="#210c4a"/><stop offset=".6" stop-color="#57106e"/><stop offset=".615" stop-color="#8a226a"/><stop offset=".621" stop-color="#922568"/><stop offset=".631" stop-color="#8c2369"/><stop offset=".656" stop-color="#4a0c6b"/><stop offset=".672" stop-color="#3e0966"/><stop offset=".687" stop-color="#4a0c6b"/><stop offset=".718" stop-color="#952667"/><stop offset=".728" stop-color="#982766"/><stop offset=".759" stop-color="#4c0c6b"/><stop offset=".779" stop-color="#3b0964"/><stop offset=".79" stop-color="#400a67"/><stop offset=".805" stop-color="#59106e"/><stop offset=".836" stop-color="#ad305d"/><stop offset=".846" stop-color="#a62d60"/><stop offset=".872" stop-color="#520e6d"/><stop offset=".897" stop-color="#1b0c41"/><stop offset=".928" stop-color="#08051d"/><stop offset="1" stop-color="#02010a"/></linearGradient><linearGradient id="e90" href="#gv"><stop offset="0" stop-color="#000004"/><stop offset=".441" stop-color="#010106"/><stop offset=".538" stop-color="#060419"/><stop offset=".564" stop-color="#110a30"/><stop offset=".574" stop-color="#1c0c43"/><stop offset=".595" stop-color="#4d0d6c"/><stop offset=".61" stop-color="#82206c"/><stop offset=".621" stop-color="#922568"/><stop offset=".631" stop-color="#84206b"/><stop offset=".651" stop-color="#4c0c6b"/><stop offset=".672" stop-color="#390963"/><stop offset=".687" stop-color="#450a69"/><stop offset=".718" stop-color="#932667"/><stop offset=".728" stop-color="#982766"/><stop offset=".759" stop-color="#4d0d6c"/><stop offset=".779" stop-color="#3b0964"/><stop offset=".79" stop-color="#400a67"/><stop offset=".805" stop-color="#59106e"/><stop offset=".836" stop-color="#ad305d"/><stop offset=".846" stop-color="#a62d60"/><stop offset=".872" stop-color="#520e6d"/><stop offset=".897" stop-color="#1b0c41"/><stop offset=".928" stop-color="#08051d"/><stop offset="1" stop-color="#02010a"/></linearGradient><linearGradient id="e91" href="#gv"><stop offset="0" stop-color="#000004"/><stop offset=".441" stop-color="#010106"/><stop offset=".533" stop-color="#050417"/><stop offset=".554" stop-color="#0c0826"/><stop offset=".574" stop-color="#1f0c48"/><stop offset=".595" stop-color="#550f6d"/><stop offset=".605" stop-color="#7a1d6d"/><stop offset=".615" stop-color="#902568"/><stop offset=".626" stop-color="#88226a"/><stop offset=".646" stop-color="#4f0d6c"/><stop offset=".656" stop-color="#3d0965"/><stop offset=".672" stop-color="#340a5f"/><stop offset=".687" stop-color="#420a68"/><stop offset=".703" stop-color="#65156e"/><stop offset=".718" stop-color="#922568"/><stop offset=".728" stop-color="#982766"/><stop offset=".759" stop-color="#4f0d6c"/><stop offset=".779" stop-color="#3b0964"/><stop offset=".8" stop-color="#4d0d6c"/><stop offset=".815" stop-color="#751b6e"/><stop offset=".831" stop-color="#a32c61"/><stop offset=".841" stop-color="#ad305d"/><stop offset=".851" stop-color="#982766"/><stop offset=".872" stop-color="#520e6d"/><stop offset=".897" stop-color="#1b0c41"/><stop offset=".928" stop-color="#08051d"/><stop offset="1" stop-color="#02010a"/></linearGradient><linearGradient id="e92" href="#gv"><stop offset="0" stop-color="#000004"/><stop offset=".441" stop-color="#010106"/><stop offset=".538" stop-color="#07051b"/><stop offset=".554" stop-color="#0d0829"/><stop offset=".574" stop-color="#230c4c"/><stop offset=".59" stop-color="#4c0c6b"/><stop offset=".605" stop-color="#801f6c"/><stop offset=".615" stop-color="#922568"/><stop offset=".626" stop-color="#82206c"/><stop offset=".651" stop-color="#3e0966"/><stop offset=".667" stop-color="#310a5c"/><stop offset=".692" stop-color="#490b6a"/><stop offset=".723" stop-color="#982766"/><stop offset=".733" stop-color="#922568"/><stop offset=".764" stop-color="#470b6a"/><stop offset=".785" stop-color="#3d0965"/><stop offset=".8" stop-color="#4d0d6c"/><stop offset=".815" stop-color="#741a6e"/><stop offset=".831" stop-color="#a32c61"/><stop offset=".841" stop-color="#ad305d"/><stop offset=".851" stop-color="#982766"/><stop offset=".872" stop-color="#520e6d"/><stop offset=".897" stop-color="#1b0c41"/><stop offset=".928" stop-color="#08051d"/><stop offset="1" stop-color="#02010a"/></linearGradient><linearGradient id="e93" href="#gv"><stop offset="0" stop-color="#000004"/><stop offset=".441" stop-color="#010106"/><stop offset=".533" stop-color="#060419"/><stop offset=".549" stop-color="#0b0724"/><stop offset=".569" stop-color="#1e0c45"/><stop offset=".59" stop-color="#520e6d"/><stop offset=".61" stop-color="#8f2469"/><stop offset=".621" stop-color="#88226a"/><stop offset=".646" stop-color="#420a68"/><stop offset=".662" stop-color="#2f0a5b"/><stop offset=".682" stop-color="#360961"/><stop offset=".697" stop-color="#520e6d"/><stop offset=".718" stop-color="#8f2469"/><stop offset=".728" stop-color="#982766"/><stop offset=".749" stop-color="#69166e"/><stop offset=".764" stop-color="#470b6a"/><stop offset=".785" stop-color="#3d0965"/><stop offset=".8" stop-color="#4d0d6c"/><stop offset=".815" stop-color="#741a6e"/><stop offset=".831" stop-color="#a22b62"/><stop offset=".841" stop-color="#ad305d"/><stop offset=".851" stop-color="#982766"/><stop offset=".872" stop-color="#520e6d"/><stop offset=".897" stop-color="#1b0c41"/><stop offset=".928" stop-color="#08051d"/><stop offset="1" stop-color="#02010a"/></linearGradient><linearGradient id="e94" href="#gv"><stop offset="0" stop-color="#000004"/><stop offset=".441" stop-color="#010106"/><stop offset=".533" stop-color="#060419"/><stop offset=".554" stop-color="#0e092b"/><stop offset=".569" stop-color="#1f0c48"/><stop offset=".585" stop-color="#470b6a"/><stop offset=".6" stop-color="#7c1d6d"/><stop offset=".61" stop-color="#902568"/><stop offset=".621" stop-color="#84206b"/><stop offset=".646" stop-color="#3d0965"/><stop offset=".667" stop-color="#2b0b57"/><stop offset=".677" stop-color="#2f0a5b"/><stop offset=".692" stop-color="#450a69"/><stop offset=".718" stop-color="#8d2369"/><stop offset=".728" stop-color="#982766"/><stop offset=".764" stop-color="#490b6a"/><stop offset=".779" stop-color="#3d0965"/><stop offset=".79" stop-color="#400a67"/><stop offset=".805" stop-color="#57106e"/><stop offset=".836" stop-color="#ab2f5e"/><stop offset=".851" stop-color="#982766"/><stop offset=".872" stop-color="#520e6d"/><stop offset=".897" stop-color="#1b0c41"/><stop offset=".928" stop-color="#08051d"/><stop offset="1" stop-color="#02010a"/></linearGradient><linearGradient id="e95" href="#gv"><stop offset="0" stop-color="#000004"/><stop offset=".441" stop-color="#010106"/><stop offset=".528" stop-color="#050417"/><stop offset=".549" stop-color="#0c0826"/><stop offset=".569" stop-color="#230c4c"/><stop offset=".585" stop-color="#4a0c6b"/><stop offset=".6" stop-color="#7f1e6c"/><stop offset=".61" stop-color="#902568"/><stop offset=".615" stop-color="#8c2369"/><stop offset=".631" stop-color="#5f136e"/><stop offset=".646" stop-color="#390963"/><stop offset=".667" stop-color="#290b55"/><stop offset=".677" stop-color="#2d0b59"/><stop offset=".692" stop-color="#440a68"/><stop offset=".718" stop-color="#8c2369"/><stop offset=".728" stop-color="#982766"/><stop offset=".738" stop-color="#88226a"/><stop offset=".764" stop-color="#490b6a"/><stop offset=".779" stop-color="#3d0965"/><stop offset=".79" stop-color="#400a67"/><stop offset=".805" stop-color="#57106e"/><stop offset=".831" stop-color="#a22b62"/><stop offset=".841" stop-color="#ab2f5e"/><stop offset=".851" stop-color="#982766"/><stop offset=".872" stop-color="#520e6d"/><stop offset=".897" stop-color="#1b0c41"/><stop offset=".928" stop-color="#08051d"/><stop offset="1" stop-color="#02010a"/></linearGradient><linearGradient id="e96" href="#gv"><stop offset="0" stop-color="#000004"/><stop offset=".441" stop-color="#010106"/><stop offset=".523" stop-color="#040314"/><stop offset=".544" stop-color="#0a0722"/><stop offset=".564" stop-color="#1b0c41"/><stop offset=".585" stop-color="#4d0d6c"/><stop offset=".6" stop-color="#82206c"/><stop offset=".61" stop-color="#902568"/><stop offset=".626" stop-color="#6c186e"/><stop offset=".641" stop-color="#400a67"/><stop offset=".667" stop-color="#280b53"/><stop offset=".687" stop-color="#390963"/><stop offset=".703" stop-color="#5c126e"/><stop offset=".718" stop-color="#8a226a"/><stop offset=".728" stop-color="#982766"/><stop offset=".738" stop-color="#88226a"/><stop offset=".764" stop-color="#490b6a"/><stop offset=".779" stop-color="#3d0965"/><stop offset=".79" stop-color="#400a67"/><stop offset=".805" stop-color="#57106e"/><stop offset=".831" stop-color="#a22b62"/><stop offset=".841" stop-color="#ab2f5e"/><stop offset=".851" stop-color="#982766"/><stop offset=".872" stop-color="#520e6d"/><stop offset=".897" stop-color="#1b0c41"/><stop offset=".928" stop-color="#08051d"/><stop offset="1" stop-color="#02010a"/></linearGradient><linearGradient id="e97" href="#gv"><stop offset="0" stop-color="#000004"/><stop offset=".436" stop-color="#010106"/><stop offset=".533" stop-color="#07051b"/><stop offset=".559" stop-color="#150b37"/><stop offset=".569" stop-color="#240c4f"/><stop offset=".585" stop-color="#4f0d6c"/><stop offset=".605" stop-color="#8d2369"/><stop offset=".615" stop-color="#87216b"/><stop offset=".631" stop-color="#59106e"/><stop offset=".646" stop-color="#360961"/><stop offset=".656" stop-color="#290b55"/><stop offset=".672" stop-color="#280b53"/><stop offset=".687" stop-color="#380962"/><stop offset=".703" stop-color="#5a116e"/><stop offset=".718" stop-color="#8a226a"/><stop offset=".728" stop-color="#982766"/><stop offset=".738" stop-color="#8a226a"/><stop offset=".764" stop-color="#4a0c6b"/><stop offset=".774" stop-color="#3e0966"/><stop offset=".79" stop-color="#400a67"/><stop offset=".8" stop-color="#4d0d6c"/><stop offset=".815" stop-color="#741a6e"/><stop offset=".836" stop-color="#ab2f5e"/><stop offset=".851" stop-color="#982766"/><stop offset=".872" stop-color="#520e6d"/><stop offset=".897" stop-color="#1b0c41"/><stop offset=".928" stop-color="#08051d"/><stop offset="1" stop-color="#02010a"/></linearGradient><clipPath id="cpe"><rect x="70.5" y="543.6" width="186.8" height="194.8"/></clipPath><filter id="hbe" filterUnits="userSpaceOnUse" x="64.5" y="541.6" width="200" height="198.8"><feGaussianBlur stdDeviation="1.1 0"/></filter></defs>
<g clip-path="url(#cpe)"><rect x="70.5" y="543.6" width="186.8" height="194.8" fill="#000004"/><g filter="url(#hbe)" shape-rendering="crispEdges"><rect x="66.5" y="543.6" width="2.6" height="194.8" fill="url(#e0)"/><rect x="68.5" y="543.6" width="2.6" height="194.8" fill="url(#e1)"/><rect x="70.5" y="543.6" width="2.6" height="194.8" fill="url(#e2)"/><rect x="72.5" y="543.6" width="2.6" height="194.8" fill="url(#e3)"/><rect x="74.5" y="543.6" width="2.6" height="194.8" fill="url(#e4)"/><rect x="76.5" y="543.6" width="2.6" height="194.8" fill="url(#e5)"/><rect x="78.5" y="543.6" width="2.6" height="194.8" fill="url(#e6)"/><rect x="80.5" y="543.6" width="2.6" height="194.8" fill="url(#e7)"/><rect x="82.5" y="543.6" width="2.6" height="194.8" fill="url(#e8)"/><rect x="84.5" y="543.6" width="2.6" height="194.8" fill="url(#e9)"/><rect x="86.5" y="543.6" width="2.6" height="194.8" fill="url(#e10)"/><rect x="88.5" y="543.6" width="2.6" height="194.8" fill="url(#e11)"/><rect x="90.5" y="543.6" width="2.6" height="194.8" fill="url(#e12)"/><rect x="92.5" y="543.6" width="2.6" height="194.8" fill="url(#e13)"/><rect x="94.5" y="543.6" width="2.6" height="194.8" fill="url(#e14)"/><rect x="96.5" y="543.6" width="2.6" height="194.8" fill="url(#e15)"/><rect x="98.5" y="543.6" width="2.6" height="194.8" fill="url(#e16)"/><rect x="100.5" y="543.6" width="2.6" height="194.8" fill="url(#e17)"/><rect x="102.5" y="543.6" width="2.6" height="194.8" fill="url(#e18)"/><rect x="104.5" y="543.6" width="2.6" height="194.8" fill="url(#e19)"/><rect x="106.5" y="543.6" width="2.6" height="194.8" fill="url(#e20)"/><rect x="108.5" y="543.6" width="2.6" height="194.8" fill="url(#e21)"/><rect x="110.5" y="543.6" width="2.6" height="194.8" fill="url(#e22)"/><rect x="112.5" y="543.6" width="2.6" height="194.8" fill="url(#e23)"/><rect x="114.5" y="543.6" width="2.6" height="194.8" fill="url(#e24)"/><rect x="116.5" y="543.6" width="2.6" height="194.8" fill="url(#e25)"/><rect x="118.5" y="543.6" width="2.6" height="194.8" fill="url(#e26)"/><rect x="120.5" y="543.6" width="2.6" height="194.8" fill="url(#e27)"/><rect x="122.5" y="543.6" width="2.6" height="194.8" fill="url(#e28)"/><rect x="124.5" y="543.6" width="2.6" height="194.8" fill="url(#e29)"/><rect x="126.5" y="543.6" width="2.6" height="194.8" fill="url(#e30)"/><rect x="128.5" y="543.6" width="2.6" height="194.8" fill="url(#e31)"/><rect x="130.5" y="543.6" width="2.6" height="194.8" fill="url(#e32)"/><rect x="132.5" y="543.6" width="2.6" height="194.8" fill="url(#e33)"/><rect x="134.5" y="543.6" width="2.6" height="194.8" fill="url(#e34)"/><rect x="136.5" y="543.6" width="2.6" height="194.8" fill="url(#e35)"/><rect x="138.5" y="543.6" width="2.6" height="194.8" fill="url(#e36)"/><rect x="140.5" y="543.6" width="2.6" height="194.8" fill="url(#e37)"/><rect x="142.5" y="543.6" width="2.6" height="194.8" fill="url(#e38)"/><rect x="144.5" y="543.6" width="2.6" height="194.8" fill="url(#e39)"/><rect x="146.5" y="543.6" width="2.6" height="194.8" fill="url(#e40)"/><rect x="148.5" y="543.6" width="2.6" height="194.8" fill="url(#e41)"/><rect x="150.5" y="543.6" width="2.6" height="194.8" fill="url(#e42)"/><rect x="152.5" y="543.6" width="2.6" height="194.8" fill="url(#e43)"/><rect x="154.5" y="543.6" width="2.6" height="194.8" fill="url(#e44)"/><rect x="156.5" y="543.6" width="2.6" height="194.8" fill="url(#e45)"/><rect x="158.5" y="543.6" width="2.6" height="194.8" fill="url(#e46)"/><rect x="160.5" y="543.6" width="2.6" height="194.8" fill="url(#e47)"/><rect x="162.5" y="543.6" width="2.6" height="194.8" fill="url(#e48)"/><rect x="164.5" y="543.6" width="2.6" height="194.8" fill="url(#e49)"/><rect x="166.5" y="543.6" width="2.6" height="194.8" fill="url(#e50)"/><rect x="168.5" y="543.6" width="2.6" height="194.8" fill="url(#e51)"/><rect x="170.5" y="543.6" width="2.6" height="194.8" fill="url(#e52)"/><rect x="172.5" y="543.6" width="2.6" height="194.8" fill="url(#e53)"/><rect x="174.5" y="543.6" width="2.6" height="194.8" fill="url(#e54)"/><rect x="176.5" y="543.6" width="2.6" height="194.8" fill="url(#e55)"/><rect x="178.5" y="543.6" width="2.6" height="194.8" fill="url(#e56)"/><rect x="180.5" y="543.6" width="2.6" height="194.8" fill="url(#e57)"/><rect x="182.5" y="543.6" width="2.6" height="194.8" fill="url(#e58)"/><rect x="184.5" y="543.6" width="2.6" height="194.8" fill="url(#e59)"/><rect x="186.5" y="543.6" width="2.6" height="194.8" fill="url(#e60)"/><rect x="188.5" y="543.6" width="2.6" height="194.8" fill="url(#e61)"/><rect x="190.5" y="543.6" width="2.6" height="194.8" fill="url(#e62)"/><rect x="192.5" y="543.6" width="2.6" height="194.8" fill="url(#e63)"/><rect x="194.5" y="543.6" width="2.6" height="194.8" fill="url(#e64)"/><rect x="196.5" y="543.6" width="2.6" height="194.8" fill="url(#e65)"/><rect x="198.5" y="543.6" width="2.6" height="194.8" fill="url(#e66)"/><rect x="200.5" y="543.6" width="2.6" height="194.8" fill="url(#e67)"/><rect x="202.5" y="543.6" width="2.6" height="194.8" fill="url(#e68)"/><rect x="204.5" y="543.6" width="2.6" height="194.8" fill="url(#e69)"/><rect x="206.5" y="543.6" width="2.6" height="194.8" fill="url(#e70)"/><rect x="208.5" y="543.6" width="2.6" height="194.8" fill="url(#e71)"/><rect x="210.5" y="543.6" width="2.6" height="194.8" fill="url(#e72)"/><rect x="212.5" y="543.6" width="2.6" height="194.8" fill="url(#e73)"/><rect x="214.5" y="543.6" width="2.6" height="194.8" fill="url(#e74)"/><rect x="216.5" y="543.6" width="2.6" height="194.8" fill="url(#e75)"/><rect x="218.5" y="543.6" width="2.6" height="194.8" fill="url(#e76)"/><rect x="220.5" y="543.6" width="2.6" height="194.8" fill="url(#e77)"/><rect x="222.5" y="543.6" width="2.6" height="194.8" fill="url(#e78)"/><rect x="224.5" y="543.6" width="2.6" height="194.8" fill="url(#e79)"/><rect x="226.5" y="543.6" width="2.6" height="194.8" fill="url(#e80)"/><rect x="228.5" y="543.6" width="2.6" height="194.8" fill="url(#e81)"/><rect x="230.5" y="543.6" width="2.6" height="194.8" fill="url(#e82)"/><rect x="232.5" y="543.6" width="2.6" height="194.8" fill="url(#e83)"/><rect x="234.5" y="543.6" width="2.6" height="194.8" fill="url(#e84)"/><rect x="236.5" y="543.6" width="2.6" height="194.8" fill="url(#e85)"/><rect x="238.5" y="543.6" width="2.6" height="194.8" fill="url(#e86)"/><rect x="240.5" y="543.6" width="2.6" height="194.8" fill="url(#e87)"/><rect x="242.5" y="543.6" width="2.6" height="194.8" fill="url(#e88)"/><rect x="244.5" y="543.6" width="2.6" height="194.8" fill="url(#e89)"/><rect x="246.5" y="543.6" width="2.6" height="194.8" fill="url(#e90)"/><rect x="248.5" y="543.6" width="2.6" height="194.8" fill="url(#e91)"/><rect x="250.5" y="543.6" width="2.6" height="194.8" fill="url(#e92)"/><rect x="252.5" y="543.6" width="2.6" height="194.8" fill="url(#e93)"/><rect x="254.5" y="543.6" width="2.6" height="194.8" fill="url(#e94)"/><rect x="256.5" y="543.6" width="2.6" height="194.8" fill="url(#e95)"/><rect x="258.5" y="543.6" width="2.6" height="194.8" fill="url(#e96)"/><rect x="260.5" y="543.6" width="2.6" height="194.8" fill="url(#e97)"/></g></g>
<path d="M113.1 544.7L116.9 737.3" stroke="#fff" stroke-width="1.45" stroke-dasharray="4.3 1.9" fill="none"/>
<path d="M164.6 544.7L161.2 737.3" stroke="#fff" stroke-width="1.45" stroke-dasharray="4.3 1.9" fill="none"/>
<rect x="70.5" y="543.7" width="186.8" height="194.6" fill="none" stroke="#000" stroke-width="1.5"/>
<text x="70.7" y="767.8" font-size="18.3" text-anchor="middle">M</text>
<text x="138.4" y="767.8" font-size="18.3" text-anchor="middle">Γ</text>
<text x="217.4" y="767.8" font-size="18.3" text-anchor="middle">K</text>
<text x="256.4" y="767.8" font-size="18.3" text-anchor="middle">M</text>
<path d="M70.5 563h-7.6M70.5 602h-7.6M70.5 641h-7.6M70.5 680h-7.6M70.5 719h-7.6M70.7 738.3v7.6M138.4 738.3v7.6M217.4 738.3v7.6M256.4 738.3v7.6" stroke="#000" stroke-width="1.6" fill="none"/>
<text x="162.3" y="531" font-size="25" text-anchor="middle" letter-spacing=".6">(e)</text>
<text x="246.9" y="564.6" font-size="18.3" text-anchor="end" letter-spacing="1" word-spacing="1.5" style="fill:#fff"><tspan font-style="italic">δ</tspan> = 0</text>
<defs><linearGradient id="f0" href="#gv"><stop offset="0" stop-color="#000004"/><stop offset=".385" stop-color="#010108"/><stop offset=".482" stop-color="#08051d"/><stop offset=".508" stop-color="#140b34"/><stop offset=".523" stop-color="#280b53"/><stop offset=".544" stop-color="#5d126e"/><stop offset=".559" stop-color="#922568"/><stop offset=".569" stop-color="#a22b62"/><stop offset=".579" stop-color="#932667"/><stop offset=".6" stop-color="#520e6d"/><stop offset=".621" stop-color="#260c51"/><stop offset=".641" stop-color="#160b39"/><stop offset=".667" stop-color="#150b37"/><stop offset=".687" stop-color="#210c4a"/><stop offset=".703" stop-color="#390963"/><stop offset=".723" stop-color="#7c1d6d"/><stop offset=".738" stop-color="#ba3655"/><stop offset=".744" stop-color="#c33b4f"/><stop offset=".754" stop-color="#b93556"/><stop offset=".764" stop-color="#952667"/><stop offset=".779" stop-color="#69166e"/><stop offset=".795" stop-color="#5c126e"/><stop offset=".81" stop-color="#6f196e"/><stop offset=".821" stop-color="#8c2369"/><stop offset=".836" stop-color="#c13a50"/><stop offset=".846" stop-color="#cf4446"/><stop offset=".856" stop-color="#bf3952"/><stop offset=".877" stop-color="#6c186e"/><stop offset=".892" stop-color="#3d0965"/><stop offset=".908" stop-color="#1f0c48"/><stop offset=".938" stop-color="#0a0722"/><stop offset="1" stop-color="#02020e"/></linearGradient><linearGradient id="f1" href="#gv"><stop offset="0" stop-color="#000004"/><stop offset=".379" stop-color="#010108"/><stop offset=".482" stop-color="#09061f"/><stop offset=".503" stop-color="#120a32"/><stop offset=".518" stop-color="#230c4c"/><stop offset=".538" stop-color="#550f6d"/><stop offset=".559" stop-color="#972766"/><stop offset=".569" stop-color="#a22b62"/><stop offset=".579" stop-color="#8f2469"/><stop offset=".595" stop-color="#5c126e"/><stop offset=".615" stop-color="#2b0b57"/><stop offset=".636" stop-color="#180c3c"/><stop offset=".662" stop-color="#140b34"/><stop offset=".682" stop-color="#1b0c41"/><stop offset=".703" stop-color="#380962"/><stop offset=".723" stop-color="#751b6e"/><stop offset=".733" stop-color="#a32c61"/><stop offset=".744" stop-color="#c13a50"/><stop offset=".754" stop-color="#bd3853"/><stop offset=".769" stop-color="#88226a"/><stop offset=".779" stop-color="#6c186e"/><stop offset=".795" stop-color="#5f136e"/><stop offset=".81" stop-color="#71196e"/><stop offset=".821" stop-color="#8d2369"/><stop offset=".836" stop-color="#c33b4f"/><stop offset=".846" stop-color="#d04545"/><stop offset=".856" stop-color="#bf3952"/><stop offset=".877" stop-color="#6c186e"/><stop offset=".892" stop-color="#3d0965"/><stop offset=".908" stop-color="#1f0c48"/><stop offset=".938" stop-color="#0a0722"/><stop offset="1" stop-color="#02020e"/></linearGradient><linearGradient id="f2" href="#gv"><stop offset="0" stop-color="#000004"/><stop offset=".374" stop-color="#010108"/><stop offset=".477" stop-color="#08051d"/><stop offset=".497" stop-color="#110a30"/><stop offset=".518" stop-color="#290b55"/><stop offset=".538" stop-color="#5d126e"/><stop offset=".554" stop-color="#902568"/><stop offset=".564" stop-color="#a22b62"/><stop offset=".574" stop-color="#952667"/><stop offset=".595" stop-color="#540f6d"/><stop offset=".615" stop-color="#280b53"/><stop offset=".636" stop-color="#160b39"/><stop offset=".667" stop-color="#140b34"/><stop offset=".687" stop-color="#1e0c45"/><stop offset=".703" stop-color="#340a5f"/><stop offset=".723" stop-color="#71196e"/><stop offset=".744" stop-color="#c13a50"/><stop offset=".754" stop-color="#c13a50"/><stop offset=".779" stop-color="#721a6e"/><stop offset=".795" stop-color="#62146e"/><stop offset=".81" stop-color="#741a6e"/><stop offset=".821" stop-color="#8f2469"/><stop offset=".836" stop-color="#c43c4e"/><stop offset=".846" stop-color="#d24644"/><stop offset=".856" stop-color="#c03a51"/><stop offset=".877" stop-color="#6d186e"/><stop offset=".892" stop-color="#3e0966"/><stop offset=".908" stop-color="#210c4a"/><stop offset=".944" stop-color="#09061f"/><stop offset="1" stop-color="#02020e"/></linearGradient><linearGradient id="f3" href="#gv"><stop offset="0" stop-color="#000004"/><stop offset=".369" stop-color="#010108"/><stop offset=".472" stop-color="#08051d"/><stop offset=".492" stop-color="#10092d"/><stop offset=".513" stop-color="#260c51"/><stop offset=".533" stop-color="#57106e"/><stop offset=".554" stop-color="#982766"/><stop offset=".564" stop-color="#a22b62"/><stop offset=".574" stop-color="#8d2369"/><stop offset=".59" stop-color="#5c126e"/><stop offset=".61" stop-color="#2b0b57"/><stop offset=".636" stop-color="#150b37"/><stop offset=".662" stop-color="#120a32"/><stop offset=".687" stop-color="#1c0c43"/><stop offset=".708" stop-color="#3d0965"/><stop offset=".728" stop-color="#801f6c"/><stop offset=".738" stop-color="#ae305c"/><stop offset=".749" stop-color="#c73e4c"/><stop offset=".759" stop-color="#bc3754"/><stop offset=".779" stop-color="#7a1d6d"/><stop offset=".795" stop-color="#67166e"/><stop offset=".81" stop-color="#771c6d"/><stop offset=".821" stop-color="#932667"/><stop offset=".836" stop-color="#c73e4c"/><stop offset=".846" stop-color="#d44842"/><stop offset=".856" stop-color="#c43c4e"/><stop offset=".877" stop-color="#71196e"/><stop offset=".892" stop-color="#400a67"/><stop offset=".908" stop-color="#230c4c"/><stop offset=".938" stop-color="#0b0724"/><stop offset="1" stop-color="#02020e"/></linearGradient><linearGradient id="f4" href="#gv"><stop offset="0" stop-color="#000004"/><stop offset=".364" stop-color="#010108"/><stop offset=".472" stop-color="#09061f"/><stop offset=".492" stop-color="#120a32"/><stop offset=".513" stop-color="#2d0b59"/><stop offset=".533" stop-color="#62146e"/><stop offset=".549" stop-color="#952667"/><stop offset=".559" stop-color="#a22b62"/><stop offset=".569" stop-color="#932667"/><stop offset=".585" stop-color="#62146e"/><stop offset=".61" stop-color="#280b53"/><stop offset=".636" stop-color="#140b34"/><stop offset=".667" stop-color="#120a32"/><stop offset=".692" stop-color="#1f0c48"/><stop offset=".708" stop-color="#390963"/><stop offset=".728" stop-color="#7a1d6d"/><stop offset=".744" stop-color="#bc3754"/><stop offset=".749" stop-color="#c73e4c"/><stop offset=".759" stop-color="#c43c4e"/><stop offset=".785" stop-color="#781c6d"/><stop offset=".8" stop-color="#6f196e"/><stop offset=".81" stop-color="#7c1d6d"/><stop offset=".821" stop-color="#982766"/><stop offset=".836" stop-color="#cb4149"/><stop offset=".846" stop-color="#d84c3e"/><stop offset=".856" stop-color="#c83f4b"/><stop offset=".877" stop-color="#741a6e"/><stop offset=".892" stop-color="#440a68"/><stop offset=".908" stop-color="#240c4f"/><stop offset=".923" stop-color="#140b34"/><stop offset=".944" stop-color="#0a0722"/><stop offset="1" stop-color="#02020e"/></linearGradient><linearGradient id="f5" href="#gv"><stop offset="0" stop-color="#000004"/><stop offset=".359" stop-color="#010108"/><stop offset=".467" stop-color="#09061f"/><stop offset=".487" stop-color="#120a32"/><stop offset=".508" stop-color="#2b0b57"/><stop offset=".528" stop-color="#5f136e"/><stop offset=".544" stop-color="#902568"/><stop offset=".554" stop-color="#a22b62"/><stop offset=".564" stop-color="#972766"/><stop offset=".585" stop-color="#57106e"/><stop offset=".61" stop-color="#230c4c"/><stop offset=".636" stop-color="#120a32"/><stop offset=".672" stop-color="#120a32"/><stop offset=".692" stop-color="#1e0c45"/><stop offset=".713" stop-color="#400a67"/><stop offset=".733" stop-color="#88226a"/><stop offset=".744" stop-color="#b63458"/><stop offset=".754" stop-color="#cc4248"/><stop offset=".764" stop-color="#c13a50"/><stop offset=".785" stop-color="#84206b"/><stop offset=".8" stop-color="#771c6d"/><stop offset=".81" stop-color="#82206c"/><stop offset=".821" stop-color="#9d2964"/><stop offset=".836" stop-color="#cf4446"/><stop offset=".846" stop-color="#db503b"/><stop offset=".856" stop-color="#cb4149"/><stop offset=".877" stop-color="#771c6d"/><stop offset=".892" stop-color="#450a69"/><stop offset=".908" stop-color="#260c51"/><stop offset=".938" stop-color="#0c0826"/><stop offset="1" stop-color="#02020e"/></linearGradient><linearGradient id="f6" href="#gv"><stop offset="0" stop-color="#000004"/><stop offset=".354" stop-color="#010108"/><stop offset=".431" stop-color="#040312"/><stop offset=".467" stop-color="#0a0722"/><stop offset=".503" stop-color="#290b55"/><stop offset=".523" stop-color="#5c126e"/><stop offset=".538" stop-color="#8d2369"/><stop offset=".549" stop-color="#a22b62"/><stop offset=".559" stop-color="#9a2865"/><stop offset=".579" stop-color="#5c126e"/><stop offset=".605" stop-color="#240c4f"/><stop offset=".636" stop-color="#110a30"/><stop offset=".677" stop-color="#140b34"/><stop offset=".697" stop-color="#210c4a"/><stop offset=".713" stop-color="#3b0964"/><stop offset=".733" stop-color="#7d1e6d"/><stop offset=".744" stop-color="#ad305d"/><stop offset=".754" stop-color="#cc4248"/><stop offset=".764" stop-color="#cb4149"/><stop offset=".79" stop-color="#87216b"/><stop offset=".8" stop-color="#801f6c"/><stop offset=".81" stop-color="#8a226a"/><stop offset=".821" stop-color="#a32c61"/><stop offset=".836" stop-color="#d44842"/><stop offset=".846" stop-color="#df5337"/><stop offset=".856" stop-color="#cf4446"/><stop offset=".872" stop-color="#902568"/><stop offset=".882" stop-color="#67166e"/><stop offset=".897" stop-color="#3b0964"/><stop offset=".913" stop-color="#1f0c48"/><stop offset=".954" stop-color="#08051d"/><stop offset="1" stop-color="#030210"/></linearGradient><linearGradient id="f7" href="#gv"><stop offset="0" stop-color="#000004"/><stop offset=".349" stop-color="#010108"/><stop offset=".426" stop-color="#040312"/><stop offset=".462" stop-color="#0a0722"/><stop offset=".492" stop-color="#210c4a"/><stop offset=".513" stop-color="#4c0c6b"/><stop offset=".538" stop-color="#982766"/><stop offset=".549" stop-color="#a22b62"/><stop offset=".559" stop-color="#8f2469"/><stop offset=".579" stop-color="#510e6c"/><stop offset=".605" stop-color="#1f0c48"/><stop offset=".636" stop-color="#10092d"/><stop offset=".677" stop-color="#120a32"/><stop offset=".703" stop-color="#240c4f"/><stop offset=".728" stop-color="#5f136e"/><stop offset=".738" stop-color="#88226a"/><stop offset=".749" stop-color="#b63458"/><stop offset=".759" stop-color="#d04545"/><stop offset=".769" stop-color="#cb4149"/><stop offset=".795" stop-color="#8f2469"/><stop offset=".805" stop-color="#8d2369"/><stop offset=".821" stop-color="#ab2f5e"/><stop offset=".836" stop-color="#d94d3d"/><stop offset=".846" stop-color="#e35933"/><stop offset=".856" stop-color="#d34743"/><stop offset=".872" stop-color="#932667"/><stop offset=".882" stop-color="#6a176e"/><stop offset=".897" stop-color="#3d0965"/><stop offset=".913" stop-color="#210c4a"/><stop offset=".944" stop-color="#0b0724"/><stop offset="1" stop-color="#030210"/></linearGradient><linearGradient id="f8" href="#gv"><stop offset="0" stop-color="#000004"/><stop offset=".344" stop-color="#010108"/><stop offset=".421" stop-color="#040312"/><stop offset=".456" stop-color="#0a0722"/><stop offset=".487" stop-color="#1f0c48"/><stop offset=".508" stop-color="#4a0c6b"/><stop offset=".533" stop-color="#972766"/><stop offset=".544" stop-color="#a22b62"/><stop offset=".554" stop-color="#922568"/><stop offset=".574" stop-color="#520e6d"/><stop offset=".6" stop-color="#210c4a"/><stop offset=".631" stop-color="#10092d"/><stop offset=".662" stop-color="#0e092b"/><stop offset=".682" stop-color="#140b34"/><stop offset=".708" stop-color="#280b53"/><stop offset=".723" stop-color="#470b6a"/><stop offset=".733" stop-color="#67166e"/><stop offset=".744" stop-color="#902568"/><stop offset=".754" stop-color="#bd3853"/><stop offset=".764" stop-color="#d44842"/><stop offset=".774" stop-color="#cf4446"/><stop offset=".795" stop-color="#a02a63"/><stop offset=".805" stop-color="#9b2964"/><stop offset=".821" stop-color="#b43359"/><stop offset=".836" stop-color="#de5238"/><stop offset=".846" stop-color="#e65d2f"/><stop offset=".851" stop-color="#e25734"/><stop offset=".862" stop-color="#c63d4d"/><stop offset=".872" stop-color="#972766"/><stop offset=".882" stop-color="#6d186e"/><stop offset=".897" stop-color="#400a67"/><stop offset=".913" stop-color="#230c4c"/><stop offset=".949" stop-color="#0a0722"/><stop offset="1" stop-color="#030210"/></linearGradient><linearGradient id="f9" href="#gv"><stop offset="0" stop-color="#000004"/><stop offset=".344" stop-color="#010108"/><stop offset=".415" stop-color="#040312"/><stop offset=".451" stop-color="#0a0722"/><stop offset=".482" stop-color="#1f0c48"/><stop offset=".503" stop-color="#490b6a"/><stop offset=".523" stop-color="#88226a"/><stop offset=".538" stop-color="#a22b62"/><stop offset=".549" stop-color="#932667"/><stop offset=".569" stop-color="#550f6d"/><stop offset=".585" stop-color="#310a5c"/><stop offset=".6" stop-color="#1c0c43"/><stop offset=".641" stop-color="#0d0829"/><stop offset=".682" stop-color="#120a32"/><stop offset=".713" stop-color="#2b0b57"/><stop offset=".733" stop-color="#5a116e"/><stop offset=".749" stop-color="#952667"/><stop offset=".759" stop-color="#c13a50"/><stop offset=".769" stop-color="#d84c3e"/><stop offset=".779" stop-color="#d34743"/><stop offset=".795" stop-color="#b43359"/><stop offset=".805" stop-color="#ab2f5e"/><stop offset=".821" stop-color="#bd3853"/><stop offset=".836" stop-color="#e25734"/><stop offset=".846" stop-color="#e9612b"/><stop offset=".851" stop-color="#e55c30"/><stop offset=".862" stop-color="#ca404a"/><stop offset=".872" stop-color="#9b2964"/><stop offset=".882" stop-color="#6f196e"/><stop offset=".897" stop-color="#420a68"/><stop offset=".913" stop-color="#240c4f"/><stop offset=".944" stop-color="#0c0826"/><stop offset="1" stop-color="#040312"/></linearGradient><linearGradient id="f10" href="#gv"><stop offset="0" stop-color="#000004"/><stop offset=".338" stop-color="#010108"/><stop offset=".41" stop-color="#040312"/><stop offset=".446" stop-color="#0a0722"/><stop offset=".477" stop-color="#1f0c48"/><stop offset=".497" stop-color="#490b6a"/><stop offset=".523" stop-color="#952667"/><stop offset=".533" stop-color="#a22b62"/><stop offset=".544" stop-color="#932667"/><stop offset=".564" stop-color="#550f6d"/><stop offset=".579" stop-color="#320a5e"/><stop offset=".595" stop-color="#1c0c43"/><stop offset=".631" stop-color="#0d0829"/><stop offset=".682" stop-color="#110a30"/><stop offset=".713" stop-color="#260c51"/><stop offset=".738" stop-color="#5d126e"/><stop offset=".754" stop-color="#9a2865"/><stop offset=".764" stop-color="#c43c4e"/><stop offset=".774" stop-color="#db503b"/><stop offset=".785" stop-color="#d94d3d"/><stop offset=".8" stop-color="#bf3952"/><stop offset=".81" stop-color="#ba3655"/><stop offset=".821" stop-color="#c73e4c"/><stop offset=".836" stop-color="#e65d2f"/><stop offset=".846" stop-color="#ec6726"/><stop offset=".856" stop-color="#df5337"/><stop offset=".862" stop-color="#ce4347"/><stop offset=".872" stop-color="#9f2a63"/><stop offset=".882" stop-color="#721a6e"/><stop offset=".897" stop-color="#440a68"/><stop offset=".913" stop-color="#260c51"/><stop offset=".928" stop-color="#150b37"/><stop offset=".949" stop-color="#0b0724"/><stop offset="1" stop-color="#040312"/></linearGradient><linearGradient id="f11" href="#gv"><stop offset="0" stop-color="#000004"/><stop offset=".338" stop-color="#010108"/><stop offset=".4" stop-color="#030210"/><stop offset=".441" stop-color="#0a0722"/><stop offset=".472" stop-color="#1f0c48"/><stop offset=".492" stop-color="#490b6a"/><stop offset=".518" stop-color="#952667"/><stop offset=".528" stop-color="#a22b62"/><stop offset=".538" stop-color="#932667"/><stop offset=".559" stop-color="#57106e"/><stop offset=".574" stop-color="#320a5e"/><stop offset=".595" stop-color="#190c3e"/><stop offset=".636" stop-color="#0c0826"/><stop offset=".692" stop-color="#140b34"/><stop offset=".723" stop-color="#2f0a5b"/><stop offset=".744" stop-color="#5f136e"/><stop offset=".759" stop-color="#9b2964"/><stop offset=".769" stop-color="#c83f4b"/><stop offset=".779" stop-color="#de5238"/><stop offset=".79" stop-color="#dd513a"/><stop offset=".805" stop-color="#ca404a"/><stop offset=".815" stop-color="#cb4149"/><stop offset=".836" stop-color="#eb6628"/><stop offset=".846" stop-color="#f06f20"/><stop offset=".862" stop-color="#d24644"/><stop offset=".872" stop-color="#a32c61"/><stop offset=".882" stop-color="#751b6e"/><stop offset=".897" stop-color="#470b6a"/><stop offset=".913" stop-color="#280b53"/><stop offset=".944" stop-color="#0d0829"/><stop offset="1" stop-color="#040314"/></linearGradient><linearGradient id="f12" href="#gv"><stop offset="0" stop-color="#000004"/><stop offset=".333" stop-color="#010108"/><stop offset=".431" stop-color="#08051d"/><stop offset=".446" stop-color="#0d0829"/><stop offset=".472" stop-color="#260c51"/><stop offset=".492" stop-color="#57106e"/><stop offset=".513" stop-color="#952667"/><stop offset=".523" stop-color="#a22b62"/><stop offset=".533" stop-color="#932667"/><stop offset=".554" stop-color="#57106e"/><stop offset=".569" stop-color="#320a5e"/><stop offset=".59" stop-color="#190c3e"/><stop offset=".605" stop-color="#110a30"/><stop offset=".641" stop-color="#0b0724"/><stop offset=".692" stop-color="#120a32"/><stop offset=".723" stop-color="#290b55"/><stop offset=".738" stop-color="#450a69"/><stop offset=".754" stop-color="#721a6e"/><stop offset=".764" stop-color="#9b2964"/><stop offset=".774" stop-color="#c63d4d"/><stop offset=".785" stop-color="#de5238"/><stop offset=".815" stop-color="#d84c3e"/><stop offset=".841" stop-color="#f3761b"/><stop offset=".846" stop-color="#f3761b"/><stop offset=".856" stop-color="#e65d2f"/><stop offset=".872" stop-color="#a62d60"/><stop offset=".882" stop-color="#781c6d"/><stop offset=".897" stop-color="#490b6a"/><stop offset=".918" stop-color="#210c4a"/><stop offset=".959" stop-color="#09061f"/><stop offset="1" stop-color="#040314"/></linearGradient><linearGradient id="f13" href="#gv"><stop offset="0" stop-color="#000004"/><stop offset=".333" stop-color="#010108"/><stop offset=".395" stop-color="#030210"/><stop offset=".431" stop-color="#09061f"/><stop offset=".467" stop-color="#240c4f"/><stop offset=".487" stop-color="#550f6d"/><stop offset=".508" stop-color="#952667"/><stop offset=".518" stop-color="#a22b62"/><stop offset=".528" stop-color="#932667"/><stop offset=".549" stop-color="#57106e"/><stop offset=".564" stop-color="#320a5e"/><stop offset=".585" stop-color="#190c3e"/><stop offset=".626" stop-color="#0b0724"/><stop offset=".687" stop-color="#10092d"/><stop offset=".728" stop-color="#2b0b57"/><stop offset=".744" stop-color="#470b6a"/><stop offset=".759" stop-color="#721a6e"/><stop offset=".769" stop-color="#9b2964"/><stop offset=".779" stop-color="#c63d4d"/><stop offset=".79" stop-color="#e05536"/><stop offset=".821" stop-color="#e65d2f"/><stop offset=".841" stop-color="#f68013"/><stop offset=".846" stop-color="#f67e14"/><stop offset=".856" stop-color="#e9612b"/><stop offset=".872" stop-color="#ab2f5e"/><stop offset=".882" stop-color="#7c1d6d"/><stop offset=".897" stop-color="#4a0c6b"/><stop offset=".918" stop-color="#230c4c"/><stop offset=".949" stop-color="#0d0829"/><stop offset="1" stop-color="#050417"/></linearGradient><linearGradient id="f14" href="#gv"><stop offset="0" stop-color="#000004"/><stop offset=".333" stop-color="#010108"/><stop offset=".426" stop-color="#08051d"/><stop offset=".446" stop-color="#110a30"/><stop offset=".462" stop-color="#210c4a"/><stop offset=".482" stop-color="#520e6d"/><stop offset=".503" stop-color="#932667"/><stop offset=".513" stop-color="#a22b62"/><stop offset=".523" stop-color="#932667"/><stop offset=".544" stop-color="#57106e"/><stop offset=".559" stop-color="#320a5e"/><stop offset=".574" stop-color="#1c0c43"/><stop offset=".6" stop-color="#0e092b"/><stop offset=".636" stop-color="#0a0722"/><stop offset=".697" stop-color="#120a32"/><stop offset=".733" stop-color="#2d0b59"/><stop offset=".749" stop-color="#490b6a"/><stop offset=".764" stop-color="#741a6e"/><stop offset=".774" stop-color="#9b2964"/><stop offset=".79" stop-color="#d84c3e"/><stop offset=".795" stop-color="#e35933"/><stop offset=".841" stop-color="#f8870e"/><stop offset=".851" stop-color="#f47918"/><stop offset=".862" stop-color="#dd513a"/><stop offset=".872" stop-color="#ae305c"/><stop offset=".882" stop-color="#7f1e6c"/><stop offset=".897" stop-color="#4c0c6b"/><stop offset=".913" stop-color="#2b0b57"/><stop offset=".949" stop-color="#0e092b"/><stop offset="1" stop-color="#060419"/></linearGradient><linearGradient id="f15" href="#gv"><stop offset="0" stop-color="#000004"/><stop offset=".328" stop-color="#010108"/><stop offset=".4" stop-color="#040312"/><stop offset=".431" stop-color="#0a0722"/><stop offset=".456" stop-color="#1c0c43"/><stop offset=".477" stop-color="#4a0c6b"/><stop offset=".497" stop-color="#8f2469"/><stop offset=".508" stop-color="#a22b62"/><stop offset=".518" stop-color="#952667"/><stop offset=".538" stop-color="#550f6d"/><stop offset=".559" stop-color="#290b55"/><stop offset=".574" stop-color="#180c3c"/><stop offset=".621" stop-color="#0a0722"/><stop offset=".692" stop-color="#10092d"/><stop offset=".733" stop-color="#290b55"/><stop offset=".749" stop-color="#400a67"/><stop offset=".769" stop-color="#751b6e"/><stop offset=".779" stop-color="#9f2a63"/><stop offset=".79" stop-color="#cb4149"/><stop offset=".8" stop-color="#e65d2f"/><stop offset=".841" stop-color="#fa9008"/><stop offset=".851" stop-color="#f67e14"/><stop offset=".862" stop-color="#df5337"/><stop offset=".872" stop-color="#b0315b"/><stop offset=".887" stop-color="#6d186e"/><stop offset=".908" stop-color="#390963"/><stop offset=".928" stop-color="#1e0c45"/><stop offset=".954" stop-color="#0e092b"/><stop offset="1" stop-color="#060419"/></linearGradient><linearGradient id="f16" href="#gv"><stop offset="0" stop-color="#000004"/><stop offset=".328" stop-color="#010108"/><stop offset=".4" stop-color="#040312"/><stop offset=".431" stop-color="#0a0722"/><stop offset=".456" stop-color="#1e0c45"/><stop offset=".477" stop-color="#4c0c6b"/><stop offset=".497" stop-color="#932667"/><stop offset=".508" stop-color="#a22b62"/><stop offset=".518" stop-color="#8d2369"/><stop offset=".538" stop-color="#4a0c6b"/><stop offset=".554" stop-color="#290b55"/><stop offset=".569" stop-color="#180c3c"/><stop offset=".585" stop-color="#10092d"/><stop offset=".631" stop-color="#09061f"/><stop offset=".703" stop-color="#120a32"/><stop offset=".744" stop-color="#320a5e"/><stop offset=".764" stop-color="#5a116e"/><stop offset=".774" stop-color="#7a1d6d"/><stop offset=".79" stop-color="#b73557"/><stop offset=".805" stop-color="#e9612b"/><stop offset=".826" stop-color="#f98e09"/><stop offset=".841" stop-color="#fca108"/><stop offset=".851" stop-color="#f98c0a"/><stop offset=".862" stop-color="#e65d2f"/><stop offset=".877" stop-color="#a22b62"/><stop offset=".892" stop-color="#65156e"/><stop offset=".908" stop-color="#3e0966"/><stop offset=".933" stop-color="#1c0c43"/><stop offset=".959" stop-color="#0e092b"/><stop offset="1" stop-color="#07051b"/></linearGradient><linearGradient id="f17" href="#gv"><stop offset="0" stop-color="#010005"/><stop offset=".328" stop-color="#010108"/><stop offset=".426" stop-color="#08051d"/><stop offset=".451" stop-color="#160b39"/><stop offset=".467" stop-color="#2d0b59"/><stop offset=".482" stop-color="#59106e"/><stop offset=".497" stop-color="#902568"/><stop offset=".508" stop-color="#a22b62"/><stop offset=".518" stop-color="#8f2469"/><stop offset=".533" stop-color="#550f6d"/><stop offset=".549" stop-color="#2b0b57"/><stop offset=".564" stop-color="#180c3c"/><stop offset=".579" stop-color="#10092d"/><stop offset=".621" stop-color="#09061f"/><stop offset=".672" stop-color="#0b0724"/><stop offset=".708" stop-color="#140b34"/><stop offset=".744" stop-color="#2f0a5b"/><stop offset=".774" stop-color="#6d186e"/><stop offset=".79" stop-color="#a52c60"/><stop offset=".805" stop-color="#e15635"/><stop offset=".821" stop-color="#f98e09"/><stop offset=".831" stop-color="#fca80d"/><stop offset=".841" stop-color="#fcb418"/><stop offset=".846" stop-color="#fcac11"/><stop offset=".851" stop-color="#fb9d07"/><stop offset=".856" stop-color="#f8850f"/><stop offset=".862" stop-color="#ed6925"/><stop offset=".877" stop-color="#ab2f5e"/><stop offset=".892" stop-color="#6c186e"/><stop offset=".913" stop-color="#3b0964"/><stop offset=".933" stop-color="#1f0c48"/><stop offset=".964" stop-color="#0e092b"/><stop offset="1" stop-color="#07051b"/></linearGradient><linearGradient id="f18" href="#gv"><stop offset="0" stop-color="#010005"/><stop offset=".328" stop-color="#010108"/><stop offset=".431" stop-color="#09061f"/><stop offset=".451" stop-color="#140b34"/><stop offset=".467" stop-color="#280b53"/><stop offset=".487" stop-color="#61136e"/><stop offset=".503" stop-color="#972766"/><stop offset=".513" stop-color="#a02a63"/><stop offset=".523" stop-color="#8a226a"/><stop offset=".538" stop-color="#540f6d"/><stop offset=".554" stop-color="#2d0b59"/><stop offset=".569" stop-color="#180c3c"/><stop offset=".61" stop-color="#0b0724"/><stop offset=".656" stop-color="#0b0724"/><stop offset=".713" stop-color="#160b39"/><stop offset=".744" stop-color="#2d0b59"/><stop offset=".759" stop-color="#440a68"/><stop offset=".779" stop-color="#721a6e"/><stop offset=".79" stop-color="#972766"/><stop offset=".8" stop-color="#c13a50"/><stop offset=".81" stop-color="#e9612b"/><stop offset=".821" stop-color="#fa9207"/><stop offset=".826" stop-color="#fca60c"/><stop offset=".836" stop-color="#fac228"/><stop offset=".846" stop-color="#fbbe23"/><stop offset=".856" stop-color="#fa9407"/><stop offset=".862" stop-color="#f3761b"/><stop offset=".867" stop-color="#e35933"/><stop offset=".877" stop-color="#b63458"/><stop offset=".887" stop-color="#87216b"/><stop offset=".897" stop-color="#64156e"/><stop offset=".913" stop-color="#400a67"/><stop offset=".938" stop-color="#1e0c45"/><stop offset="1" stop-color="#08051d"/></linearGradient><linearGradient id="f19" href="#gv"><stop offset="0" stop-color="#010005"/><stop offset=".328" stop-color="#010108"/><stop offset=".431" stop-color="#08051d"/><stop offset=".451" stop-color="#110a30"/><stop offset=".467" stop-color="#210c4a"/><stop offset=".487" stop-color="#510e6c"/><stop offset=".508" stop-color="#8f2469"/><stop offset=".518" stop-color="#9b2964"/><stop offset=".528" stop-color="#902568"/><stop offset=".549" stop-color="#57106e"/><stop offset=".564" stop-color="#360961"/><stop offset=".585" stop-color="#1c0c43"/><stop offset=".636" stop-color="#10092d"/><stop offset=".667" stop-color="#10092d"/><stop offset=".713" stop-color="#190c3e"/><stop offset=".733" stop-color="#240c4f"/><stop offset=".759" stop-color="#420a68"/><stop offset=".774" stop-color="#5f136e"/><stop offset=".79" stop-color="#8c2369"/><stop offset=".805" stop-color="#ce4347"/><stop offset=".821" stop-color="#f98e09"/><stop offset=".826" stop-color="#fca80d"/><stop offset=".836" stop-color="#f8cd37"/><stop offset=".841" stop-color="#f7d13d"/><stop offset=".846" stop-color="#f9cb35"/><stop offset=".856" stop-color="#fca108"/><stop offset=".862" stop-color="#f78212"/><stop offset=".867" stop-color="#eb6429"/><stop offset=".877" stop-color="#bf3952"/><stop offset=".887" stop-color="#902568"/><stop offset=".897" stop-color="#6c186e"/><stop offset=".918" stop-color="#3d0965"/><stop offset=".938" stop-color="#230c4c"/><stop offset=".969" stop-color="#10092d"/><stop offset="1" stop-color="#09061f"/></linearGradient><linearGradient id="f20" href="#gv"><stop offset="0" stop-color="#010005"/><stop offset=".323" stop-color="#010108"/><stop offset=".405" stop-color="#040312"/><stop offset=".441" stop-color="#0a0722"/><stop offset=".467" stop-color="#1b0c41"/><stop offset=".492" stop-color="#490b6a"/><stop offset=".518" stop-color="#87216b"/><stop offset=".533" stop-color="#952667"/><stop offset=".579" stop-color="#470b6a"/><stop offset=".61" stop-color="#2b0b57"/><stop offset=".656" stop-color="#1b0c41"/><stop offset=".708" stop-color="#1e0c45"/><stop offset=".733" stop-color="#290b55"/><stop offset=".759" stop-color="#440a68"/><stop offset=".774" stop-color="#5d126e"/><stop offset=".795" stop-color="#9a2865"/><stop offset=".81" stop-color="#dd513a"/><stop offset=".821" stop-color="#f8890c"/><stop offset=".826" stop-color="#fca80d"/><stop offset=".836" stop-color="#f6d543"/><stop offset=".841" stop-color="#f4dd4f"/><stop offset=".846" stop-color="#f5d949"/><stop offset=".856" stop-color="#fcb014"/><stop offset=".862" stop-color="#fa9008"/><stop offset=".867" stop-color="#f06f20"/><stop offset=".877" stop-color="#c83f4b"/><stop offset=".887" stop-color="#9a2865"/><stop offset=".903" stop-color="#64156e"/><stop offset=".923" stop-color="#3b0964"/><stop offset=".944" stop-color="#210c4a"/><stop offset=".969" stop-color="#110a30"/><stop offset="1" stop-color="#09061f"/></linearGradient><linearGradient id="f21" href="#gv"><stop offset="0" stop-color="#010108"/><stop offset=".333" stop-color="#02010a"/><stop offset=".441" stop-color="#09061f"/><stop offset=".482" stop-color="#230c4c"/><stop offset=".503" stop-color="#440a68"/><stop offset=".533" stop-color="#7a1d6d"/><stop offset=".554" stop-color="#8a226a"/><stop offset=".641" stop-color="#470b6a"/><stop offset=".713" stop-color="#310a5c"/><stop offset=".749" stop-color="#420a68"/><stop offset=".769" stop-color="#5a116e"/><stop offset=".795" stop-color="#9b2964"/><stop offset=".81" stop-color="#da4e3c"/><stop offset=".821" stop-color="#f8850f"/><stop offset=".826" stop-color="#fca60c"/><stop offset=".836" stop-color="#f5db4c"/><stop offset=".841" stop-color="#f3e55d"/><stop offset=".846" stop-color="#f3e55d"/><stop offset=".851" stop-color="#f6d746"/><stop offset=".862" stop-color="#fb9d07"/><stop offset=".867" stop-color="#f57d15"/><stop offset=".877" stop-color="#d24644"/><stop offset=".887" stop-color="#a32c61"/><stop offset=".903" stop-color="#6d186e"/><stop offset=".918" stop-color="#490b6a"/><stop offset=".938" stop-color="#290b55"/><stop offset=".964" stop-color="#150b37"/><stop offset="1" stop-color="#0a0722"/></linearGradient><linearGradient id="f22" href="#gv"><stop offset="0" stop-color="#02020e"/><stop offset=".344" stop-color="#02020e"/><stop offset=".421" stop-color="#060419"/><stop offset=".477" stop-color="#160b39"/><stop offset=".523" stop-color="#440a68"/><stop offset=".559" stop-color="#67166e"/><stop offset=".595" stop-color="#781c6d"/><stop offset=".641" stop-color="#751b6e"/><stop offset=".718" stop-color="#5c126e"/><stop offset=".749" stop-color="#61136e"/><stop offset=".774" stop-color="#7a1d6d"/><stop offset=".8" stop-color="#bc3754"/><stop offset=".81" stop-color="#e05536"/><stop offset=".821" stop-color="#f98b0b"/><stop offset=".826" stop-color="#fcaa0f"/><stop offset=".836" stop-color="#f4e156"/><stop offset=".841" stop-color="#f1ed71"/><stop offset=".846" stop-color="#f1ed71"/><stop offset=".851" stop-color="#f3e35a"/><stop offset=".862" stop-color="#fcac11"/><stop offset=".867" stop-color="#f98b0b"/><stop offset=".877" stop-color="#dd513a"/><stop offset=".892" stop-color="#9a2865"/><stop offset=".908" stop-color="#67166e"/><stop offset=".933" stop-color="#340a5f"/><stop offset=".954" stop-color="#1e0c45"/><stop offset="1" stop-color="#0b0724"/></linearGradient><linearGradient id="f23" href="#gv"><stop offset="0" stop-color="#030210"/><stop offset=".103" stop-color="#07051b"/><stop offset=".338" stop-color="#040312"/><stop offset=".441" stop-color="#0a0722"/><stop offset=".559" stop-color="#3b0964"/><stop offset=".697" stop-color="#62146e"/><stop offset=".749" stop-color="#7c1d6d"/><stop offset=".774" stop-color="#9a2865"/><stop offset=".795" stop-color="#c83f4b"/><stop offset=".81" stop-color="#ef6e21"/><stop offset=".815" stop-color="#f8870e"/><stop offset=".821" stop-color="#fca50a"/><stop offset=".831" stop-color="#f4df53"/><stop offset=".836" stop-color="#f2f482"/><stop offset=".841" stop-color="#f6fa96"/><stop offset=".846" stop-color="#f5f992"/><stop offset=".851" stop-color="#f1f179"/><stop offset=".856" stop-color="#f4dd4f"/><stop offset=".867" stop-color="#fb9d07"/><stop offset=".872" stop-color="#f57b17"/><stop offset=".882" stop-color="#d24644"/><stop offset=".892" stop-color="#a52c60"/><stop offset=".908" stop-color="#6f196e"/><stop offset=".933" stop-color="#3b0964"/><stop offset=".959" stop-color="#1f0c48"/><stop offset="1" stop-color="#0e092b"/></linearGradient><linearGradient id="f24" href="#gv"><stop offset="0" stop-color="#040312"/><stop offset=".108" stop-color="#0a0722"/><stop offset=".241" stop-color="#040314"/><stop offset=".395" stop-color="#060419"/><stop offset=".528" stop-color="#1c0c43"/><stop offset=".646" stop-color="#290b55"/><stop offset=".697" stop-color="#380962"/><stop offset=".744" stop-color="#520e6d"/><stop offset=".769" stop-color="#721a6e"/><stop offset=".795" stop-color="#b1325a"/><stop offset=".81" stop-color="#e55c30"/><stop offset=".821" stop-color="#fa9407"/><stop offset=".826" stop-color="#fbb61a"/><stop offset=".836" stop-color="#f1ef75"/><stop offset=".841" stop-color="#f4f88e"/><stop offset=".846" stop-color="#f6fa96"/><stop offset=".851" stop-color="#f3f586"/><stop offset=".856" stop-color="#f2e661"/><stop offset=".867" stop-color="#fcaa0f"/><stop offset=".872" stop-color="#f8890c"/><stop offset=".882" stop-color="#db503b"/><stop offset=".897" stop-color="#9b2964"/><stop offset=".918" stop-color="#5f136e"/><stop offset=".933" stop-color="#440a68"/><stop offset=".964" stop-color="#210c4a"/><stop offset="1" stop-color="#110a30"/></linearGradient><linearGradient id="f25" href="#gv"><stop offset="0" stop-color="#040314"/><stop offset=".113" stop-color="#0e092b"/><stop offset=".262" stop-color="#040314"/><stop offset=".415" stop-color="#07051b"/><stop offset=".523" stop-color="#140b34"/><stop offset=".662" stop-color="#1b0c41"/><stop offset=".708" stop-color="#280b53"/><stop offset=".754" stop-color="#490b6a"/><stop offset=".779" stop-color="#721a6e"/><stop offset=".8" stop-color="#b0315b"/><stop offset=".815" stop-color="#e9612b"/><stop offset=".826" stop-color="#fc9f07"/><stop offset=".836" stop-color="#f4dd4f"/><stop offset=".841" stop-color="#f1f179"/><stop offset=".846" stop-color="#f4f88e"/><stop offset=".851" stop-color="#f3f68a"/><stop offset=".856" stop-color="#f1ec6d"/><stop offset=".867" stop-color="#fbb61a"/><stop offset=".872" stop-color="#fb9606"/><stop offset=".882" stop-color="#e35933"/><stop offset=".897" stop-color="#a52c60"/><stop offset=".913" stop-color="#741a6e"/><stop offset=".933" stop-color="#490b6a"/><stop offset=".959" stop-color="#290b55"/><stop offset="1" stop-color="#140b34"/></linearGradient><linearGradient id="f26" href="#gv"><stop offset="0" stop-color="#040314"/><stop offset=".072" stop-color="#0a0722"/><stop offset=".113" stop-color="#150b37"/><stop offset=".2" stop-color="#08051d"/><stop offset=".272" stop-color="#040314"/><stop offset=".646" stop-color="#120a32"/><stop offset=".713" stop-color="#230c4c"/><stop offset=".759" stop-color="#490b6a"/><stop offset=".785" stop-color="#781c6d"/><stop offset=".805" stop-color="#bd3853"/><stop offset=".815" stop-color="#e45a31"/><stop offset=".826" stop-color="#fb9606"/><stop offset=".831" stop-color="#fbb81d"/><stop offset=".841" stop-color="#f1ec6d"/><stop offset=".846" stop-color="#f4f88e"/><stop offset=".851" stop-color="#f5f992"/><stop offset=".856" stop-color="#f1f179"/><stop offset=".862" stop-color="#f4df53"/><stop offset=".872" stop-color="#fca108"/><stop offset=".877" stop-color="#f68013"/><stop offset=".887" stop-color="#d84c3e"/><stop offset=".897" stop-color="#ae305c"/><stop offset=".913" stop-color="#7a1d6d"/><stop offset=".938" stop-color="#450a69"/><stop offset=".964" stop-color="#280b53"/><stop offset="1" stop-color="#150b37"/></linearGradient><linearGradient id="f27" href="#gv"><stop offset="0" stop-color="#050417"/><stop offset=".072" stop-color="#0c0826"/><stop offset=".118" stop-color="#210c4a"/><stop offset=".185" stop-color="#0b0724"/><stop offset=".282" stop-color="#040314"/><stop offset=".615" stop-color="#0d0829"/><stop offset=".667" stop-color="#120a32"/><stop offset=".713" stop-color="#1f0c48"/><stop offset=".759" stop-color="#470b6a"/><stop offset=".785" stop-color="#751b6e"/><stop offset=".8" stop-color="#a62d60"/><stop offset=".81" stop-color="#cf4446"/><stop offset=".826" stop-color="#fa9207"/><stop offset=".831" stop-color="#fcb418"/><stop offset=".841" stop-color="#f1ec6d"/><stop offset=".846" stop-color="#f5f992"/><stop offset=".851" stop-color="#f8fb9a"/><stop offset=".856" stop-color="#f3f68a"/><stop offset=".862" stop-color="#f2e865"/><stop offset=".872" stop-color="#fcae12"/><stop offset=".877" stop-color="#f98c0a"/><stop offset=".887" stop-color="#df5337"/><stop offset=".892" stop-color="#cb4149"/><stop offset=".903" stop-color="#a32c61"/><stop offset=".918" stop-color="#721a6e"/><stop offset=".954" stop-color="#340a5f"/><stop offset="1" stop-color="#150b37"/></linearGradient><linearGradient id="f28" href="#gv"><stop offset="0" stop-color="#050417"/><stop offset=".067" stop-color="#0d0829"/><stop offset=".123" stop-color="#320a5e"/><stop offset=".138" stop-color="#290b55"/><stop offset=".169" stop-color="#110a30"/><stop offset=".19" stop-color="#0c0826"/><stop offset=".267" stop-color="#050417"/><stop offset=".349" stop-color="#040314"/><stop offset=".651" stop-color="#0e092b"/><stop offset=".723" stop-color="#230c4c"/><stop offset=".759" stop-color="#450a69"/><stop offset=".779" stop-color="#69166e"/><stop offset=".8" stop-color="#a62d60"/><stop offset=".815" stop-color="#e25734"/><stop offset=".826" stop-color="#fa9207"/><stop offset=".831" stop-color="#fcb418"/><stop offset=".841" stop-color="#f1ed71"/><stop offset=".846" stop-color="#f8fb9a"/><stop offset=".851" stop-color="#fcffa4"/><stop offset=".856" stop-color="#f9fc9d"/><stop offset=".862" stop-color="#f2f27d"/><stop offset=".872" stop-color="#fbbc21"/><stop offset=".877" stop-color="#fb9906"/><stop offset=".887" stop-color="#e55c30"/><stop offset=".892" stop-color="#d34743"/><stop offset=".903" stop-color="#a92e5e"/><stop offset=".918" stop-color="#751b6e"/><stop offset=".954" stop-color="#360961"/><stop offset="1" stop-color="#150b37"/></linearGradient><linearGradient id="f29" href="#gv"><stop offset="0" stop-color="#060419"/><stop offset=".051" stop-color="#0c0826"/><stop offset=".077" stop-color="#150b37"/><stop offset=".103" stop-color="#340a5f"/><stop offset=".123" stop-color="#470b6a"/><stop offset=".138" stop-color="#3b0964"/><stop offset=".154" stop-color="#230c4c"/><stop offset=".174" stop-color="#120a32"/><stop offset=".215" stop-color="#0a0722"/><stop offset=".303" stop-color="#040314"/><stop offset=".646" stop-color="#0d0829"/><stop offset=".713" stop-color="#1c0c43"/><stop offset=".759" stop-color="#440a68"/><stop offset=".785" stop-color="#741a6e"/><stop offset=".8" stop-color="#a52c60"/><stop offset=".81" stop-color="#cc4248"/><stop offset=".826" stop-color="#f98e09"/><stop offset=".831" stop-color="#fcb216"/><stop offset=".841" stop-color="#f1ed71"/><stop offset=".846" stop-color="#f8fb9a"/><stop offset=".851" stop-color="#fcffa4"/><stop offset=".856" stop-color="#fcffa4"/><stop offset=".862" stop-color="#f3f68a"/><stop offset=".872" stop-color="#fac228"/><stop offset=".877" stop-color="#fc9f07"/><stop offset=".892" stop-color="#d74b3f"/><stop offset=".903" stop-color="#ad305d"/><stop offset=".918" stop-color="#781c6d"/><stop offset=".938" stop-color="#4c0c6b"/><stop offset=".954" stop-color="#360961"/><stop offset="1" stop-color="#160b39"/></linearGradient><linearGradient id="f30" href="#gv"><stop offset="0" stop-color="#060419"/><stop offset=".072" stop-color="#150b37"/><stop offset=".097" stop-color="#390963"/><stop offset=".113" stop-color="#550f6d"/><stop offset=".123" stop-color="#5c126e"/><stop offset=".144" stop-color="#440a68"/><stop offset=".164" stop-color="#1e0c45"/><stop offset=".185" stop-color="#110a30"/><stop offset=".308" stop-color="#040314"/><stop offset=".636" stop-color="#0c0826"/><stop offset=".718" stop-color="#1e0c45"/><stop offset=".759" stop-color="#440a68"/><stop offset=".785" stop-color="#721a6e"/><stop offset=".8" stop-color="#a22b62"/><stop offset=".815" stop-color="#df5337"/><stop offset=".826" stop-color="#f98c0a"/><stop offset=".831" stop-color="#fcae12"/><stop offset=".841" stop-color="#f1ed71"/><stop offset=".846" stop-color="#f8fb9a"/><stop offset=".851" stop-color="#fcffa4"/><stop offset=".856" stop-color="#fcffa4"/><stop offset=".862" stop-color="#f5f992"/><stop offset=".867" stop-color="#f2e661"/><stop offset=".877" stop-color="#fca50a"/><stop offset=".882" stop-color="#f78410"/><stop offset=".892" stop-color="#d94d3d"/><stop offset=".908" stop-color="#9b2964"/><stop offset=".928" stop-color="#61136e"/><stop offset=".944" stop-color="#450a69"/><stop offset=".969" stop-color="#280b53"/><stop offset="1" stop-color="#160b39"/></linearGradient><linearGradient id="f31" href="#gv"><stop offset="0" stop-color="#07051b"/><stop offset=".062" stop-color="#120a32"/><stop offset=".072" stop-color="#190c3e"/><stop offset=".082" stop-color="#240c4f"/><stop offset=".097" stop-color="#470b6a"/><stop offset=".113" stop-color="#6a176e"/><stop offset=".123" stop-color="#721a6e"/><stop offset=".133" stop-color="#69166e"/><stop offset=".149" stop-color="#450a69"/><stop offset=".164" stop-color="#240c4f"/><stop offset=".179" stop-color="#150b37"/><stop offset=".267" stop-color="#060419"/><stop offset=".354" stop-color="#040314"/><stop offset=".651" stop-color="#0d0829"/><stop offset=".718" stop-color="#1e0c45"/><stop offset=".759" stop-color="#420a68"/><stop offset=".779" stop-color="#65156e"/><stop offset=".8" stop-color="#a22b62"/><stop offset=".815" stop-color="#de5238"/><stop offset=".826" stop-color="#f98b0b"/><stop offset=".831" stop-color="#fcae12"/><stop offset=".836" stop-color="#f8cf3a"/><stop offset=".841" stop-color="#f1ed71"/><stop offset=".846" stop-color="#f9fc9d"/><stop offset=".851" stop-color="#fcffa4"/><stop offset=".862" stop-color="#f8fb9a"/><stop offset=".867" stop-color="#f2ea69"/><stop offset=".877" stop-color="#fcaa0f"/><stop offset=".882" stop-color="#f8870e"/><stop offset=".892" stop-color="#db503b"/><stop offset=".903" stop-color="#b1325a"/><stop offset=".913" stop-color="#8c2369"/><stop offset=".928" stop-color="#62146e"/><stop offset=".949" stop-color="#3e0966"/><stop offset=".969" stop-color="#280b53"/><stop offset="1" stop-color="#160b39"/></linearGradient><linearGradient id="f32" href="#gv"><stop offset="0" stop-color="#07051b"/><stop offset=".072" stop-color="#1b0c41"/><stop offset=".082" stop-color="#290b55"/><stop offset=".097" stop-color="#520e6d"/><stop offset=".113" stop-color="#7c1d6d"/><stop offset=".123" stop-color="#85216b"/><stop offset=".133" stop-color="#7a1d6d"/><stop offset=".149" stop-color="#510e6c"/><stop offset=".159" stop-color="#340a5f"/><stop offset=".174" stop-color="#1b0c41"/><stop offset=".205" stop-color="#0e092b"/><stop offset=".256" stop-color="#07051b"/><stop offset=".354" stop-color="#040314"/><stop offset=".651" stop-color="#0d0829"/><stop offset=".718" stop-color="#1e0c45"/><stop offset=".759" stop-color="#420a68"/><stop offset=".785" stop-color="#71196e"/><stop offset=".8" stop-color="#a02a63"/><stop offset=".815" stop-color="#de5238"/><stop offset=".826" stop-color="#f98b0b"/><stop offset=".831" stop-color="#fcae12"/><stop offset=".836" stop-color="#f8cf3a"/><stop offset=".841" stop-color="#f1ed71"/><stop offset=".846" stop-color="#fafda1"/><stop offset=".851" stop-color="#fcffa4"/><stop offset=".862" stop-color="#fafda1"/><stop offset=".867" stop-color="#f1ed71"/><stop offset=".877" stop-color="#fcae12"/><stop offset=".882" stop-color="#f98b0b"/><stop offset=".892" stop-color="#de5238"/><stop offset=".897" stop-color="#ca404a"/><stop offset=".908" stop-color="#a02a63"/><stop offset=".918" stop-color="#7d1e6d"/><stop offset=".938" stop-color="#4f0d6c"/><stop offset=".959" stop-color="#320a5e"/><stop offset="1" stop-color="#160b39"/></linearGradient><linearGradient id="f33" href="#gv"><stop offset="0" stop-color="#07051b"/><stop offset=".051" stop-color="#110a30"/><stop offset=".072" stop-color="#1e0c45"/><stop offset=".082" stop-color="#2d0b59"/><stop offset=".092" stop-color="#4a0c6b"/><stop offset=".113" stop-color="#88226a"/><stop offset=".123" stop-color="#932667"/><stop offset=".133" stop-color="#87216b"/><stop offset=".149" stop-color="#57106e"/><stop offset=".164" stop-color="#2d0b59"/><stop offset=".174" stop-color="#1e0c45"/><stop offset=".19" stop-color="#140b34"/><stop offset=".241" stop-color="#09061f"/><stop offset=".354" stop-color="#040314"/><stop offset=".621" stop-color="#0b0724"/><stop offset=".708" stop-color="#190c3e"/><stop offset=".759" stop-color="#420a68"/><stop offset=".779" stop-color="#65156e"/><stop offset=".8" stop-color="#a02a63"/><stop offset=".815" stop-color="#de5238"/><stop offset=".826" stop-color="#f98b0b"/><stop offset=".831" stop-color="#fcae12"/><stop offset=".836" stop-color="#f7d13d"/><stop offset=".841" stop-color="#f1ef75"/><stop offset=".846" stop-color="#fcffa4"/><stop offset=".862" stop-color="#fcffa4"/><stop offset=".867" stop-color="#f1f179"/><stop offset=".877" stop-color="#fcb216"/><stop offset=".882" stop-color="#f98e09"/><stop offset=".892" stop-color="#df5337"/><stop offset=".897" stop-color="#cb4149"/><stop offset=".908" stop-color="#a22b62"/><stop offset=".918" stop-color="#7f1e6c"/><stop offset=".928" stop-color="#64156e"/><stop offset=".954" stop-color="#390963"/><stop offset="1" stop-color="#160b39"/></linearGradient><linearGradient id="f34" href="#gv"><stop offset="0" stop-color="#08051d"/><stop offset=".046" stop-color="#10092d"/><stop offset=".072" stop-color="#1e0c45"/><stop offset=".092" stop-color="#4c0c6b"/><stop offset=".113" stop-color="#8d2369"/><stop offset=".123" stop-color="#982766"/><stop offset=".133" stop-color="#8c2369"/><stop offset=".154" stop-color="#4a0c6b"/><stop offset=".174" stop-color="#1e0c45"/><stop offset=".19" stop-color="#140b34"/><stop offset=".241" stop-color="#09061f"/><stop offset=".354" stop-color="#040314"/><stop offset=".605" stop-color="#0a0722"/><stop offset=".708" stop-color="#190c3e"/><stop offset=".733" stop-color="#280b53"/><stop offset=".759" stop-color="#440a68"/><stop offset=".779" stop-color="#65156e"/><stop offset=".8" stop-color="#a22b62"/><stop offset=".815" stop-color="#df5337"/><stop offset=".826" stop-color="#f98c0a"/><stop offset=".831" stop-color="#fcb014"/><stop offset=".836" stop-color="#f7d340"/><stop offset=".841" stop-color="#f1f179"/><stop offset=".846" stop-color="#fcffa4"/><stop offset=".862" stop-color="#fcffa4"/><stop offset=".867" stop-color="#f2f482"/><stop offset=".872" stop-color="#f6d746"/><stop offset=".877" stop-color="#fcb418"/><stop offset=".882" stop-color="#fa9008"/><stop offset=".892" stop-color="#e05536"/><stop offset=".897" stop-color="#cc4248"/><stop offset=".908" stop-color="#a22b62"/><stop offset=".918" stop-color="#801f6c"/><stop offset=".933" stop-color="#5a116e"/><stop offset=".954" stop-color="#390963"/><stop offset="1" stop-color="#160b39"/></linearGradient><linearGradient id="f35" href="#gv"><stop offset="0" stop-color="#08051d"/><stop offset=".051" stop-color="#110a30"/><stop offset=".072" stop-color="#1e0c45"/><stop offset=".092" stop-color="#4a0c6b"/><stop offset=".113" stop-color="#8a226a"/><stop offset=".123" stop-color="#952667"/><stop offset=".133" stop-color="#88226a"/><stop offset=".149" stop-color="#59106e"/><stop offset=".164" stop-color="#2d0b59"/><stop offset=".174" stop-color="#1e0c45"/><stop offset=".19" stop-color="#140b34"/><stop offset=".241" stop-color="#09061f"/><stop offset=".354" stop-color="#040314"/><stop offset=".605" stop-color="#0a0722"/><stop offset=".708" stop-color="#190c3e"/><stop offset=".759" stop-color="#420a68"/><stop offset=".779" stop-color="#65156e"/><stop offset=".8" stop-color="#a22b62"/><stop offset=".815" stop-color="#de5238"/><stop offset=".826" stop-color="#f98c0a"/><stop offset=".831" stop-color="#fcae12"/><stop offset=".841" stop-color="#f1ef75"/><stop offset=".846" stop-color="#fcffa4"/><stop offset=".862" stop-color="#fcffa4"/><stop offset=".867" stop-color="#f2f27d"/><stop offset=".872" stop-color="#f6d543"/><stop offset=".877" stop-color="#fcb216"/><stop offset=".882" stop-color="#f98e09"/><stop offset=".887" stop-color="#ef6e21"/><stop offset=".897" stop-color="#cb4149"/><stop offset=".908" stop-color="#a22b62"/><stop offset=".918" stop-color="#7f1e6c"/><stop offset=".933" stop-color="#5a116e"/><stop offset=".954" stop-color="#390963"/><stop offset="1" stop-color="#160b39"/></linearGradient><linearGradient id="f36" href="#gv"><stop offset="0" stop-color="#07051b"/><stop offset=".056" stop-color="#120a32"/><stop offset=".072" stop-color="#1c0c43"/><stop offset=".087" stop-color="#360961"/><stop offset=".097" stop-color="#540f6d"/><stop offset=".113" stop-color="#7f1e6c"/><stop offset=".123" stop-color="#88226a"/><stop offset=".133" stop-color="#7d1e6d"/><stop offset=".149" stop-color="#520e6d"/><stop offset=".169" stop-color="#210c4a"/><stop offset=".195" stop-color="#110a30"/><stop offset=".241" stop-color="#09061f"/><stop offset=".354" stop-color="#040314"/><stop offset=".621" stop-color="#0b0724"/><stop offset=".708" stop-color="#190c3e"/><stop offset=".759" stop-color="#420a68"/><stop offset=".779" stop-color="#65156e"/><stop offset=".8" stop-color="#a22b62"/><stop offset=".815" stop-color="#de5238"/><stop offset=".826" stop-color="#f98b0b"/><stop offset=".831" stop-color="#fcae12"/><stop offset=".841" stop-color="#f1ed71"/><stop offset=".846" stop-color="#fafda1"/><stop offset=".851" stop-color="#fcffa4"/><stop offset=".862" stop-color="#fcffa4"/><stop offset=".867" stop-color="#f1ef75"/><stop offset=".877" stop-color="#fcb014"/><stop offset=".882" stop-color="#f98c0a"/><stop offset=".892" stop-color="#de5238"/><stop offset=".897" stop-color="#ca404a"/><stop offset=".908" stop-color="#a02a63"/><stop offset=".918" stop-color="#7f1e6c"/><stop offset=".938" stop-color="#4f0d6c"/><stop offset=".959" stop-color="#320a5e"/><stop offset="1" stop-color="#160b39"/></linearGradient><linearGradient id="f37" href="#gv"><stop offset="0" stop-color="#07051b"/><stop offset=".056" stop-color="#110a30"/><stop offset=".077" stop-color="#1e0c45"/><stop offset=".097" stop-color="#490b6a"/><stop offset=".113" stop-color="#6d186e"/><stop offset=".123" stop-color="#771c6d"/><stop offset=".138" stop-color="#62146e"/><stop offset=".149" stop-color="#470b6a"/><stop offset=".164" stop-color="#240c4f"/><stop offset=".174" stop-color="#190c3e"/><stop offset=".215" stop-color="#0c0826"/><stop offset=".267" stop-color="#060419"/><stop offset=".354" stop-color="#040314"/><stop offset=".651" stop-color="#0d0829"/><stop offset=".718" stop-color="#1e0c45"/><stop offset=".759" stop-color="#440a68"/><stop offset=".779" stop-color="#65156e"/><stop offset=".8" stop-color="#a22b62"/><stop offset=".815" stop-color="#de5238"/><stop offset=".826" stop-color="#f98b0b"/><stop offset=".831" stop-color="#fcae12"/><stop offset=".841" stop-color="#f1ed71"/><stop offset=".846" stop-color="#f9fc9d"/><stop offset=".851" stop-color="#fcffa4"/><stop offset=".862" stop-color="#f9fc9d"/><stop offset=".867" stop-color="#f1ec6d"/><stop offset=".877" stop-color="#fcac11"/><stop offset=".882" stop-color="#f8890c"/><stop offset=".887" stop-color="#ed6925"/><stop offset=".897" stop-color="#c83f4b"/><stop offset=".908" stop-color="#9f2a63"/><stop offset=".918" stop-color="#7d1e6d"/><stop offset=".949" stop-color="#3e0966"/><stop offset=".969" stop-color="#280b53"/><stop offset="1" stop-color="#160b39"/></linearGradient><linearGradient id="f38" href="#gv"><stop offset="0" stop-color="#07051b"/><stop offset=".072" stop-color="#160b39"/><stop offset=".097" stop-color="#3d0965"/><stop offset=".113" stop-color="#5a116e"/><stop offset=".123" stop-color="#61136e"/><stop offset=".133" stop-color="#59106e"/><stop offset=".149" stop-color="#3b0964"/><stop offset=".164" stop-color="#1f0c48"/><stop offset=".179" stop-color="#140b34"/><stop offset=".241" stop-color="#08051d"/><stop offset=".308" stop-color="#040314"/><stop offset=".636" stop-color="#0c0826"/><stop offset=".718" stop-color="#1e0c45"/><stop offset=".759" stop-color="#440a68"/><stop offset=".785" stop-color="#721a6e"/><stop offset=".8" stop-color="#a22b62"/><stop offset=".815" stop-color="#df5337"/><stop offset=".826" stop-color="#f98c0a"/><stop offset=".831" stop-color="#fcae12"/><stop offset=".841" stop-color="#f1ed71"/><stop offset=".846" stop-color="#f9fc9d"/><stop offset=".851" stop-color="#fcffa4"/><stop offset=".856" stop-color="#fcffa4"/><stop offset=".862" stop-color="#f6fa96"/><stop offset=".867" stop-color="#f2e865"/><stop offset=".877" stop-color="#fca60c"/><stop offset=".882" stop-color="#f8850f"/><stop offset=".892" stop-color="#da4e3c"/><stop offset=".908" stop-color="#9d2964"/><stop offset=".923" stop-color="#6d186e"/><stop offset=".944" stop-color="#450a69"/><stop offset=".969" stop-color="#280b53"/><stop offset="1" stop-color="#160b39"/></linearGradient><linearGradient id="f39" href="#gv"><stop offset="0" stop-color="#060419"/><stop offset=".072" stop-color="#120a32"/><stop offset=".103" stop-color="#380962"/><stop offset=".118" stop-color="#490b6a"/><stop offset=".138" stop-color="#3e0966"/><stop offset=".164" stop-color="#190c3e"/><stop offset=".179" stop-color="#110a30"/><stop offset=".303" stop-color="#040314"/><stop offset=".636" stop-color="#0c0826"/><stop offset=".713" stop-color="#1c0c43"/><stop offset=".759" stop-color="#440a68"/><stop offset=".785" stop-color="#741a6e"/><stop offset=".8" stop-color="#a52c60"/><stop offset=".815" stop-color="#e05536"/><stop offset=".826" stop-color="#f98e09"/><stop offset=".831" stop-color="#fcb216"/><stop offset=".841" stop-color="#f1ed71"/><stop offset=".846" stop-color="#f8fb9a"/><stop offset=".851" stop-color="#fcffa4"/><stop offset=".856" stop-color="#fcffa4"/><stop offset=".862" stop-color="#f4f88e"/><stop offset=".872" stop-color="#fac42a"/><stop offset=".877" stop-color="#fca309"/><stop offset=".882" stop-color="#f68013"/><stop offset=".892" stop-color="#d74b3f"/><stop offset=".908" stop-color="#9a2865"/><stop offset=".923" stop-color="#6c186e"/><stop offset=".949" stop-color="#3d0965"/><stop offset=".974" stop-color="#230c4c"/><stop offset="1" stop-color="#160b39"/></linearGradient><linearGradient id="f40" href="#gv"><stop offset="0" stop-color="#050417"/><stop offset=".072" stop-color="#10092d"/><stop offset=".108" stop-color="#2d0b59"/><stop offset=".123" stop-color="#360961"/><stop offset=".185" stop-color="#0d0829"/><stop offset=".267" stop-color="#050417"/><stop offset=".344" stop-color="#040314"/><stop offset=".646" stop-color="#0d0829"/><stop offset=".718" stop-color="#1f0c48"/><stop offset=".759" stop-color="#450a69"/><stop offset=".785" stop-color="#751b6e"/><stop offset=".8" stop-color="#a62d60"/><stop offset=".815" stop-color="#e25734"/><stop offset=".826" stop-color="#fa9207"/><stop offset=".831" stop-color="#fcb418"/><stop offset=".841" stop-color="#f1ef75"/><stop offset=".846" stop-color="#f8fb9a"/><stop offset=".851" stop-color="#fcffa4"/><stop offset=".856" stop-color="#fafda1"/><stop offset=".862" stop-color="#f2f482"/><stop offset=".872" stop-color="#fbbe23"/><stop offset=".877" stop-color="#fb9b06"/><stop offset=".892" stop-color="#d44842"/><stop offset=".903" stop-color="#ab2f5e"/><stop offset=".918" stop-color="#771c6d"/><stop offset=".933" stop-color="#540f6d"/><stop offset=".954" stop-color="#360961"/><stop offset="1" stop-color="#150b37"/></linearGradient><linearGradient id="f41" href="#gv"><stop offset="0" stop-color="#050417"/><stop offset=".072" stop-color="#0d0829"/><stop offset=".123" stop-color="#240c4f"/><stop offset=".179" stop-color="#0c0826"/><stop offset=".287" stop-color="#040314"/><stop offset=".621" stop-color="#0c0826"/><stop offset=".703" stop-color="#190c3e"/><stop offset=".738" stop-color="#2f0a5b"/><stop offset=".759" stop-color="#470b6a"/><stop offset=".779" stop-color="#6a176e"/><stop offset=".8" stop-color="#a62d60"/><stop offset=".815" stop-color="#e25734"/><stop offset=".826" stop-color="#fa9207"/><stop offset=".831" stop-color="#fcb418"/><stop offset=".841" stop-color="#f1ec6d"/><stop offset=".846" stop-color="#f5f992"/><stop offset=".851" stop-color="#f9fc9d"/><stop offset=".856" stop-color="#f5f992"/><stop offset=".862" stop-color="#f1ec6d"/><stop offset=".872" stop-color="#fcb216"/><stop offset=".877" stop-color="#fa9008"/><stop offset=".892" stop-color="#ce4347"/><stop offset=".903" stop-color="#a52c60"/><stop offset=".918" stop-color="#741a6e"/><stop offset=".954" stop-color="#340a5f"/><stop offset="1" stop-color="#150b37"/></linearGradient><linearGradient id="f42" href="#gv"><stop offset="0" stop-color="#040314"/><stop offset=".082" stop-color="#0c0826"/><stop offset=".118" stop-color="#180c3c"/><stop offset=".174" stop-color="#0b0724"/><stop offset=".277" stop-color="#040314"/><stop offset=".4" stop-color="#060419"/><stop offset=".503" stop-color="#0d0829"/><stop offset=".61" stop-color="#0d0829"/><stop offset=".703" stop-color="#1b0c41"/><stop offset=".728" stop-color="#280b53"/><stop offset=".759" stop-color="#470b6a"/><stop offset=".785" stop-color="#771c6d"/><stop offset=".8" stop-color="#a82e5f"/><stop offset=".81" stop-color="#d04545"/><stop offset=".826" stop-color="#fa9407"/><stop offset=".831" stop-color="#fbb61a"/><stop offset=".841" stop-color="#f1ec6d"/><stop offset=".846" stop-color="#f3f68a"/><stop offset=".851" stop-color="#f5f992"/><stop offset=".856" stop-color="#f2f27d"/><stop offset=".862" stop-color="#f4e156"/><stop offset=".872" stop-color="#fca50a"/><stop offset=".877" stop-color="#f78410"/><stop offset=".887" stop-color="#da4e3c"/><stop offset=".903" stop-color="#9d2964"/><stop offset=".923" stop-color="#62146e"/><stop offset=".938" stop-color="#470b6a"/><stop offset=".969" stop-color="#240c4f"/><stop offset="1" stop-color="#150b37"/></linearGradient><linearGradient id="f43" href="#gv"><stop offset="0" stop-color="#040314"/><stop offset=".113" stop-color="#10092d"/><stop offset=".236" stop-color="#050417"/><stop offset=".338" stop-color="#040314"/><stop offset=".497" stop-color="#10092d"/><stop offset=".626" stop-color="#110a30"/><stop offset=".697" stop-color="#1c0c43"/><stop offset=".754" stop-color="#440a68"/><stop offset=".779" stop-color="#6f196e"/><stop offset=".795" stop-color="#9a2865"/><stop offset=".805" stop-color="#c03a51"/><stop offset=".815" stop-color="#e75e2e"/><stop offset=".826" stop-color="#fb9906"/><stop offset=".831" stop-color="#fbba1f"/><stop offset=".836" stop-color="#f6d746"/><stop offset=".841" stop-color="#f1ec6d"/><stop offset=".846" stop-color="#f3f586"/><stop offset=".851" stop-color="#f3f586"/><stop offset=".856" stop-color="#f1ec6d"/><stop offset=".867" stop-color="#fbb81d"/><stop offset=".872" stop-color="#fb9706"/><stop offset=".887" stop-color="#d24644"/><stop offset=".897" stop-color="#a82e5f"/><stop offset=".913" stop-color="#751b6e"/><stop offset=".933" stop-color="#4a0c6b"/><stop offset=".964" stop-color="#260c51"/><stop offset="1" stop-color="#140b34"/></linearGradient><linearGradient id="f44" href="#gv"><stop offset="0" stop-color="#040312"/><stop offset=".113" stop-color="#0b0724"/><stop offset=".246" stop-color="#040314"/><stop offset=".344" stop-color="#040314"/><stop offset=".508" stop-color="#150b37"/><stop offset=".626" stop-color="#180c3c"/><stop offset=".692" stop-color="#230c4c"/><stop offset=".718" stop-color="#2d0b59"/><stop offset=".754" stop-color="#4c0c6b"/><stop offset=".774" stop-color="#6c186e"/><stop offset=".79" stop-color="#922568"/><stop offset=".8" stop-color="#b63458"/><stop offset=".81" stop-color="#db503b"/><stop offset=".821" stop-color="#f78410"/><stop offset=".826" stop-color="#fca50a"/><stop offset=".836" stop-color="#f4df53"/><stop offset=".841" stop-color="#f1f179"/><stop offset=".846" stop-color="#f3f586"/><stop offset=".851" stop-color="#f2f27d"/><stop offset=".856" stop-color="#f3e55d"/><stop offset=".867" stop-color="#fcac11"/><stop offset=".872" stop-color="#f98b0b"/><stop offset=".882" stop-color="#de5238"/><stop offset=".897" stop-color="#9f2a63"/><stop offset=".913" stop-color="#6d186e"/><stop offset=".933" stop-color="#450a69"/><stop offset=".964" stop-color="#230c4c"/><stop offset="1" stop-color="#120a32"/></linearGradient><linearGradient id="f45" href="#gv"><stop offset="0" stop-color="#030210"/><stop offset=".113" stop-color="#08051d"/><stop offset=".251" stop-color="#040312"/><stop offset=".379" stop-color="#050417"/><stop offset=".436" stop-color="#0a0722"/><stop offset=".538" stop-color="#230c4c"/><stop offset=".631" stop-color="#290b55"/><stop offset=".697" stop-color="#3b0964"/><stop offset=".733" stop-color="#4f0d6c"/><stop offset=".769" stop-color="#7a1d6d"/><stop offset=".795" stop-color="#ba3655"/><stop offset=".81" stop-color="#eb6628"/><stop offset=".821" stop-color="#fca108"/><stop offset=".826" stop-color="#fac026"/><stop offset=".836" stop-color="#f2f482"/><stop offset=".841" stop-color="#f4f88e"/><stop offset=".846" stop-color="#f3f68a"/><stop offset=".851" stop-color="#f1ed71"/><stop offset=".856" stop-color="#f5db4c"/><stop offset=".867" stop-color="#fb9d07"/><stop offset=".872" stop-color="#f57d15"/><stop offset=".882" stop-color="#d44842"/><stop offset=".897" stop-color="#932667"/><stop offset=".918" stop-color="#59106e"/><stop offset=".938" stop-color="#360961"/><stop offset=".959" stop-color="#210c4a"/><stop offset="1" stop-color="#0e092b"/></linearGradient><linearGradient id="f46" href="#gv"><stop offset="0" stop-color="#02020e"/><stop offset=".113" stop-color="#050417"/><stop offset=".354" stop-color="#030210"/><stop offset=".421" stop-color="#07051b"/><stop offset=".462" stop-color="#10092d"/><stop offset=".544" stop-color="#3b0964"/><stop offset=".738" stop-color="#6f196e"/><stop offset=".764" stop-color="#84206b"/><stop offset=".785" stop-color="#a62d60"/><stop offset=".8" stop-color="#d04545"/><stop offset=".81" stop-color="#ee6a24"/><stop offset=".821" stop-color="#fca108"/><stop offset=".831" stop-color="#f5d949"/><stop offset=".836" stop-color="#f1ec6d"/><stop offset=".841" stop-color="#f2f27d"/><stop offset=".846" stop-color="#f1f179"/><stop offset=".851" stop-color="#f3e55d"/><stop offset=".862" stop-color="#fcb014"/><stop offset=".867" stop-color="#f98e09"/><stop offset=".877" stop-color="#df5337"/><stop offset=".892" stop-color="#9d2964"/><stop offset=".913" stop-color="#5c126e"/><stop offset=".938" stop-color="#2f0a5b"/><stop offset=".979" stop-color="#110a30"/><stop offset="1" stop-color="#0c0826"/></linearGradient><linearGradient id="f47" href="#gv"><stop offset="0" stop-color="#02010a"/><stop offset=".323" stop-color="#02010a"/><stop offset=".436" stop-color="#09061f"/><stop offset=".477" stop-color="#1c0c43"/><stop offset=".513" stop-color="#420a68"/><stop offset=".544" stop-color="#62146e"/><stop offset=".595" stop-color="#781c6d"/><stop offset=".626" stop-color="#741a6e"/><stop offset=".692" stop-color="#4c0c6b"/><stop offset=".728" stop-color="#470b6a"/><stop offset=".754" stop-color="#550f6d"/><stop offset=".769" stop-color="#6a176e"/><stop offset=".785" stop-color="#8d2369"/><stop offset=".795" stop-color="#b0315b"/><stop offset=".805" stop-color="#d74b3f"/><stop offset=".821" stop-color="#fb9906"/><stop offset=".831" stop-color="#f8cf3a"/><stop offset=".836" stop-color="#f3e35a"/><stop offset=".841" stop-color="#f2ea69"/><stop offset=".846" stop-color="#f2e865"/><stop offset=".851" stop-color="#f5db4c"/><stop offset=".862" stop-color="#fca309"/><stop offset=".867" stop-color="#f78212"/><stop offset=".877" stop-color="#d74b3f"/><stop offset=".887" stop-color="#a92e5e"/><stop offset=".903" stop-color="#71196e"/><stop offset=".923" stop-color="#420a68"/><stop offset=".944" stop-color="#240c4f"/><stop offset="1" stop-color="#0a0722"/></linearGradient><linearGradient id="f48" href="#gv"><stop offset="0" stop-color="#010106"/><stop offset=".318" stop-color="#010108"/><stop offset=".426" stop-color="#07051b"/><stop offset=".467" stop-color="#1c0c43"/><stop offset=".492" stop-color="#420a68"/><stop offset=".523" stop-color="#751b6e"/><stop offset=".544" stop-color="#88226a"/><stop offset=".564" stop-color="#84206b"/><stop offset=".61" stop-color="#540f6d"/><stop offset=".646" stop-color="#340a5f"/><stop offset=".687" stop-color="#240c4f"/><stop offset=".713" stop-color="#260c51"/><stop offset=".738" stop-color="#340a5f"/><stop offset=".759" stop-color="#4c0c6b"/><stop offset=".774" stop-color="#6c186e"/><stop offset=".79" stop-color="#9d2964"/><stop offset=".805" stop-color="#db503b"/><stop offset=".815" stop-color="#f78410"/><stop offset=".821" stop-color="#fca108"/><stop offset=".836" stop-color="#f4df53"/><stop offset=".841" stop-color="#f3e55d"/><stop offset=".846" stop-color="#f4df53"/><stop offset=".851" stop-color="#f7d13d"/><stop offset=".862" stop-color="#fb9906"/><stop offset=".867" stop-color="#f37819"/><stop offset=".877" stop-color="#cf4446"/><stop offset=".887" stop-color="#a02a63"/><stop offset=".903" stop-color="#6a176e"/><stop offset=".918" stop-color="#450a69"/><stop offset=".944" stop-color="#230c4c"/><stop offset=".964" stop-color="#140b34"/><stop offset="1" stop-color="#0a0722"/></linearGradient><linearGradient id="f49" href="#gv"><stop offset="0" stop-color="#010005"/><stop offset=".323" stop-color="#010108"/><stop offset=".426" stop-color="#08051d"/><stop offset=".451" stop-color="#140b34"/><stop offset=".482" stop-color="#450a69"/><stop offset=".503" stop-color="#771c6d"/><stop offset=".523" stop-color="#932667"/><stop offset=".544" stop-color="#84206b"/><stop offset=".569" stop-color="#540f6d"/><stop offset=".61" stop-color="#260c51"/><stop offset=".656" stop-color="#150b37"/><stop offset=".708" stop-color="#190c3e"/><stop offset=".733" stop-color="#280b53"/><stop offset=".754" stop-color="#400a67"/><stop offset=".769" stop-color="#5f136e"/><stop offset=".785" stop-color="#902568"/><stop offset=".795" stop-color="#bd3853"/><stop offset=".805" stop-color="#e65d2f"/><stop offset=".815" stop-color="#fa9207"/><stop offset=".821" stop-color="#fcaa0f"/><stop offset=".836" stop-color="#f5d949"/><stop offset=".841" stop-color="#f4dd4f"/><stop offset=".846" stop-color="#f6d746"/><stop offset=".856" stop-color="#fcae12"/><stop offset=".862" stop-color="#f98e09"/><stop offset=".867" stop-color="#f06f20"/><stop offset=".877" stop-color="#c83f4b"/><stop offset=".887" stop-color="#9a2865"/><stop offset=".903" stop-color="#64156e"/><stop offset=".923" stop-color="#380962"/><stop offset=".944" stop-color="#1f0c48"/><stop offset=".964" stop-color="#120a32"/><stop offset="1" stop-color="#09061f"/></linearGradient><linearGradient id="f50" href="#gv"><stop offset="0" stop-color="#010005"/><stop offset=".328" stop-color="#010108"/><stop offset=".39" stop-color="#030210"/><stop offset=".431" stop-color="#0a0722"/><stop offset=".456" stop-color="#1e0c45"/><stop offset=".477" stop-color="#4a0c6b"/><stop offset=".497" stop-color="#87216b"/><stop offset=".513" stop-color="#9a2865"/><stop offset=".528" stop-color="#84206b"/><stop offset=".549" stop-color="#520e6d"/><stop offset=".579" stop-color="#1f0c48"/><stop offset=".626" stop-color="#0e092b"/><stop offset=".697" stop-color="#120a32"/><stop offset=".744" stop-color="#310a5c"/><stop offset=".759" stop-color="#4a0c6b"/><stop offset=".774" stop-color="#721a6e"/><stop offset=".79" stop-color="#b3325a"/><stop offset=".8" stop-color="#e15635"/><stop offset=".81" stop-color="#f8870e"/><stop offset=".815" stop-color="#fb9b06"/><stop offset=".821" stop-color="#fcac11"/><stop offset=".836" stop-color="#f8cf3a"/><stop offset=".841" stop-color="#f7d340"/><stop offset=".846" stop-color="#f8cd37"/><stop offset=".856" stop-color="#fca309"/><stop offset=".862" stop-color="#f8850f"/><stop offset=".867" stop-color="#ec6726"/><stop offset=".877" stop-color="#c13a50"/><stop offset=".887" stop-color="#922568"/><stop offset=".897" stop-color="#6d186e"/><stop offset=".913" stop-color="#470b6a"/><stop offset=".933" stop-color="#260c51"/><stop offset=".964" stop-color="#110a30"/><stop offset="1" stop-color="#08051d"/></linearGradient><linearGradient id="f51" href="#gv"><stop offset="0" stop-color="#010005"/><stop offset=".328" stop-color="#010108"/><stop offset=".39" stop-color="#030210"/><stop offset=".426" stop-color="#09061f"/><stop offset=".456" stop-color="#210c4a"/><stop offset=".477" stop-color="#540f6d"/><stop offset=".492" stop-color="#8c2369"/><stop offset=".503" stop-color="#9f2a63"/><stop offset=".513" stop-color="#932667"/><stop offset=".538" stop-color="#490b6a"/><stop offset=".554" stop-color="#290b55"/><stop offset=".574" stop-color="#150b37"/><stop offset=".615" stop-color="#0a0722"/><stop offset=".656" stop-color="#0a0722"/><stop offset=".703" stop-color="#120a32"/><stop offset=".738" stop-color="#2b0b57"/><stop offset=".759" stop-color="#4d0d6c"/><stop offset=".769" stop-color="#6a176e"/><stop offset=".785" stop-color="#a82e5f"/><stop offset=".8" stop-color="#e9612b"/><stop offset=".81" stop-color="#f98c0a"/><stop offset=".821" stop-color="#fca80d"/><stop offset=".836" stop-color="#fac62d"/><stop offset=".846" stop-color="#fac228"/><stop offset=".856" stop-color="#fb9906"/><stop offset=".867" stop-color="#e75e2e"/><stop offset=".877" stop-color="#ba3655"/><stop offset=".887" stop-color="#8c2369"/><stop offset=".897" stop-color="#67166e"/><stop offset=".913" stop-color="#420a68"/><stop offset=".938" stop-color="#1e0c45"/><stop offset=".969" stop-color="#0d0829"/><stop offset="1" stop-color="#08051d"/></linearGradient><linearGradient id="f52" href="#gv"><stop offset="0" stop-color="#000004"/><stop offset=".328" stop-color="#010108"/><stop offset=".39" stop-color="#030210"/><stop offset=".426" stop-color="#09061f"/><stop offset=".446" stop-color="#150b37"/><stop offset=".462" stop-color="#2b0b57"/><stop offset=".477" stop-color="#57106e"/><stop offset=".492" stop-color="#8f2469"/><stop offset=".503" stop-color="#a22b62"/><stop offset=".513" stop-color="#922568"/><stop offset=".533" stop-color="#520e6d"/><stop offset=".549" stop-color="#2f0a5b"/><stop offset=".569" stop-color="#160b39"/><stop offset=".59" stop-color="#0d0829"/><stop offset=".626" stop-color="#09061f"/><stop offset=".672" stop-color="#0b0724"/><stop offset=".703" stop-color="#120a32"/><stop offset=".744" stop-color="#360961"/><stop offset=".759" stop-color="#540f6d"/><stop offset=".769" stop-color="#741a6e"/><stop offset=".785" stop-color="#b73557"/><stop offset=".8" stop-color="#ee6a24"/><stop offset=".815" stop-color="#fa9008"/><stop offset=".831" stop-color="#fcaa0f"/><stop offset=".841" stop-color="#fbb81d"/><stop offset=".846" stop-color="#fcb216"/><stop offset=".856" stop-color="#f98e09"/><stop offset=".862" stop-color="#f1731d"/><stop offset=".877" stop-color="#b3325a"/><stop offset=".887" stop-color="#85216b"/><stop offset=".897" stop-color="#62146e"/><stop offset=".918" stop-color="#340a5f"/><stop offset=".938" stop-color="#1b0c41"/><stop offset=".969" stop-color="#0c0826"/><stop offset="1" stop-color="#07051b"/></linearGradient><linearGradient id="f53" href="#gv"><stop offset="0" stop-color="#000004"/><stop offset=".328" stop-color="#010108"/><stop offset=".39" stop-color="#030210"/><stop offset=".426" stop-color="#09061f"/><stop offset=".451" stop-color="#190c3e"/><stop offset=".462" stop-color="#290b55"/><stop offset=".477" stop-color="#520e6d"/><stop offset=".497" stop-color="#952667"/><stop offset=".508" stop-color="#a02a63"/><stop offset=".518" stop-color="#902568"/><stop offset=".538" stop-color="#520e6d"/><stop offset=".554" stop-color="#2f0a5b"/><stop offset=".569" stop-color="#1b0c41"/><stop offset=".585" stop-color="#110a30"/><stop offset=".621" stop-color="#0a0722"/><stop offset=".656" stop-color="#0a0722"/><stop offset=".697" stop-color="#110a30"/><stop offset=".718" stop-color="#1b0c41"/><stop offset=".738" stop-color="#320a5e"/><stop offset=".754" stop-color="#4f0d6c"/><stop offset=".764" stop-color="#6d186e"/><stop offset=".779" stop-color="#ae305c"/><stop offset=".795" stop-color="#e9612b"/><stop offset=".805" stop-color="#f37819"/><stop offset=".821" stop-color="#f78410"/><stop offset=".831" stop-color="#fb9706"/><stop offset=".841" stop-color="#fca60c"/><stop offset=".851" stop-color="#fb9706"/><stop offset=".862" stop-color="#ec6726"/><stop offset=".877" stop-color="#ad305d"/><stop offset=".892" stop-color="#6c186e"/><stop offset=".913" stop-color="#390963"/><stop offset=".933" stop-color="#1e0c45"/><stop offset=".969" stop-color="#0b0724"/><stop offset="1" stop-color="#060419"/></linearGradient><linearGradient id="f54" href="#gv"><stop offset="0" stop-color="#000004"/><stop offset=".328" stop-color="#010108"/><stop offset=".39" stop-color="#030210"/><stop offset=".431" stop-color="#0a0722"/><stop offset=".456" stop-color="#1e0c45"/><stop offset=".477" stop-color="#4a0c6b"/><stop offset=".508" stop-color="#a02a63"/><stop offset=".518" stop-color="#9b2964"/><stop offset=".544" stop-color="#520e6d"/><stop offset=".559" stop-color="#2f0a5b"/><stop offset=".579" stop-color="#180c3c"/><stop offset=".595" stop-color="#10092d"/><stop offset=".631" stop-color="#0a0722"/><stop offset=".687" stop-color="#0e092b"/><stop offset=".723" stop-color="#210c4a"/><stop offset=".738" stop-color="#360961"/><stop offset=".759" stop-color="#69166e"/><stop offset=".774" stop-color="#a82e5f"/><stop offset=".79" stop-color="#e45a31"/><stop offset=".8" stop-color="#f06f20"/><stop offset=".821" stop-color="#f1731d"/><stop offset=".841" stop-color="#fb9606"/><stop offset=".851" stop-color="#f98b0b"/><stop offset=".862" stop-color="#e75e2e"/><stop offset=".877" stop-color="#a52c60"/><stop offset=".892" stop-color="#67166e"/><stop offset=".913" stop-color="#360961"/><stop offset=".933" stop-color="#1b0c41"/><stop offset=".959" stop-color="#0d0829"/><stop offset="1" stop-color="#060419"/></linearGradient><linearGradient id="f55" href="#gv"><stop offset="0" stop-color="#000004"/><stop offset=".328" stop-color="#010108"/><stop offset=".426" stop-color="#08051d"/><stop offset=".456" stop-color="#190c3e"/><stop offset=".472" stop-color="#320a5e"/><stop offset=".487" stop-color="#5c126e"/><stop offset=".503" stop-color="#8c2369"/><stop offset=".513" stop-color="#a02a63"/><stop offset=".523" stop-color="#9b2964"/><stop offset=".549" stop-color="#520e6d"/><stop offset=".564" stop-color="#310a5c"/><stop offset=".579" stop-color="#1c0c43"/><stop offset=".595" stop-color="#120a32"/><stop offset=".631" stop-color="#0b0724"/><stop offset=".697" stop-color="#120a32"/><stop offset=".728" stop-color="#290b55"/><stop offset=".749" stop-color="#520e6d"/><stop offset=".759" stop-color="#741a6e"/><stop offset=".769" stop-color="#a22b62"/><stop offset=".779" stop-color="#d04545"/><stop offset=".79" stop-color="#eb6429"/><stop offset=".795" stop-color="#ee6a24"/><stop offset=".815" stop-color="#e9612b"/><stop offset=".841" stop-color="#f98e09"/><stop offset=".851" stop-color="#f8850f"/><stop offset=".862" stop-color="#e55c30"/><stop offset=".877" stop-color="#a22b62"/><stop offset=".892" stop-color="#64156e"/><stop offset=".913" stop-color="#320a5e"/><stop offset=".933" stop-color="#190c3e"/><stop offset=".959" stop-color="#0c0826"/><stop offset="1" stop-color="#050417"/></linearGradient><linearGradient id="f56" href="#gv"><stop offset="0" stop-color="#000004"/><stop offset=".333" stop-color="#010108"/><stop offset=".395" stop-color="#030210"/><stop offset=".436" stop-color="#0a0722"/><stop offset=".472" stop-color="#290b55"/><stop offset=".492" stop-color="#5c126e"/><stop offset=".508" stop-color="#8c2369"/><stop offset=".518" stop-color="#a02a63"/><stop offset=".528" stop-color="#9b2964"/><stop offset=".554" stop-color="#550f6d"/><stop offset=".574" stop-color="#290b55"/><stop offset=".59" stop-color="#190c3e"/><stop offset=".631" stop-color="#0c0826"/><stop offset=".662" stop-color="#0c0826"/><stop offset=".697" stop-color="#140b34"/><stop offset=".728" stop-color="#2f0a5b"/><stop offset=".744" stop-color="#4d0d6c"/><stop offset=".754" stop-color="#6d186e"/><stop offset=".764" stop-color="#9a2865"/><stop offset=".774" stop-color="#cb4149"/><stop offset=".785" stop-color="#e9612b"/><stop offset=".795" stop-color="#ed6925"/><stop offset=".815" stop-color="#e15635"/><stop offset=".841" stop-color="#f8870e"/><stop offset=".846" stop-color="#f8890c"/><stop offset=".851" stop-color="#f68013"/><stop offset=".862" stop-color="#e35933"/><stop offset=".872" stop-color="#b93556"/><stop offset=".882" stop-color="#88226a"/><stop offset=".897" stop-color="#540f6d"/><stop offset=".918" stop-color="#280b53"/><stop offset=".949" stop-color="#0e092b"/><stop offset="1" stop-color="#050417"/></linearGradient><linearGradient id="f57" href="#gv"><stop offset="0" stop-color="#000004"/><stop offset=".333" stop-color="#010108"/><stop offset=".436" stop-color="#09061f"/><stop offset=".467" stop-color="#1b0c41"/><stop offset=".492" stop-color="#4d0d6c"/><stop offset=".518" stop-color="#982766"/><stop offset=".528" stop-color="#a22b62"/><stop offset=".538" stop-color="#922568"/><stop offset=".559" stop-color="#57106e"/><stop offset=".579" stop-color="#2d0b59"/><stop offset=".595" stop-color="#1b0c41"/><stop offset=".631" stop-color="#0d0829"/><stop offset=".687" stop-color="#110a30"/><stop offset=".723" stop-color="#2b0b57"/><stop offset=".749" stop-color="#69166e"/><stop offset=".764" stop-color="#ad305d"/><stop offset=".774" stop-color="#d94d3d"/><stop offset=".779" stop-color="#e55c30"/><stop offset=".79" stop-color="#ea632a"/><stop offset=".805" stop-color="#d94d3d"/><stop offset=".815" stop-color="#d84c3e"/><stop offset=".846" stop-color="#f78410"/><stop offset=".862" stop-color="#e25734"/><stop offset=".872" stop-color="#b73557"/><stop offset=".882" stop-color="#87216b"/><stop offset=".897" stop-color="#520e6d"/><stop offset=".918" stop-color="#280b53"/><stop offset=".954" stop-color="#0c0826"/><stop offset="1" stop-color="#040314"/></linearGradient><linearGradient id="f58" href="#gv"><stop offset="0" stop-color="#000004"/><stop offset=".338" stop-color="#010108"/><stop offset=".441" stop-color="#09061f"/><stop offset=".472" stop-color="#1b0c41"/><stop offset=".497" stop-color="#4c0c6b"/><stop offset=".523" stop-color="#972766"/><stop offset=".533" stop-color="#a22b62"/><stop offset=".544" stop-color="#952667"/><stop offset=".564" stop-color="#5c126e"/><stop offset=".579" stop-color="#380962"/><stop offset=".595" stop-color="#210c4a"/><stop offset=".636" stop-color="#0e092b"/><stop offset=".687" stop-color="#120a32"/><stop offset=".723" stop-color="#310a5c"/><stop offset=".744" stop-color="#64156e"/><stop offset=".759" stop-color="#a62d60"/><stop offset=".769" stop-color="#d44842"/><stop offset=".774" stop-color="#e15635"/><stop offset=".785" stop-color="#e65d2f"/><stop offset=".8" stop-color="#d04545"/><stop offset=".815" stop-color="#cc4248"/><stop offset=".836" stop-color="#ef6e21"/><stop offset=".846" stop-color="#f57d15"/><stop offset=".851" stop-color="#f37819"/><stop offset=".862" stop-color="#e05536"/><stop offset=".872" stop-color="#b43359"/><stop offset=".882" stop-color="#85216b"/><stop offset=".897" stop-color="#510e6c"/><stop offset=".918" stop-color="#260c51"/><stop offset=".949" stop-color="#0d0829"/><stop offset="1" stop-color="#040314"/></linearGradient><linearGradient id="f59" href="#gv"><stop offset="0" stop-color="#000004"/><stop offset=".338" stop-color="#010108"/><stop offset=".446" stop-color="#09061f"/><stop offset=".482" stop-color="#210c4a"/><stop offset=".497" stop-color="#3e0966"/><stop offset=".508" stop-color="#59106e"/><stop offset=".528" stop-color="#932667"/><stop offset=".538" stop-color="#a22b62"/><stop offset=".549" stop-color="#982766"/><stop offset=".574" stop-color="#520e6d"/><stop offset=".6" stop-color="#230c4c"/><stop offset=".636" stop-color="#10092d"/><stop offset=".687" stop-color="#140b34"/><stop offset=".713" stop-color="#260c51"/><stop offset=".738" stop-color="#5f136e"/><stop offset=".754" stop-color="#a02a63"/><stop offset=".769" stop-color="#de5238"/><stop offset=".779" stop-color="#e45a31"/><stop offset=".795" stop-color="#ca404a"/><stop offset=".81" stop-color="#bc3754"/><stop offset=".821" stop-color="#cb4149"/><stop offset=".836" stop-color="#eb6628"/><stop offset=".846" stop-color="#f37819"/><stop offset=".856" stop-color="#eb6429"/><stop offset=".862" stop-color="#dd513a"/><stop offset=".872" stop-color="#b1325a"/><stop offset=".882" stop-color="#82206c"/><stop offset=".897" stop-color="#4f0d6c"/><stop offset=".913" stop-color="#2d0b59"/><stop offset=".949" stop-color="#0d0829"/><stop offset="1" stop-color="#040312"/></linearGradient><linearGradient id="f60" href="#gv"><stop offset="0" stop-color="#000004"/><stop offset=".344" stop-color="#010108"/><stop offset=".451" stop-color="#09061f"/><stop offset=".472" stop-color="#120a32"/><stop offset=".492" stop-color="#280b53"/><stop offset=".513" stop-color="#550f6d"/><stop offset=".533" stop-color="#902568"/><stop offset=".544" stop-color="#a22b62"/><stop offset=".554" stop-color="#9a2865"/><stop offset=".579" stop-color="#550f6d"/><stop offset=".605" stop-color="#240c4f"/><stop offset=".641" stop-color="#110a30"/><stop offset=".687" stop-color="#150b37"/><stop offset=".713" stop-color="#2b0b57"/><stop offset=".723" stop-color="#3e0966"/><stop offset=".738" stop-color="#6c186e"/><stop offset=".749" stop-color="#9a2865"/><stop offset=".759" stop-color="#ca404a"/><stop offset=".769" stop-color="#e25734"/><stop offset=".779" stop-color="#de5238"/><stop offset=".795" stop-color="#ba3655"/><stop offset=".805" stop-color="#ae305c"/><stop offset=".821" stop-color="#c13a50"/><stop offset=".836" stop-color="#e8602d"/><stop offset=".846" stop-color="#f1711f"/><stop offset=".851" stop-color="#ef6e21"/><stop offset=".862" stop-color="#da4e3c"/><stop offset=".872" stop-color="#b0315b"/><stop offset=".882" stop-color="#801f6c"/><stop offset=".897" stop-color="#4d0d6c"/><stop offset=".918" stop-color="#240c4f"/><stop offset=".954" stop-color="#0b0724"/><stop offset="1" stop-color="#040312"/></linearGradient><linearGradient id="f61" href="#gv"><stop offset="0" stop-color="#000004"/><stop offset=".349" stop-color="#010108"/><stop offset=".456" stop-color="#09061f"/><stop offset=".487" stop-color="#190c3e"/><stop offset=".503" stop-color="#2f0a5b"/><stop offset=".518" stop-color="#520e6d"/><stop offset=".544" stop-color="#9a2865"/><stop offset=".554" stop-color="#a22b62"/><stop offset=".564" stop-color="#922568"/><stop offset=".585" stop-color="#59106e"/><stop offset=".61" stop-color="#260c51"/><stop offset=".646" stop-color="#120a32"/><stop offset=".687" stop-color="#160b39"/><stop offset=".718" stop-color="#390963"/><stop offset=".733" stop-color="#65156e"/><stop offset=".744" stop-color="#902568"/><stop offset=".754" stop-color="#c33b4f"/><stop offset=".764" stop-color="#e05536"/><stop offset=".774" stop-color="#de5238"/><stop offset=".795" stop-color="#a92e5e"/><stop offset=".805" stop-color="#a22b62"/><stop offset=".821" stop-color="#ba3655"/><stop offset=".836" stop-color="#e45a31"/><stop offset=".846" stop-color="#ef6c23"/><stop offset=".851" stop-color="#ed6925"/><stop offset=".862" stop-color="#d84c3e"/><stop offset=".872" stop-color="#ad305d"/><stop offset=".882" stop-color="#7f1e6c"/><stop offset=".897" stop-color="#4c0c6b"/><stop offset=".918" stop-color="#230c4c"/><stop offset=".949" stop-color="#0c0826"/><stop offset="1" stop-color="#040312"/></linearGradient><linearGradient id="f62" href="#gv"><stop offset="0" stop-color="#000004"/><stop offset=".354" stop-color="#010108"/><stop offset=".431" stop-color="#040312"/><stop offset=".467" stop-color="#0a0722"/><stop offset=".497" stop-color="#1e0c45"/><stop offset=".523" stop-color="#4f0d6c"/><stop offset=".549" stop-color="#972766"/><stop offset=".559" stop-color="#a22b62"/><stop offset=".569" stop-color="#952667"/><stop offset=".59" stop-color="#5c126e"/><stop offset=".615" stop-color="#280b53"/><stop offset=".651" stop-color="#140b34"/><stop offset=".682" stop-color="#160b39"/><stop offset=".708" stop-color="#2d0b59"/><stop offset=".728" stop-color="#5d126e"/><stop offset=".744" stop-color="#9f2a63"/><stop offset=".754" stop-color="#ce4347"/><stop offset=".759" stop-color="#db503b"/><stop offset=".769" stop-color="#de5238"/><stop offset=".795" stop-color="#9b2964"/><stop offset=".805" stop-color="#972766"/><stop offset=".821" stop-color="#b3325a"/><stop offset=".836" stop-color="#e05536"/><stop offset=".846" stop-color="#ec6726"/><stop offset=".851" stop-color="#eb6429"/><stop offset=".862" stop-color="#d54a41"/><stop offset=".872" stop-color="#a92e5e"/><stop offset=".882" stop-color="#7c1d6d"/><stop offset=".897" stop-color="#4a0c6b"/><stop offset=".913" stop-color="#290b55"/><stop offset=".949" stop-color="#0c0826"/><stop offset="1" stop-color="#040312"/></linearGradient><linearGradient id="f63" href="#gv"><stop offset="0" stop-color="#000004"/><stop offset=".359" stop-color="#010108"/><stop offset=".462" stop-color="#07051b"/><stop offset=".487" stop-color="#10092d"/><stop offset=".508" stop-color="#230c4c"/><stop offset=".533" stop-color="#59106e"/><stop offset=".554" stop-color="#952667"/><stop offset=".564" stop-color="#a22b62"/><stop offset=".574" stop-color="#982766"/><stop offset=".595" stop-color="#5f136e"/><stop offset=".61" stop-color="#3b0964"/><stop offset=".626" stop-color="#240c4f"/><stop offset=".656" stop-color="#150b37"/><stop offset=".677" stop-color="#160b39"/><stop offset=".708" stop-color="#310a5c"/><stop offset=".728" stop-color="#65156e"/><stop offset=".738" stop-color="#922568"/><stop offset=".749" stop-color="#c43c4e"/><stop offset=".759" stop-color="#de5238"/><stop offset=".769" stop-color="#d54a41"/><stop offset=".79" stop-color="#982766"/><stop offset=".8" stop-color="#8c2369"/><stop offset=".81" stop-color="#932667"/><stop offset=".821" stop-color="#ad305d"/><stop offset=".836" stop-color="#db503b"/><stop offset=".846" stop-color="#ea632a"/><stop offset=".851" stop-color="#e9612b"/><stop offset=".862" stop-color="#d34743"/><stop offset=".872" stop-color="#a62d60"/><stop offset=".882" stop-color="#7a1d6d"/><stop offset=".897" stop-color="#490b6a"/><stop offset=".913" stop-color="#280b53"/><stop offset=".944" stop-color="#0d0829"/><stop offset="1" stop-color="#030210"/></linearGradient><linearGradient id="f64" href="#gv"><stop offset="0" stop-color="#000004"/><stop offset=".364" stop-color="#010108"/><stop offset=".472" stop-color="#08051d"/><stop offset=".497" stop-color="#120a32"/><stop offset=".518" stop-color="#280b53"/><stop offset=".538" stop-color="#57106e"/><stop offset=".559" stop-color="#932667"/><stop offset=".569" stop-color="#a22b62"/><stop offset=".585" stop-color="#8f2469"/><stop offset=".605" stop-color="#540f6d"/><stop offset=".631" stop-color="#260c51"/><stop offset=".646" stop-color="#1b0c41"/><stop offset=".672" stop-color="#180c3c"/><stop offset=".697" stop-color="#260c51"/><stop offset=".713" stop-color="#400a67"/><stop offset=".723" stop-color="#5c126e"/><stop offset=".733" stop-color="#85216b"/><stop offset=".744" stop-color="#b93556"/><stop offset=".754" stop-color="#da4e3c"/><stop offset=".764" stop-color="#d84c3e"/><stop offset=".785" stop-color="#972766"/><stop offset=".8" stop-color="#82206c"/><stop offset=".81" stop-color="#8c2369"/><stop offset=".821" stop-color="#a62d60"/><stop offset=".836" stop-color="#d84c3e"/><stop offset=".846" stop-color="#e75e2e"/><stop offset=".851" stop-color="#e65d2f"/><stop offset=".862" stop-color="#d04545"/><stop offset=".872" stop-color="#a52c60"/><stop offset=".882" stop-color="#771c6d"/><stop offset=".897" stop-color="#470b6a"/><stop offset=".918" stop-color="#1f0c48"/><stop offset=".949" stop-color="#0b0724"/><stop offset="1" stop-color="#030210"/></linearGradient><linearGradient id="f65" href="#gv"><stop offset="0" stop-color="#000004"/><stop offset=".369" stop-color="#010108"/><stop offset=".482" stop-color="#09061f"/><stop offset=".508" stop-color="#150b37"/><stop offset=".523" stop-color="#280b53"/><stop offset=".544" stop-color="#540f6d"/><stop offset=".564" stop-color="#902568"/><stop offset=".574" stop-color="#a22b62"/><stop offset=".585" stop-color="#9b2964"/><stop offset=".61" stop-color="#57106e"/><stop offset=".636" stop-color="#280b53"/><stop offset=".656" stop-color="#1b0c41"/><stop offset=".677" stop-color="#1b0c41"/><stop offset=".703" stop-color="#310a5c"/><stop offset=".723" stop-color="#64156e"/><stop offset=".733" stop-color="#902568"/><stop offset=".744" stop-color="#c13a50"/><stop offset=".754" stop-color="#db503b"/><stop offset=".764" stop-color="#d04545"/><stop offset=".785" stop-color="#8c2369"/><stop offset=".8" stop-color="#7c1d6d"/><stop offset=".81" stop-color="#85216b"/><stop offset=".821" stop-color="#a02a63"/><stop offset=".836" stop-color="#d44842"/><stop offset=".846" stop-color="#e55c30"/><stop offset=".856" stop-color="#dd513a"/><stop offset=".862" stop-color="#ce4347"/><stop offset=".872" stop-color="#a22b62"/><stop offset=".882" stop-color="#751b6e"/><stop offset=".897" stop-color="#450a69"/><stop offset=".913" stop-color="#260c51"/><stop offset=".928" stop-color="#150b37"/><stop offset=".949" stop-color="#0b0724"/><stop offset="1" stop-color="#030210"/></linearGradient><linearGradient id="f66" href="#gv"><stop offset="0" stop-color="#000004"/><stop offset=".374" stop-color="#010108"/><stop offset=".446" stop-color="#030210"/><stop offset=".487" stop-color="#09061f"/><stop offset=".523" stop-color="#1e0c45"/><stop offset=".549" stop-color="#510e6c"/><stop offset=".569" stop-color="#8f2469"/><stop offset=".585" stop-color="#a32c61"/><stop offset=".595" stop-color="#932667"/><stop offset=".61" stop-color="#67166e"/><stop offset=".631" stop-color="#380962"/><stop offset=".646" stop-color="#240c4f"/><stop offset=".672" stop-color="#1c0c43"/><stop offset=".692" stop-color="#260c51"/><stop offset=".713" stop-color="#4a0c6b"/><stop offset=".728" stop-color="#801f6c"/><stop offset=".744" stop-color="#c83f4b"/><stop offset=".749" stop-color="#d74b3f"/><stop offset=".759" stop-color="#d74b3f"/><stop offset=".774" stop-color="#a22b62"/><stop offset=".785" stop-color="#82206c"/><stop offset=".8" stop-color="#751b6e"/><stop offset=".81" stop-color="#801f6c"/><stop offset=".821" stop-color="#9b2964"/><stop offset=".836" stop-color="#d24644"/><stop offset=".846" stop-color="#e25734"/><stop offset=".851" stop-color="#e25734"/><stop offset=".862" stop-color="#cb4149"/><stop offset=".872" stop-color="#9f2a63"/><stop offset=".882" stop-color="#721a6e"/><stop offset=".897" stop-color="#440a68"/><stop offset=".913" stop-color="#240c4f"/><stop offset=".944" stop-color="#0c0826"/><stop offset="1" stop-color="#030210"/></linearGradient><linearGradient id="f67" href="#gv"><stop offset="0" stop-color="#000004"/><stop offset=".379" stop-color="#010108"/><stop offset=".462" stop-color="#040312"/><stop offset=".497" stop-color="#0a0722"/><stop offset=".528" stop-color="#1e0c45"/><stop offset=".554" stop-color="#4f0d6c"/><stop offset=".579" stop-color="#982766"/><stop offset=".59" stop-color="#a32c61"/><stop offset=".6" stop-color="#952667"/><stop offset=".615" stop-color="#69166e"/><stop offset=".641" stop-color="#310a5c"/><stop offset=".656" stop-color="#230c4c"/><stop offset=".677" stop-color="#1f0c48"/><stop offset=".697" stop-color="#2f0a5b"/><stop offset=".713" stop-color="#4d0d6c"/><stop offset=".728" stop-color="#87216b"/><stop offset=".744" stop-color="#ce4347"/><stop offset=".749" stop-color="#d94d3d"/><stop offset=".759" stop-color="#d24644"/><stop offset=".779" stop-color="#88226a"/><stop offset=".795" stop-color="#6f196e"/><stop offset=".81" stop-color="#7c1d6d"/><stop offset=".826" stop-color="#a92e5e"/><stop offset=".836" stop-color="#ce4347"/><stop offset=".846" stop-color="#e05536"/><stop offset=".856" stop-color="#d84c3e"/><stop offset=".862" stop-color="#c83f4b"/><stop offset=".872" stop-color="#9d2964"/><stop offset=".882" stop-color="#71196e"/><stop offset=".897" stop-color="#420a68"/><stop offset=".918" stop-color="#1c0c43"/><stop offset=".949" stop-color="#0a0722"/><stop offset="1" stop-color="#030210"/></linearGradient><linearGradient id="f68" href="#gv"><stop offset="0" stop-color="#000004"/><stop offset=".385" stop-color="#010108"/><stop offset=".492" stop-color="#07051b"/><stop offset=".518" stop-color="#10092d"/><stop offset=".538" stop-color="#230c4c"/><stop offset=".564" stop-color="#5a116e"/><stop offset=".585" stop-color="#982766"/><stop offset=".595" stop-color="#a32c61"/><stop offset=".605" stop-color="#972766"/><stop offset=".621" stop-color="#69166e"/><stop offset=".641" stop-color="#390963"/><stop offset=".662" stop-color="#240c4f"/><stop offset=".677" stop-color="#230c4c"/><stop offset=".692" stop-color="#2b0b57"/><stop offset=".708" stop-color="#450a69"/><stop offset=".718" stop-color="#62146e"/><stop offset=".728" stop-color="#8d2369"/><stop offset=".738" stop-color="#bf3952"/><stop offset=".749" stop-color="#d94d3d"/><stop offset=".759" stop-color="#ce4347"/><stop offset=".774" stop-color="#922568"/><stop offset=".785" stop-color="#751b6e"/><stop offset=".8" stop-color="#6c186e"/><stop offset=".81" stop-color="#781c6d"/><stop offset=".821" stop-color="#932667"/><stop offset=".836" stop-color="#cb4149"/><stop offset=".846" stop-color="#de5238"/><stop offset=".856" stop-color="#d54a41"/><stop offset=".872" stop-color="#9a2865"/><stop offset=".882" stop-color="#6f196e"/><stop offset=".897" stop-color="#400a67"/><stop offset=".913" stop-color="#230c4c"/><stop offset=".944" stop-color="#0b0724"/><stop offset="1" stop-color="#030210"/></linearGradient><linearGradient id="f69" href="#gv"><stop offset="0" stop-color="#000004"/><stop offset=".39" stop-color="#010108"/><stop offset=".503" stop-color="#08051d"/><stop offset=".533" stop-color="#160b39"/><stop offset=".549" stop-color="#290b55"/><stop offset=".569" stop-color="#59106e"/><stop offset=".59" stop-color="#982766"/><stop offset=".6" stop-color="#a52c60"/><stop offset=".61" stop-color="#952667"/><stop offset=".626" stop-color="#67166e"/><stop offset=".646" stop-color="#380962"/><stop offset=".677" stop-color="#240c4f"/><stop offset=".692" stop-color="#2d0b59"/><stop offset=".708" stop-color="#470b6a"/><stop offset=".728" stop-color="#902568"/><stop offset=".738" stop-color="#c33b4f"/><stop offset=".749" stop-color="#d94d3d"/><stop offset=".759" stop-color="#ca404a"/><stop offset=".774" stop-color="#8d2369"/><stop offset=".785" stop-color="#721a6e"/><stop offset=".795" stop-color="#67166e"/><stop offset=".81" stop-color="#751b6e"/><stop offset=".821" stop-color="#902568"/><stop offset=".836" stop-color="#c83f4b"/><stop offset=".846" stop-color="#db503b"/><stop offset=".856" stop-color="#d34743"/><stop offset=".872" stop-color="#972766"/><stop offset=".882" stop-color="#6c186e"/><stop offset=".897" stop-color="#3e0966"/><stop offset=".913" stop-color="#210c4a"/><stop offset=".944" stop-color="#0b0724"/><stop offset="1" stop-color="#02020e"/></linearGradient><linearGradient id="f70" href="#gv"><stop offset="0" stop-color="#000004"/><stop offset=".395" stop-color="#010108"/><stop offset=".508" stop-color="#08051d"/><stop offset=".533" stop-color="#120a32"/><stop offset=".549" stop-color="#210c4a"/><stop offset=".574" stop-color="#5a116e"/><stop offset=".595" stop-color="#9a2865"/><stop offset=".605" stop-color="#a52c60"/><stop offset=".626" stop-color="#721a6e"/><stop offset=".646" stop-color="#3e0966"/><stop offset=".656" stop-color="#2f0a5b"/><stop offset=".677" stop-color="#260c51"/><stop offset=".692" stop-color="#2f0a5b"/><stop offset=".708" stop-color="#490b6a"/><stop offset=".723" stop-color="#7c1d6d"/><stop offset=".738" stop-color="#c43c4e"/><stop offset=".749" stop-color="#d94d3d"/><stop offset=".759" stop-color="#c63d4d"/><stop offset=".769" stop-color="#9b2964"/><stop offset=".779" stop-color="#781c6d"/><stop offset=".795" stop-color="#65156e"/><stop offset=".81" stop-color="#721a6e"/><stop offset=".826" stop-color="#a02a63"/><stop offset=".841" stop-color="#d34743"/><stop offset=".851" stop-color="#d94d3d"/><stop offset=".862" stop-color="#c13a50"/><stop offset=".872" stop-color="#952667"/><stop offset=".882" stop-color="#6a176e"/><stop offset=".897" stop-color="#3d0965"/><stop offset=".913" stop-color="#1f0c48"/><stop offset=".949" stop-color="#09061f"/><stop offset="1" stop-color="#02020e"/></linearGradient><linearGradient id="f71" href="#gv"><stop offset="0" stop-color="#000004"/><stop offset=".405" stop-color="#010108"/><stop offset=".518" stop-color="#09061f"/><stop offset=".538" stop-color="#120a32"/><stop offset=".559" stop-color="#290b55"/><stop offset=".579" stop-color="#5d126e"/><stop offset=".595" stop-color="#902568"/><stop offset=".605" stop-color="#a52c60"/><stop offset=".615" stop-color="#9a2865"/><stop offset=".631" stop-color="#6a176e"/><stop offset=".646" stop-color="#420a68"/><stop offset=".662" stop-color="#2d0b59"/><stop offset=".677" stop-color="#280b53"/><stop offset=".697" stop-color="#360961"/><stop offset=".708" stop-color="#4a0c6b"/><stop offset=".723" stop-color="#7f1e6c"/><stop offset=".738" stop-color="#c63d4d"/><stop offset=".749" stop-color="#d84c3e"/><stop offset=".759" stop-color="#c43c4e"/><stop offset=".769" stop-color="#982766"/><stop offset=".779" stop-color="#771c6d"/><stop offset=".795" stop-color="#62146e"/><stop offset=".81" stop-color="#71196e"/><stop offset=".826" stop-color="#9d2964"/><stop offset=".841" stop-color="#d04545"/><stop offset=".851" stop-color="#d74b3f"/><stop offset=".862" stop-color="#bf3952"/><stop offset=".872" stop-color="#922568"/><stop offset=".882" stop-color="#69166e"/><stop offset=".892" stop-color="#490b6a"/><stop offset=".908" stop-color="#260c51"/><stop offset=".944" stop-color="#0a0722"/><stop offset="1" stop-color="#02020e"/></linearGradient><linearGradient id="f72" href="#gv"><stop offset="0" stop-color="#000004"/><stop offset=".41" stop-color="#010108"/><stop offset=".523" stop-color="#09061f"/><stop offset=".544" stop-color="#120a32"/><stop offset=".559" stop-color="#230c4c"/><stop offset=".579" stop-color="#550f6d"/><stop offset=".6" stop-color="#9a2865"/><stop offset=".61" stop-color="#a52c60"/><stop offset=".631" stop-color="#6f196e"/><stop offset=".651" stop-color="#3b0964"/><stop offset=".677" stop-color="#280b53"/><stop offset=".692" stop-color="#310a5c"/><stop offset=".708" stop-color="#4a0c6b"/><stop offset=".723" stop-color="#7f1e6c"/><stop offset=".738" stop-color="#c73e4c"/><stop offset=".749" stop-color="#d84c3e"/><stop offset=".759" stop-color="#c13a50"/><stop offset=".769" stop-color="#972766"/><stop offset=".779" stop-color="#741a6e"/><stop offset=".795" stop-color="#61136e"/><stop offset=".81" stop-color="#6f196e"/><stop offset=".826" stop-color="#9b2964"/><stop offset=".841" stop-color="#ce4347"/><stop offset=".851" stop-color="#d44842"/><stop offset=".862" stop-color="#bc3754"/><stop offset=".872" stop-color="#902568"/><stop offset=".882" stop-color="#67166e"/><stop offset=".897" stop-color="#390963"/><stop offset=".913" stop-color="#1e0c45"/><stop offset=".954" stop-color="#07051b"/><stop offset="1" stop-color="#02020e"/></linearGradient><linearGradient id="f73" href="#gv"><stop offset="0" stop-color="#000004"/><stop offset=".415" stop-color="#010108"/><stop offset=".523" stop-color="#08051d"/><stop offset=".544" stop-color="#110a30"/><stop offset=".559" stop-color="#210c4a"/><stop offset=".579" stop-color="#520e6d"/><stop offset=".6" stop-color="#982766"/><stop offset=".61" stop-color="#a52c60"/><stop offset=".615" stop-color="#9f2a63"/><stop offset=".631" stop-color="#6f196e"/><stop offset=".651" stop-color="#3b0964"/><stop offset=".677" stop-color="#280b53"/><stop offset=".692" stop-color="#310a5c"/><stop offset=".708" stop-color="#4a0c6b"/><stop offset=".723" stop-color="#7f1e6c"/><stop offset=".738" stop-color="#c73e4c"/><stop offset=".749" stop-color="#d74b3f"/><stop offset=".759" stop-color="#c03a51"/><stop offset=".769" stop-color="#952667"/><stop offset=".779" stop-color="#741a6e"/><stop offset=".795" stop-color="#61136e"/><stop offset=".81" stop-color="#6d186e"/><stop offset=".826" stop-color="#9a2865"/><stop offset=".841" stop-color="#ce4347"/><stop offset=".851" stop-color="#d44842"/><stop offset=".862" stop-color="#bc3754"/><stop offset=".872" stop-color="#902568"/><stop offset=".882" stop-color="#65156e"/><stop offset=".897" stop-color="#390963"/><stop offset=".913" stop-color="#1e0c45"/><stop offset=".954" stop-color="#07051b"/><stop offset="1" stop-color="#02020e"/></linearGradient><linearGradient id="f74" href="#gv"><stop offset="0" stop-color="#000004"/><stop offset=".421" stop-color="#010108"/><stop offset=".513" stop-color="#060419"/><stop offset=".544" stop-color="#120a32"/><stop offset=".564" stop-color="#2d0b59"/><stop offset=".585" stop-color="#67166e"/><stop offset=".605" stop-color="#a32c61"/><stop offset=".615" stop-color="#9b2964"/><stop offset=".631" stop-color="#6d186e"/><stop offset=".646" stop-color="#440a68"/><stop offset=".662" stop-color="#2d0b59"/><stop offset=".677" stop-color="#280b53"/><stop offset=".697" stop-color="#360961"/><stop offset=".708" stop-color="#4a0c6b"/><stop offset=".723" stop-color="#7f1e6c"/><stop offset=".738" stop-color="#c63d4d"/><stop offset=".749" stop-color="#d74b3f"/><stop offset=".759" stop-color="#c03a51"/><stop offset=".769" stop-color="#952667"/><stop offset=".779" stop-color="#741a6e"/><stop offset=".795" stop-color="#5f136e"/><stop offset=".81" stop-color="#6d186e"/><stop offset=".826" stop-color="#9a2865"/><stop offset=".841" stop-color="#ce4347"/><stop offset=".851" stop-color="#d44842"/><stop offset=".862" stop-color="#bc3754"/><stop offset=".872" stop-color="#902568"/><stop offset=".882" stop-color="#65156e"/><stop offset=".892" stop-color="#470b6a"/><stop offset=".908" stop-color="#240c4f"/><stop offset=".923" stop-color="#140b34"/><stop offset=".949" stop-color="#08051d"/><stop offset="1" stop-color="#02020e"/></linearGradient><linearGradient id="f75" href="#gv"><stop offset="0" stop-color="#000004"/><stop offset=".415" stop-color="#010108"/><stop offset=".518" stop-color="#08051d"/><stop offset=".538" stop-color="#110a30"/><stop offset=".559" stop-color="#280b53"/><stop offset=".579" stop-color="#5d126e"/><stop offset=".595" stop-color="#922568"/><stop offset=".605" stop-color="#a32c61"/><stop offset=".615" stop-color="#982766"/><stop offset=".631" stop-color="#67166e"/><stop offset=".646" stop-color="#400a67"/><stop offset=".662" stop-color="#2b0b57"/><stop offset=".677" stop-color="#260c51"/><stop offset=".692" stop-color="#2f0a5b"/><stop offset=".708" stop-color="#4a0c6b"/><stop offset=".723" stop-color="#7d1e6d"/><stop offset=".738" stop-color="#c43c4e"/><stop offset=".749" stop-color="#d54a41"/><stop offset=".759" stop-color="#c03a51"/><stop offset=".769" stop-color="#952667"/><stop offset=".779" stop-color="#741a6e"/><stop offset=".795" stop-color="#5f136e"/><stop offset=".81" stop-color="#6d186e"/><stop offset=".826" stop-color="#9a2865"/><stop offset=".841" stop-color="#ce4347"/><stop offset=".851" stop-color="#d34743"/><stop offset=".862" stop-color="#bc3754"/><stop offset=".872" stop-color="#8f2469"/><stop offset=".882" stop-color="#65156e"/><stop offset=".897" stop-color="#390963"/><stop offset=".908" stop-color="#240c4f"/><stop offset=".938" stop-color="#0b0724"/><stop offset="1" stop-color="#02020e"/></linearGradient><linearGradient id="f76" href="#gv"><stop offset="0" stop-color="#000004"/><stop offset=".415" stop-color="#010108"/><stop offset=".518" stop-color="#09061f"/><stop offset=".549" stop-color="#1c0c43"/><stop offset=".559" stop-color="#2d0b59"/><stop offset=".579" stop-color="#65156e"/><stop offset=".595" stop-color="#982766"/><stop offset=".605" stop-color="#a32c61"/><stop offset=".615" stop-color="#922568"/><stop offset=".631" stop-color="#61136e"/><stop offset=".651" stop-color="#340a5f"/><stop offset=".667" stop-color="#260c51"/><stop offset=".682" stop-color="#260c51"/><stop offset=".703" stop-color="#3d0965"/><stop offset=".718" stop-color="#67166e"/><stop offset=".728" stop-color="#932667"/><stop offset=".738" stop-color="#c33b4f"/><stop offset=".749" stop-color="#d54a41"/><stop offset=".759" stop-color="#c03a51"/><stop offset=".769" stop-color="#952667"/><stop offset=".779" stop-color="#741a6e"/><stop offset=".795" stop-color="#61136e"/><stop offset=".81" stop-color="#6d186e"/><stop offset=".826" stop-color="#9a2865"/><stop offset=".836" stop-color="#c03a51"/><stop offset=".846" stop-color="#d44842"/><stop offset=".851" stop-color="#d34743"/><stop offset=".862" stop-color="#ba3655"/><stop offset=".872" stop-color="#8f2469"/><stop offset=".882" stop-color="#65156e"/><stop offset=".897" stop-color="#390963"/><stop offset=".908" stop-color="#240c4f"/><stop offset=".938" stop-color="#0b0724"/><stop offset="1" stop-color="#02020e"/></linearGradient><linearGradient id="f77" href="#gv"><stop offset="0" stop-color="#000004"/><stop offset=".379" stop-color="#010106"/><stop offset=".456" stop-color="#02020c"/><stop offset=".508" stop-color="#07051b"/><stop offset=".538" stop-color="#150b37"/><stop offset=".554" stop-color="#290b55"/><stop offset=".574" stop-color="#5f136e"/><stop offset=".59" stop-color="#922568"/><stop offset=".6" stop-color="#a32c61"/><stop offset=".61" stop-color="#972766"/><stop offset=".626" stop-color="#67166e"/><stop offset=".646" stop-color="#380962"/><stop offset=".662" stop-color="#260c51"/><stop offset=".682" stop-color="#240c4f"/><stop offset=".703" stop-color="#3b0964"/><stop offset=".718" stop-color="#65156e"/><stop offset=".728" stop-color="#922568"/><stop offset=".738" stop-color="#c13a50"/><stop offset=".749" stop-color="#d44842"/><stop offset=".759" stop-color="#c03a51"/><stop offset=".769" stop-color="#972766"/><stop offset=".779" stop-color="#741a6e"/><stop offset=".795" stop-color="#61136e"/><stop offset=".81" stop-color="#6d186e"/><stop offset=".826" stop-color="#9a2865"/><stop offset=".841" stop-color="#cc4248"/><stop offset=".851" stop-color="#d34743"/><stop offset=".862" stop-color="#ba3655"/><stop offset=".872" stop-color="#8f2469"/><stop offset=".882" stop-color="#65156e"/><stop offset=".897" stop-color="#390963"/><stop offset=".908" stop-color="#240c4f"/><stop offset=".938" stop-color="#0b0724"/><stop offset="1" stop-color="#02020e"/></linearGradient><linearGradient id="f78" href="#gv"><stop offset="0" stop-color="#000004"/><stop offset=".415" stop-color="#010108"/><stop offset=".508" stop-color="#08051d"/><stop offset=".533" stop-color="#140b34"/><stop offset=".549" stop-color="#260c51"/><stop offset=".569" stop-color="#5a116e"/><stop offset=".585" stop-color="#8d2369"/><stop offset=".595" stop-color="#a22b62"/><stop offset=".605" stop-color="#9b2964"/><stop offset=".626" stop-color="#5d126e"/><stop offset=".641" stop-color="#390963"/><stop offset=".656" stop-color="#260c51"/><stop offset=".677" stop-color="#210c4a"/><stop offset=".697" stop-color="#320a5e"/><stop offset=".718" stop-color="#64156e"/><stop offset=".728" stop-color="#8f2469"/><stop offset=".738" stop-color="#bf3952"/><stop offset=".749" stop-color="#d44842"/><stop offset=".759" stop-color="#c13a50"/><stop offset=".769" stop-color="#982766"/><stop offset=".779" stop-color="#751b6e"/><stop offset=".795" stop-color="#61136e"/><stop offset=".81" stop-color="#6d186e"/><stop offset=".826" stop-color="#9a2865"/><stop offset=".841" stop-color="#cc4248"/><stop offset=".851" stop-color="#d24644"/><stop offset=".862" stop-color="#b93556"/><stop offset=".872" stop-color="#8d2369"/><stop offset=".882" stop-color="#64156e"/><stop offset=".892" stop-color="#450a69"/><stop offset=".908" stop-color="#240c4f"/><stop offset=".938" stop-color="#0b0724"/><stop offset="1" stop-color="#02020e"/></linearGradient><linearGradient id="f79" href="#gv"><stop offset="0" stop-color="#000004"/><stop offset=".379" stop-color="#010106"/><stop offset=".503" stop-color="#07051b"/><stop offset=".528" stop-color="#120a32"/><stop offset=".544" stop-color="#240c4f"/><stop offset=".564" stop-color="#540f6d"/><stop offset=".585" stop-color="#972766"/><stop offset=".595" stop-color="#a22b62"/><stop offset=".605" stop-color="#922568"/><stop offset=".621" stop-color="#62146e"/><stop offset=".641" stop-color="#340a5f"/><stop offset=".656" stop-color="#230c4c"/><stop offset=".677" stop-color="#1f0c48"/><stop offset=".697" stop-color="#310a5c"/><stop offset=".718" stop-color="#61136e"/><stop offset=".728" stop-color="#8c2369"/><stop offset=".738" stop-color="#bd3853"/><stop offset=".749" stop-color="#d34743"/><stop offset=".759" stop-color="#c13a50"/><stop offset=".769" stop-color="#982766"/><stop offset=".779" stop-color="#751b6e"/><stop offset=".795" stop-color="#61136e"/><stop offset=".81" stop-color="#6f196e"/><stop offset=".826" stop-color="#9a2865"/><stop offset=".841" stop-color="#cc4248"/><stop offset=".851" stop-color="#d24644"/><stop offset=".862" stop-color="#b93556"/><stop offset=".872" stop-color="#8d2369"/><stop offset=".882" stop-color="#64156e"/><stop offset=".892" stop-color="#450a69"/><stop offset=".908" stop-color="#240c4f"/><stop offset=".938" stop-color="#0b0724"/><stop offset="1" stop-color="#02020e"/></linearGradient><linearGradient id="f80" href="#gv"><stop offset="0" stop-color="#000004"/><stop offset=".41" stop-color="#010108"/><stop offset=".503" stop-color="#08051d"/><stop offset=".518" stop-color="#0d0829"/><stop offset=".544" stop-color="#290b55"/><stop offset=".564" stop-color="#5f136e"/><stop offset=".579" stop-color="#922568"/><stop offset=".59" stop-color="#a22b62"/><stop offset=".6" stop-color="#952667"/><stop offset=".615" stop-color="#67166e"/><stop offset=".641" stop-color="#2d0b59"/><stop offset=".672" stop-color="#1c0c43"/><stop offset=".692" stop-color="#280b53"/><stop offset=".708" stop-color="#420a68"/><stop offset=".718" stop-color="#5f136e"/><stop offset=".728" stop-color="#8a226a"/><stop offset=".738" stop-color="#ba3655"/><stop offset=".749" stop-color="#d34743"/><stop offset=".759" stop-color="#c33b4f"/><stop offset=".769" stop-color="#9a2865"/><stop offset=".779" stop-color="#771c6d"/><stop offset=".795" stop-color="#62146e"/><stop offset=".81" stop-color="#6f196e"/><stop offset=".826" stop-color="#9b2964"/><stop offset=".841" stop-color="#cc4248"/><stop offset=".851" stop-color="#d24644"/><stop offset=".862" stop-color="#b93556"/><stop offset=".872" stop-color="#8d2369"/><stop offset=".882" stop-color="#64156e"/><stop offset=".897" stop-color="#380962"/><stop offset=".913" stop-color="#1c0c43"/><stop offset=".949" stop-color="#08051d"/><stop offset="1" stop-color="#02020e"/></linearGradient><linearGradient id="f81" href="#gv"><stop offset="0" stop-color="#000004"/><stop offset=".374" stop-color="#010106"/><stop offset=".497" stop-color="#07051b"/><stop offset=".523" stop-color="#120a32"/><stop offset=".538" stop-color="#240c4f"/><stop offset=".559" stop-color="#57106e"/><stop offset=".574" stop-color="#8c2369"/><stop offset=".585" stop-color="#a02a63"/><stop offset=".595" stop-color="#9a2865"/><stop offset=".615" stop-color="#5c126e"/><stop offset=".636" stop-color="#2f0a5b"/><stop offset=".656" stop-color="#1c0c43"/><stop offset=".672" stop-color="#1b0c41"/><stop offset=".692" stop-color="#260c51"/><stop offset=".708" stop-color="#400a67"/><stop offset=".718" stop-color="#5c126e"/><stop offset=".728" stop-color="#87216b"/><stop offset=".738" stop-color="#b73557"/><stop offset=".749" stop-color="#d24644"/><stop offset=".759" stop-color="#c33b4f"/><stop offset=".769" stop-color="#9b2964"/><stop offset=".785" stop-color="#6c186e"/><stop offset=".8" stop-color="#62146e"/><stop offset=".821" stop-color="#88226a"/><stop offset=".836" stop-color="#c03a51"/><stop offset=".846" stop-color="#d34743"/><stop offset=".851" stop-color="#d24644"/><stop offset=".862" stop-color="#b93556"/><stop offset=".872" stop-color="#8c2369"/><stop offset=".882" stop-color="#64156e"/><stop offset=".897" stop-color="#380962"/><stop offset=".913" stop-color="#1c0c43"/><stop offset=".949" stop-color="#08051d"/><stop offset="1" stop-color="#02020e"/></linearGradient><linearGradient id="f82" href="#gv"><stop offset="0" stop-color="#000004"/><stop offset=".41" stop-color="#010108"/><stop offset=".503" stop-color="#09061f"/><stop offset=".528" stop-color="#190c3e"/><stop offset=".554" stop-color="#510e6c"/><stop offset=".574" stop-color="#932667"/><stop offset=".585" stop-color="#a22b62"/><stop offset=".595" stop-color="#922568"/><stop offset=".61" stop-color="#61136e"/><stop offset=".631" stop-color="#310a5c"/><stop offset=".651" stop-color="#1c0c43"/><stop offset=".672" stop-color="#190c3e"/><stop offset=".692" stop-color="#240c4f"/><stop offset=".713" stop-color="#4a0c6b"/><stop offset=".728" stop-color="#84206b"/><stop offset=".738" stop-color="#b63458"/><stop offset=".749" stop-color="#d04545"/><stop offset=".759" stop-color="#c43c4e"/><stop offset=".779" stop-color="#781c6d"/><stop offset=".795" stop-color="#62146e"/><stop offset=".805" stop-color="#67166e"/><stop offset=".815" stop-color="#7a1d6d"/><stop offset=".836" stop-color="#bf3952"/><stop offset=".846" stop-color="#d34743"/><stop offset=".856" stop-color="#c83f4b"/><stop offset=".872" stop-color="#8c2369"/><stop offset=".882" stop-color="#62146e"/><stop offset=".897" stop-color="#380962"/><stop offset=".913" stop-color="#1c0c43"/><stop offset=".949" stop-color="#08051d"/><stop offset="1" stop-color="#02020e"/></linearGradient><linearGradient id="f83" href="#gv"><stop offset="0" stop-color="#000004"/><stop offset=".41" stop-color="#010108"/><stop offset=".497" stop-color="#08051d"/><stop offset=".523" stop-color="#160b39"/><stop offset=".538" stop-color="#2d0b59"/><stop offset=".554" stop-color="#57106e"/><stop offset=".569" stop-color="#8c2369"/><stop offset=".579" stop-color="#a02a63"/><stop offset=".59" stop-color="#982766"/><stop offset=".61" stop-color="#59106e"/><stop offset=".631" stop-color="#2b0b57"/><stop offset=".651" stop-color="#190c3e"/><stop offset=".672" stop-color="#180c3c"/><stop offset=".692" stop-color="#230c4c"/><stop offset=".713" stop-color="#490b6a"/><stop offset=".728" stop-color="#82206c"/><stop offset=".738" stop-color="#b3325a"/><stop offset=".749" stop-color="#cf4446"/><stop offset=".759" stop-color="#c43c4e"/><stop offset=".774" stop-color="#8a226a"/><stop offset=".785" stop-color="#6d186e"/><stop offset=".795" stop-color="#62146e"/><stop offset=".805" stop-color="#67166e"/><stop offset=".815" stop-color="#7a1d6d"/><stop offset=".836" stop-color="#bf3952"/><stop offset=".846" stop-color="#d24644"/><stop offset=".851" stop-color="#d04545"/><stop offset=".862" stop-color="#b73557"/><stop offset=".872" stop-color="#8c2369"/><stop offset=".882" stop-color="#62146e"/><stop offset=".897" stop-color="#380962"/><stop offset=".908" stop-color="#230c4c"/><stop offset=".944" stop-color="#09061f"/><stop offset="1" stop-color="#02020e"/></linearGradient><linearGradient id="f84" href="#gv"><stop offset="0" stop-color="#000004"/><stop offset=".374" stop-color="#010106"/><stop offset=".492" stop-color="#07051b"/><stop offset=".513" stop-color="#10092d"/><stop offset=".533" stop-color="#280b53"/><stop offset=".554" stop-color="#5d126e"/><stop offset=".569" stop-color="#922568"/><stop offset=".579" stop-color="#a22b62"/><stop offset=".59" stop-color="#922568"/><stop offset=".605" stop-color="#61136e"/><stop offset=".631" stop-color="#260c51"/><stop offset=".646" stop-color="#190c3e"/><stop offset=".672" stop-color="#160b39"/><stop offset=".697" stop-color="#280b53"/><stop offset=".708" stop-color="#3b0964"/><stop offset=".718" stop-color="#57106e"/><stop offset=".728" stop-color="#801f6c"/><stop offset=".738" stop-color="#b1325a"/><stop offset=".749" stop-color="#cf4446"/><stop offset=".759" stop-color="#c43c4e"/><stop offset=".774" stop-color="#8a226a"/><stop offset=".785" stop-color="#6f196e"/><stop offset=".8" stop-color="#64156e"/><stop offset=".815" stop-color="#7a1d6d"/><stop offset=".836" stop-color="#bf3952"/><stop offset=".846" stop-color="#d24644"/><stop offset=".856" stop-color="#c73e4c"/><stop offset=".872" stop-color="#8a226a"/><stop offset=".882" stop-color="#62146e"/><stop offset=".892" stop-color="#440a68"/><stop offset=".908" stop-color="#230c4c"/><stop offset=".944" stop-color="#09061f"/><stop offset="1" stop-color="#02020e"/></linearGradient><linearGradient id="f85" href="#gv"><stop offset="0" stop-color="#000004"/><stop offset=".405" stop-color="#010108"/><stop offset=".497" stop-color="#09061f"/><stop offset=".528" stop-color="#210c4a"/><stop offset=".549" stop-color="#540f6d"/><stop offset=".564" stop-color="#88226a"/><stop offset=".574" stop-color="#a02a63"/><stop offset=".585" stop-color="#9a2865"/><stop offset=".605" stop-color="#59106e"/><stop offset=".626" stop-color="#2b0b57"/><stop offset=".646" stop-color="#180c3c"/><stop offset=".667" stop-color="#150b37"/><stop offset=".687" stop-color="#1c0c43"/><stop offset=".708" stop-color="#390963"/><stop offset=".728" stop-color="#7d1e6d"/><stop offset=".738" stop-color="#b0315b"/><stop offset=".749" stop-color="#ce4347"/><stop offset=".759" stop-color="#c43c4e"/><stop offset=".769" stop-color="#9f2a63"/><stop offset=".785" stop-color="#6f196e"/><stop offset=".8" stop-color="#64156e"/><stop offset=".815" stop-color="#7a1d6d"/><stop offset=".836" stop-color="#bf3952"/><stop offset=".846" stop-color="#d24644"/><stop offset=".856" stop-color="#c63d4d"/><stop offset=".877" stop-color="#741a6e"/><stop offset=".892" stop-color="#420a68"/><stop offset=".908" stop-color="#230c4c"/><stop offset=".923" stop-color="#120a32"/><stop offset=".944" stop-color="#09061f"/><stop offset="1" stop-color="#02020e"/></linearGradient><linearGradient id="f86" href="#gv"><stop offset="0" stop-color="#000004"/><stop offset=".374" stop-color="#010106"/><stop offset=".441" stop-color="#02020c"/><stop offset=".492" stop-color="#08051d"/><stop offset=".508" stop-color="#0e092b"/><stop offset=".528" stop-color="#240c4f"/><stop offset=".549" stop-color="#59106e"/><stop offset=".564" stop-color="#8d2369"/><stop offset=".574" stop-color="#a02a63"/><stop offset=".585" stop-color="#952667"/><stop offset=".6" stop-color="#64156e"/><stop offset=".621" stop-color="#2f0a5b"/><stop offset=".646" stop-color="#160b39"/><stop offset=".667" stop-color="#140b34"/><stop offset=".687" stop-color="#1c0c43"/><stop offset=".708" stop-color="#390963"/><stop offset=".718" stop-color="#540f6d"/><stop offset=".728" stop-color="#7c1d6d"/><stop offset=".738" stop-color="#ae305c"/><stop offset=".749" stop-color="#cc4248"/><stop offset=".759" stop-color="#c43c4e"/><stop offset=".769" stop-color="#9f2a63"/><stop offset=".785" stop-color="#6f196e"/><stop offset=".8" stop-color="#64156e"/><stop offset=".815" stop-color="#7a1d6d"/><stop offset=".836" stop-color="#bf3952"/><stop offset=".846" stop-color="#d24644"/><stop offset=".856" stop-color="#c63d4d"/><stop offset=".877" stop-color="#741a6e"/><stop offset=".892" stop-color="#420a68"/><stop offset=".908" stop-color="#230c4c"/><stop offset=".923" stop-color="#120a32"/><stop offset=".944" stop-color="#09061f"/><stop offset="1" stop-color="#02020e"/></linearGradient><linearGradient id="f87" href="#gv"><stop offset="0" stop-color="#000004"/><stop offset=".374" stop-color="#010106"/><stop offset=".441" stop-color="#02020c"/><stop offset=".487" stop-color="#07051b"/><stop offset=".513" stop-color="#120a32"/><stop offset=".528" stop-color="#260c51"/><stop offset=".549" stop-color="#5d126e"/><stop offset=".564" stop-color="#922568"/><stop offset=".574" stop-color="#a02a63"/><stop offset=".585" stop-color="#902568"/><stop offset=".6" stop-color="#5d126e"/><stop offset=".621" stop-color="#2b0b57"/><stop offset=".646" stop-color="#150b37"/><stop offset=".667" stop-color="#140b34"/><stop offset=".687" stop-color="#1b0c41"/><stop offset=".708" stop-color="#380962"/><stop offset=".728" stop-color="#7c1d6d"/><stop offset=".738" stop-color="#ad305d"/><stop offset=".749" stop-color="#cc4248"/><stop offset=".759" stop-color="#c43c4e"/><stop offset=".769" stop-color="#9f2a63"/><stop offset=".785" stop-color="#6f196e"/><stop offset=".8" stop-color="#64156e"/><stop offset=".815" stop-color="#7a1d6d"/><stop offset=".836" stop-color="#bf3952"/><stop offset=".846" stop-color="#d24644"/><stop offset=".856" stop-color="#c63d4d"/><stop offset=".877" stop-color="#741a6e"/><stop offset=".892" stop-color="#420a68"/><stop offset=".908" stop-color="#230c4c"/><stop offset=".923" stop-color="#120a32"/><stop offset=".944" stop-color="#09061f"/><stop offset="1" stop-color="#02020e"/></linearGradient><linearGradient id="f88" href="#gv"><stop offset="0" stop-color="#000004"/><stop offset=".374" stop-color="#010106"/><stop offset=".441" stop-color="#02020c"/><stop offset=".487" stop-color="#07051b"/><stop offset=".508" stop-color="#10092d"/><stop offset=".523" stop-color="#1f0c48"/><stop offset=".544" stop-color="#510e6c"/><stop offset=".564" stop-color="#952667"/><stop offset=".574" stop-color="#a02a63"/><stop offset=".585" stop-color="#8d2369"/><stop offset=".6" stop-color="#5a116e"/><stop offset=".621" stop-color="#290b55"/><stop offset=".641" stop-color="#160b39"/><stop offset=".672" stop-color="#140b34"/><stop offset=".697" stop-color="#240c4f"/><stop offset=".713" stop-color="#440a68"/><stop offset=".728" stop-color="#7a1d6d"/><stop offset=".738" stop-color="#ab2f5e"/><stop offset=".749" stop-color="#cb4149"/><stop offset=".759" stop-color="#c43c4e"/><stop offset=".769" stop-color="#9f2a63"/><stop offset=".785" stop-color="#6f196e"/><stop offset=".8" stop-color="#64156e"/><stop offset=".815" stop-color="#7a1d6d"/><stop offset=".836" stop-color="#bf3952"/><stop offset=".846" stop-color="#d04545"/><stop offset=".856" stop-color="#c43c4e"/><stop offset=".877" stop-color="#741a6e"/><stop offset=".892" stop-color="#420a68"/><stop offset=".908" stop-color="#230c4c"/><stop offset=".923" stop-color="#120a32"/><stop offset=".944" stop-color="#09061f"/><stop offset="1" stop-color="#02020e"/></linearGradient><linearGradient id="f89" href="#gv"><stop offset="0" stop-color="#000004"/><stop offset=".405" stop-color="#010108"/><stop offset=".492" stop-color="#09061f"/><stop offset=".523" stop-color="#210c4a"/><stop offset=".544" stop-color="#540f6d"/><stop offset=".559" stop-color="#8a226a"/><stop offset=".569" stop-color="#a02a63"/><stop offset=".579" stop-color="#972766"/><stop offset=".6" stop-color="#550f6d"/><stop offset=".621" stop-color="#280b53"/><stop offset=".636" stop-color="#180c3c"/><stop offset=".667" stop-color="#120a32"/><stop offset=".687" stop-color="#1b0c41"/><stop offset=".708" stop-color="#360961"/><stop offset=".728" stop-color="#781c6d"/><stop offset=".744" stop-color="#bf3952"/><stop offset=".749" stop-color="#ca404a"/><stop offset=".759" stop-color="#c43c4e"/><stop offset=".769" stop-color="#9f2a63"/><stop offset=".785" stop-color="#6f196e"/><stop offset=".8" stop-color="#64156e"/><stop offset=".815" stop-color="#7a1d6d"/><stop offset=".836" stop-color="#bf3952"/><stop offset=".846" stop-color="#d04545"/><stop offset=".856" stop-color="#c43c4e"/><stop offset=".877" stop-color="#721a6e"/><stop offset=".892" stop-color="#420a68"/><stop offset=".908" stop-color="#230c4c"/><stop offset=".923" stop-color="#120a32"/><stop offset=".944" stop-color="#09061f"/><stop offset="1" stop-color="#02020e"/></linearGradient><linearGradient id="f90" href="#gv"><stop offset="0" stop-color="#000004"/><stop offset=".405" stop-color="#010108"/><stop offset=".492" stop-color="#09061f"/><stop offset=".523" stop-color="#230c4c"/><stop offset=".544" stop-color="#57106e"/><stop offset=".559" stop-color="#8d2369"/><stop offset=".569" stop-color="#a02a63"/><stop offset=".579" stop-color="#952667"/><stop offset=".595" stop-color="#62146e"/><stop offset=".615" stop-color="#2d0b59"/><stop offset=".641" stop-color="#150b37"/><stop offset=".667" stop-color="#120a32"/><stop offset=".692" stop-color="#1e0c45"/><stop offset=".708" stop-color="#360961"/><stop offset=".728" stop-color="#781c6d"/><stop offset=".744" stop-color="#bd3853"/><stop offset=".749" stop-color="#ca404a"/><stop offset=".759" stop-color="#c33b4f"/><stop offset=".774" stop-color="#8c2369"/><stop offset=".785" stop-color="#6f196e"/><stop offset=".8" stop-color="#64156e"/><stop offset=".815" stop-color="#7a1d6d"/><stop offset=".836" stop-color="#bf3952"/><stop offset=".846" stop-color="#d04545"/><stop offset=".856" stop-color="#c43c4e"/><stop offset=".872" stop-color="#87216b"/><stop offset=".882" stop-color="#5f136e"/><stop offset=".897" stop-color="#340a5f"/><stop offset=".913" stop-color="#1b0c41"/><stop offset=".944" stop-color="#09061f"/><stop offset="1" stop-color="#02020e"/></linearGradient><linearGradient id="f91" href="#gv"><stop offset="0" stop-color="#000004"/><stop offset=".374" stop-color="#010106"/><stop offset=".426" stop-color="#02010a"/><stop offset=".487" stop-color="#08051d"/><stop offset=".503" stop-color="#0e092b"/><stop offset=".523" stop-color="#240c4f"/><stop offset=".544" stop-color="#5a116e"/><stop offset=".559" stop-color="#8f2469"/><stop offset=".569" stop-color="#a02a63"/><stop offset=".579" stop-color="#922568"/><stop offset=".595" stop-color="#5f136e"/><stop offset=".615" stop-color="#2b0b57"/><stop offset=".646" stop-color="#120a32"/><stop offset=".672" stop-color="#120a32"/><stop offset=".692" stop-color="#1e0c45"/><stop offset=".713" stop-color="#420a68"/><stop offset=".728" stop-color="#771c6d"/><stop offset=".744" stop-color="#bd3853"/><stop offset=".749" stop-color="#c83f4b"/><stop offset=".759" stop-color="#c33b4f"/><stop offset=".774" stop-color="#8c2369"/><stop offset=".785" stop-color="#6f196e"/><stop offset=".8" stop-color="#64156e"/><stop offset=".81" stop-color="#6f196e"/><stop offset=".821" stop-color="#88226a"/><stop offset=".836" stop-color="#bf3952"/><stop offset=".846" stop-color="#d04545"/><stop offset=".856" stop-color="#c43c4e"/><stop offset=".877" stop-color="#721a6e"/><stop offset=".892" stop-color="#400a67"/><stop offset=".908" stop-color="#210c4a"/><stop offset=".944" stop-color="#09061f"/><stop offset="1" stop-color="#02020e"/></linearGradient><linearGradient id="f92" href="#gv"><stop offset="0" stop-color="#000004"/><stop offset=".374" stop-color="#010106"/><stop offset=".436" stop-color="#02020c"/><stop offset=".487" stop-color="#08051d"/><stop offset=".508" stop-color="#120a32"/><stop offset=".523" stop-color="#260c51"/><stop offset=".544" stop-color="#5d126e"/><stop offset=".559" stop-color="#922568"/><stop offset=".569" stop-color="#a02a63"/><stop offset=".579" stop-color="#8f2469"/><stop offset=".595" stop-color="#5c126e"/><stop offset=".615" stop-color="#290b55"/><stop offset=".641" stop-color="#140b34"/><stop offset=".667" stop-color="#110a30"/><stop offset=".692" stop-color="#1e0c45"/><stop offset=".708" stop-color="#360961"/><stop offset=".728" stop-color="#771c6d"/><stop offset=".738" stop-color="#a82e5f"/><stop offset=".749" stop-color="#c83f4b"/><stop offset=".759" stop-color="#c33b4f"/><stop offset=".774" stop-color="#8c2369"/><stop offset=".785" stop-color="#6f196e"/><stop offset=".8" stop-color="#64156e"/><stop offset=".81" stop-color="#6f196e"/><stop offset=".821" stop-color="#88226a"/><stop offset=".836" stop-color="#bf3952"/><stop offset=".846" stop-color="#d04545"/><stop offset=".856" stop-color="#c33b4f"/><stop offset=".877" stop-color="#721a6e"/><stop offset=".892" stop-color="#400a67"/><stop offset=".908" stop-color="#210c4a"/><stop offset=".944" stop-color="#09061f"/><stop offset="1" stop-color="#02020e"/></linearGradient><linearGradient id="f93" href="#gv"><stop offset="0" stop-color="#000004"/><stop offset=".374" stop-color="#010106"/><stop offset=".482" stop-color="#07051b"/><stop offset=".497" stop-color="#0c0826"/><stop offset=".523" stop-color="#280b53"/><stop offset=".544" stop-color="#61136e"/><stop offset=".559" stop-color="#952667"/><stop offset=".569" stop-color="#a02a63"/><stop offset=".579" stop-color="#8c2369"/><stop offset=".595" stop-color="#59106e"/><stop offset=".615" stop-color="#280b53"/><stop offset=".636" stop-color="#150b37"/><stop offset=".667" stop-color="#110a30"/><stop offset=".692" stop-color="#1e0c45"/><stop offset=".708" stop-color="#360961"/><stop offset=".728" stop-color="#771c6d"/><stop offset=".738" stop-color="#a82e5f"/><stop offset=".749" stop-color="#c83f4b"/><stop offset=".759" stop-color="#c33b4f"/><stop offset=".774" stop-color="#8c2369"/><stop offset=".785" stop-color="#6f196e"/><stop offset=".8" stop-color="#64156e"/><stop offset=".81" stop-color="#6f196e"/><stop offset=".821" stop-color="#88226a"/><stop offset=".836" stop-color="#bf3952"/><stop offset=".846" stop-color="#d04545"/><stop offset=".856" stop-color="#c33b4f"/><stop offset=".877" stop-color="#721a6e"/><stop offset=".892" stop-color="#400a67"/><stop offset=".908" stop-color="#210c4a"/><stop offset=".928" stop-color="#0e092b"/><stop offset=".944" stop-color="#09061f"/><stop offset="1" stop-color="#02020e"/></linearGradient><clipPath id="cpf"><rect x="287.2" y="543.6" width="179.7" height="194.8"/></clipPath><filter id="hbf" filterUnits="userSpaceOnUse" x="281.2" y="541.6" width="192" height="198.8"><feGaussianBlur stdDeviation="1.1 0"/></filter></defs>
<g clip-path="url(#cpf)"><rect x="287.2" y="543.6" width="179.7" height="194.8" fill="#000004"/><g filter="url(#hbf)" shape-rendering="crispEdges"><rect x="283.2" y="543.6" width="2.6" height="194.8" fill="url(#f0)"/><rect x="285.2" y="543.6" width="2.6" height="194.8" fill="url(#f1)"/><rect x="287.2" y="543.6" width="2.6" height="194.8" fill="url(#f2)"/><rect x="289.2" y="543.6" width="2.6" height="194.8" fill="url(#f3)"/><rect x="291.2" y="543.6" width="2.6" height="194.8" fill="url(#f4)"/><rect x="293.2" y="543.6" width="2.6" height="194.8" fill="url(#f5)"/><rect x="295.2" y="543.6" width="2.6" height="194.8" fill="url(#f6)"/><rect x="297.2" y="543.6" width="2.6" height="194.8" fill="url(#f7)"/><rect x="299.2" y="543.6" width="2.6" height="194.8" fill="url(#f8)"/><rect x="301.2" y="543.6" width="2.6" height="194.8" fill="url(#f9)"/><rect x="303.2" y="543.6" width="2.6" height="194.8" fill="url(#f10)"/><rect x="305.2" y="543.6" width="2.6" height="194.8" fill="url(#f11)"/><rect x="307.2" y="543.6" width="2.6" height="194.8" fill="url(#f12)"/><rect x="309.2" y="543.6" width="2.6" height="194.8" fill="url(#f13)"/><rect x="311.2" y="543.6" width="2.6" height="194.8" fill="url(#f14)"/><rect x="313.2" y="543.6" width="2.6" height="194.8" fill="url(#f15)"/><rect x="315.2" y="543.6" width="2.6" height="194.8" fill="url(#f16)"/><rect x="317.2" y="543.6" width="2.6" height="194.8" fill="url(#f17)"/><rect x="319.2" y="543.6" width="2.6" height="194.8" fill="url(#f18)"/><rect x="321.2" y="543.6" width="2.6" height="194.8" fill="url(#f19)"/><rect x="323.2" y="543.6" width="2.6" height="194.8" fill="url(#f20)"/><rect x="325.2" y="543.6" width="2.6" height="194.8" fill="url(#f21)"/><rect x="327.2" y="543.6" width="2.6" height="194.8" fill="url(#f22)"/><rect x="329.2" y="543.6" width="2.6" height="194.8" fill="url(#f23)"/><rect x="331.2" y="543.6" width="2.6" height="194.8" fill="url(#f24)"/><rect x="333.2" y="543.6" width="2.6" height="194.8" fill="url(#f25)"/><rect x="335.2" y="543.6" width="2.6" height="194.8" fill="url(#f26)"/><rect x="337.2" y="543.6" width="2.6" height="194.8" fill="url(#f27)"/><rect x="339.2" y="543.6" width="2.6" height="194.8" fill="url(#f28)"/><rect x="341.2" y="543.6" width="2.6" height="194.8" fill="url(#f29)"/><rect x="343.2" y="543.6" width="2.6" height="194.8" fill="url(#f30)"/><rect x="345.2" y="543.6" width="2.6" height="194.8" fill="url(#f31)"/><rect x="347.2" y="543.6" width="2.6" height="194.8" fill="url(#f32)"/><rect x="349.2" y="543.6" width="2.6" height="194.8" fill="url(#f33)"/><rect x="351.2" y="543.6" width="2.6" height="194.8" fill="url(#f34)"/><rect x="353.2" y="543.6" width="2.6" height="194.8" fill="url(#f35)"/><rect x="355.2" y="543.6" width="2.6" height="194.8" fill="url(#f36)"/><rect x="357.2" y="543.6" width="2.6" height="194.8" fill="url(#f37)"/><rect x="359.2" y="543.6" width="2.6" height="194.8" fill="url(#f38)"/><rect x="361.2" y="543.6" width="2.6" height="194.8" fill="url(#f39)"/><rect x="363.2" y="543.6" width="2.6" height="194.8" fill="url(#f40)"/><rect x="365.2" y="543.6" width="2.6" height="194.8" fill="url(#f41)"/><rect x="367.2" y="543.6" width="2.6" height="194.8" fill="url(#f42)"/><rect x="369.2" y="543.6" width="2.6" height="194.8" fill="url(#f43)"/><rect x="371.2" y="543.6" width="2.6" height="194.8" fill="url(#f44)"/><rect x="373.2" y="543.6" width="2.6" height="194.8" fill="url(#f45)"/><rect x="375.2" y="543.6" width="2.6" height="194.8" fill="url(#f46)"/><rect x="377.2" y="543.6" width="2.6" height="194.8" fill="url(#f47)"/><rect x="379.2" y="543.6" width="2.6" height="194.8" fill="url(#f48)"/><rect x="381.2" y="543.6" width="2.6" height="194.8" fill="url(#f49)"/><rect x="383.2" y="543.6" width="2.6" height="194.8" fill="url(#f50)"/><rect x="385.2" y="543.6" width="2.6" height="194.8" fill="url(#f51)"/><rect x="387.2" y="543.6" width="2.6" height="194.8" fill="url(#f52)"/><rect x="389.2" y="543.6" width="2.6" height="194.8" fill="url(#f53)"/><rect x="391.2" y="543.6" width="2.6" height="194.8" fill="url(#f54)"/><rect x="393.2" y="543.6" width="2.6" height="194.8" fill="url(#f55)"/><rect x="395.2" y="543.6" width="2.6" height="194.8" fill="url(#f56)"/><rect x="397.2" y="543.6" width="2.6" height="194.8" fill="url(#f57)"/><rect x="399.2" y="543.6" width="2.6" height="194.8" fill="url(#f58)"/><rect x="401.2" y="543.6" width="2.6" height="194.8" fill="url(#f59)"/><rect x="403.2" y="543.6" width="2.6" height="194.8" fill="url(#f60)"/><rect x="405.2" y="543.6" width="2.6" height="194.8" fill="url(#f61)"/><rect x="407.2" y="543.6" width="2.6" height="194.8" fill="url(#f62)"/><rect x="409.2" y="543.6" width="2.6" height="194.8" fill="url(#f63)"/><rect x="411.2" y="543.6" width="2.6" height="194.8" fill="url(#f64)"/><rect x="413.2" y="543.6" width="2.6" height="194.8" fill="url(#f65)"/><rect x="415.2" y="543.6" width="2.6" height="194.8" fill="url(#f66)"/><rect x="417.2" y="543.6" width="2.6" height="194.8" fill="url(#f67)"/><rect x="419.2" y="543.6" width="2.6" height="194.8" fill="url(#f68)"/><rect x="421.2" y="543.6" width="2.6" height="194.8" fill="url(#f69)"/><rect x="423.2" y="543.6" width="2.6" height="194.8" fill="url(#f70)"/><rect x="425.2" y="543.6" width="2.6" height="194.8" fill="url(#f71)"/><rect x="427.2" y="543.6" width="2.6" height="194.8" fill="url(#f72)"/><rect x="429.2" y="543.6" width="2.6" height="194.8" fill="url(#f73)"/><rect x="431.2" y="543.6" width="2.6" height="194.8" fill="url(#f74)"/><rect x="433.2" y="543.6" width="2.6" height="194.8" fill="url(#f75)"/><rect x="435.2" y="543.6" width="2.6" height="194.8" fill="url(#f76)"/><rect x="437.2" y="543.6" width="2.6" height="194.8" fill="url(#f77)"/><rect x="439.2" y="543.6" width="2.6" height="194.8" fill="url(#f78)"/><rect x="441.2" y="543.6" width="2.6" height="194.8" fill="url(#f79)"/><rect x="443.2" y="543.6" width="2.6" height="194.8" fill="url(#f80)"/><rect x="445.2" y="543.6" width="2.6" height="194.8" fill="url(#f81)"/><rect x="447.2" y="543.6" width="2.6" height="194.8" fill="url(#f82)"/><rect x="449.2" y="543.6" width="2.6" height="194.8" fill="url(#f83)"/><rect x="451.2" y="543.6" width="2.6" height="194.8" fill="url(#f84)"/><rect x="453.2" y="543.6" width="2.6" height="194.8" fill="url(#f85)"/><rect x="455.2" y="543.6" width="2.6" height="194.8" fill="url(#f86)"/><rect x="457.2" y="543.6" width="2.6" height="194.8" fill="url(#f87)"/><rect x="459.2" y="543.6" width="2.6" height="194.8" fill="url(#f88)"/><rect x="461.2" y="543.6" width="2.6" height="194.8" fill="url(#f89)"/><rect x="463.2" y="543.6" width="2.6" height="194.8" fill="url(#f90)"/><rect x="465.2" y="543.6" width="2.6" height="194.8" fill="url(#f91)"/><rect x="467.2" y="543.6" width="2.6" height="194.8" fill="url(#f92)"/><rect x="469.2" y="543.6" width="2.6" height="194.8" fill="url(#f93)"/></g></g>
<path d="M327.5 544.7L331.2 737.3" stroke="#fff" stroke-width="1.45" stroke-dasharray="4.3 1.9" fill="none"/>
<path d="M377.5 544.7L373.6 737.3" stroke="#fff" stroke-width="1.45" stroke-dasharray="4.3 1.9" fill="none"/>
<rect x="287.2" y="543.7" width="179.7" height="194.6" fill="none" stroke="#000" stroke-width="1.5"/>
<text x="287.7" y="767.8" font-size="18.3" text-anchor="middle">M</text>
<text x="352.6" y="767.8" font-size="18.3" text-anchor="middle">Γ</text>
<text x="427.7" y="767.8" font-size="18.3" text-anchor="middle">K</text>
<text x="464.6" y="767.8" font-size="18.3" text-anchor="middle">M</text>
<path d="M287.2 563h-7.6M287.2 602h-7.6M287.2 641h-7.6M287.2 680h-7.6M287.2 719h-7.6M287.7 738.3v7.6M352.6 738.3v7.6M427.7 738.3v7.6M465.8 738.3v7.6" stroke="#000" stroke-width="1.6" fill="none"/>
<text x="374.6" y="531" font-size="25" text-anchor="middle" letter-spacing=".6">(f)</text>
<text x="456.5" y="564.6" font-size="18.3" text-anchor="end" letter-spacing="1" word-spacing="1.5" style="fill:#fff"><tspan font-style="italic">δ</tspan> = ±0.1</text>
<text x="55.6" y="569.6" font-size="18.3" text-anchor="end" letter-spacing=".55">3.1</text>
<text x="55.6" y="608.6" font-size="18.3" text-anchor="end" letter-spacing=".55">3.0</text>
<text x="55.6" y="647.6" font-size="18.3" text-anchor="end" letter-spacing=".55">2.9</text>
<text x="55.6" y="686.6" font-size="18.3" text-anchor="end" letter-spacing=".55">2.8</text>
<text x="55.6" y="725.6" font-size="18.3" text-anchor="end" letter-spacing=".55">2.7</text>
<text transform="translate(18 642.2) rotate(-90)" font-size="20.5" text-anchor="middle"><tspan font-style="italic">ω</tspan> (eV)</text>
<circle cx="427.6" cy="662" r="3.7" fill="none" stroke="#2ca02c" stroke-width="1.6"/>
<circle cx="427.6" cy="689.4" r="3.7" fill="none" stroke="#1f77b4" stroke-width="1.6"/>
<defs><linearGradient id="cbar" x1="0" y1="0" x2="0" y2="1"><stop offset="0" stop-color="#fcffa4"/><stop offset=".04" stop-color="#f1f179"/><stop offset=".09" stop-color="#f4dd4f"/><stop offset=".13" stop-color="#f9c72f"/><stop offset=".17" stop-color="#fcb216"/><stop offset=".22" stop-color="#fb9d07"/><stop offset=".26" stop-color="#f8890c"/><stop offset=".3" stop-color="#f3761b"/><stop offset=".35" stop-color="#ea632a"/><stop offset=".39" stop-color="#df5337"/><stop offset=".43" stop-color="#d24644"/><stop offset=".48" stop-color="#c33b4f"/><stop offset=".52" stop-color="#b3325a"/><stop offset=".57" stop-color="#a22b62"/><stop offset=".61" stop-color="#902568"/><stop offset=".65" stop-color="#7f1e6c"/><stop offset=".7" stop-color="#6c186e"/><stop offset=".74" stop-color="#5a116e"/><stop offset=".78" stop-color="#490b6a"/><stop offset=".83" stop-color="#360961"/><stop offset=".87" stop-color="#230c4c"/><stop offset=".91" stop-color="#120a32"/><stop offset=".96" stop-color="#060419"/><stop offset="1" stop-color="#000004"/></linearGradient></defs>
<rect x="477.4" y="544.3" width="10.6" height="193.4" fill="url(#cbar)" stroke="#000" stroke-width="1.3"/>
<text x="501.6" y="744" font-size="18.3" text-anchor="start" letter-spacing=".3">0</text>
<text x="501.6" y="710.16" font-size="18.3" text-anchor="start" letter-spacing=".3">10</text>
<text x="501.6" y="676.32" font-size="18.3" text-anchor="start" letter-spacing=".3">20</text>
<text x="501.6" y="642.48" font-size="18.3" text-anchor="start" letter-spacing=".3">30</text>
<text x="501.6" y="608.64" font-size="18.3" text-anchor="start" letter-spacing=".3">40</text>
<text x="501.6" y="574.8" font-size="18.3" text-anchor="start" letter-spacing=".3">50</text>
<path d="M488 737.7h6.8M488 703.86h6.8M488 670.02h6.8M488 636.18h6.8M488 602.34h6.8M488 568.5h6.8" stroke="#000" stroke-width="1.6" fill="none"/>
<text x="470.8" y="752" font-size="17" font-style="italic">σ<tspan font-size="11.5" font-style="normal" dy="2.2" dx=".8" letter-spacing=".6">sf</tspan></text>
</g>
<g id="pgh">
<defs>
<radialGradient id="fb"><stop offset="0" stop-color="#1818d4"/><stop offset=".33" stop-color="#1818d4"/><stop offset=".39" stop-color="#3c3ce4" stop-opacity=".9"/><stop offset=".48" stop-color="#7272ef" stop-opacity=".62"/><stop offset=".64" stop-color="#9c9cf6" stop-opacity=".32"/><stop offset=".82" stop-color="#b4b4fa" stop-opacity=".12"/><stop offset="1" stop-color="#c0c0ff" stop-opacity="0"/></radialGradient>
<radialGradient id="fr"><stop offset="0" stop-color="#ee7a7a"/><stop offset=".3" stop-color="#ee7a7a" stop-opacity=".8"/><stop offset=".5" stop-color="#f29090" stop-opacity=".5"/><stop offset=".75" stop-color="#f6a8a8" stop-opacity=".2"/><stop offset="1" stop-color="#f8b8b8" stop-opacity="0"/></radialGradient>
<radialGradient id="fh"><stop offset="0" stop-color="#c4c4f6" stop-opacity=".75"/><stop offset=".6" stop-color="#d0d0f8" stop-opacity=".55"/><stop offset="1" stop-color="#e0e0fb" stop-opacity=".3"/></radialGradient>
</defs>
<clipPath id="cg1"><rect x="9.25" y="818" width="97" height="97"/></clipPath>
<g clip-path="url(#cg1)">
<polygon points="97.5,866.25 77.5,900.89 37.5,900.89 17.5,866.25 37.5,831.61 77.5,831.61" fill="url(#fh)"/>
<circle cx="108.4" cy="885.13" r="25" fill="url(#fr)" opacity=".6"/>
<circle cx="108.4" cy="916.65" r="25" fill="url(#fr)" opacity=".6"/>
<circle cx="108.4" cy="815.85" r="25" fill="url(#fr)" opacity=".6"/>
<circle cx="108.4" cy="847.37" r="25" fill="url(#fr)" opacity=".6"/>
<circle cx="15.7" cy="900.89" r="25" fill="url(#fr)" opacity=".6"/>
<circle cx="15.7" cy="831.61" r="25" fill="url(#fr)" opacity=".6"/>
<circle cx="48.4" cy="919.77" r="25" fill="url(#fr)" opacity=".6"/>
<circle cx="48.4" cy="812.73" r="25" fill="url(#fr)" opacity=".6"/>
<circle cx="75.7" cy="866.25" r="23" fill="url(#fb)" opacity="1"/>
<circle cx="48.4" cy="850.49" r="23" fill="url(#fb)" opacity="1"/>
<circle cx="48.4" cy="882.01" r="23" fill="url(#fb)" opacity="1"/>
<path d="M97.5 866.25 L77.5 900.89 L37.5 900.89 L17.5 866.25 L37.5 831.61 L77.5 831.61ZM97.5 866.25l40 0M77.5 900.89l20 34.64M37.5 900.89l-20 34.64M17.5 866.25l-40 0M37.5 831.61l-20 -34.64M77.5 831.61l20 -34.64" fill="none" stroke="#8c8c8c" stroke-width="1.1" stroke-linejoin="round"/>
<circle cx="75.7" cy="866.25" r="7.3" fill="#fff" stroke="#0c0c2a" stroke-width="1.5"/>
<circle cx="48.4" cy="850.49" r="7.3" fill="#fff" stroke="#0c0c2a" stroke-width="1.5"/>
<circle cx="48.4" cy="882.01" r="7.3" fill="#fff" stroke="#0c0c2a" stroke-width="1.5"/>
<circle cx="108.4" cy="885.13" r="7.3" fill="#fff" stroke="#0c0c2a" stroke-width="1.5"/>
<circle cx="108.4" cy="916.65" r="7.3" fill="#fff" stroke="#0c0c2a" stroke-width="1.5"/>
<circle cx="108.4" cy="815.85" r="7.3" fill="#fff" stroke="#0c0c2a" stroke-width="1.5"/>
<circle cx="108.4" cy="847.37" r="7.3" fill="#fff" stroke="#0c0c2a" stroke-width="1.5"/>
<circle cx="15.7" cy="900.89" r="7.3" fill="#fff" stroke="#0c0c2a" stroke-width="1.5"/>
<circle cx="15.7" cy="831.61" r="7.3" fill="#fff" stroke="#0c0c2a" stroke-width="1.5"/>
<circle cx="48.4" cy="919.77" r="7.3" fill="#fff" stroke="#0c0c2a" stroke-width="1.5"/>
<circle cx="48.4" cy="812.73" r="7.3" fill="#fff" stroke="#0c0c2a" stroke-width="1.5"/>
</g>
<rect x="9.25" y="818" width="97" height="97" fill="none" stroke="#1f77b4" stroke-width="1.7"/>
<clipPath id="cg2"><rect x="136.25" y="818" width="97.5" height="97"/></clipPath>
<g clip-path="url(#cg2)">
<circle cx="176.15" cy="850.49" r="25" fill="url(#fr)" opacity=".64"/>
<circle cx="176.15" cy="882.01" r="25" fill="url(#fr)" opacity=".64"/>
<circle cx="236.15" cy="916.65" r="25" fill="url(#fr)" opacity=".64"/>
<circle cx="236.15" cy="815.85" r="25" fill="url(#fr)" opacity=".64"/>
<circle cx="143.45" cy="900.89" r="25" fill="url(#fr)" opacity=".76"/>
<circle cx="143.45" cy="831.61" r="25" fill="url(#fr)" opacity=".76"/>
<circle cx="176.15" cy="919.77" r="25" fill="url(#fr)" opacity=".64"/>
<circle cx="176.15" cy="812.73" r="25" fill="url(#fr)" opacity=".64"/>
<circle cx="203.45" cy="866.25" r="23" fill="url(#fb)" opacity="1"/>
<circle cx="236.15" cy="885.13" r="23" fill="url(#fb)" opacity="1"/>
<circle cx="236.15" cy="847.37" r="23" fill="url(#fb)" opacity="1"/>
<path d="M225.25 866.25 L205.25 900.89 L165.25 900.89 L145.25 866.25 L165.25 831.61 L205.25 831.61ZM225.25 866.25l40 0M205.25 900.89l20 34.64M165.25 900.89l-20 34.64M145.25 866.25l-40 0M165.25 831.61l-20 -34.64M205.25 831.61l20 -34.64" fill="none" stroke="#8c8c8c" stroke-width="1.1" stroke-linejoin="round"/>
<circle cx="203.45" cy="866.25" r="7.3" fill="#fff" stroke="#0c0c2a" stroke-width="1.5"/>
<circle cx="176.15" cy="850.49" r="7.3" fill="#fff" stroke="#0c0c2a" stroke-width="1.5"/>
<circle cx="176.15" cy="882.01" r="7.3" fill="#fff" stroke="#0c0c2a" stroke-width="1.5"/>
<circle cx="236.15" cy="885.13" r="7.3" fill="#fff" stroke="#0c0c2a" stroke-width="1.5"/>
<circle cx="236.15" cy="916.65" r="7.3" fill="#fff" stroke="#0c0c2a" stroke-width="1.5"/>
<circle cx="236.15" cy="815.85" r="7.3" fill="#fff" stroke="#0c0c2a" stroke-width="1.5"/>
<circle cx="236.15" cy="847.37" r="7.3" fill="#fff" stroke="#0c0c2a" stroke-width="1.5"/>
<circle cx="143.45" cy="900.89" r="7.3" fill="#fff" stroke="#0c0c2a" stroke-width="1.5"/>
<circle cx="143.45" cy="831.61" r="7.3" fill="#fff" stroke="#0c0c2a" stroke-width="1.5"/>
<circle cx="176.15" cy="919.77" r="7.3" fill="#fff" stroke="#0c0c2a" stroke-width="1.5"/>
<circle cx="176.15" cy="812.73" r="7.3" fill="#fff" stroke="#0c0c2a" stroke-width="1.5"/>
</g>
<rect x="136.25" y="818" width="97.5" height="97" fill="none" stroke="#2ca02c" stroke-width="1.7"/>
<clipPath id="ch1"><rect x="270.5" y="818" width="97.5" height="97"/></clipPath>
<g clip-path="url(#ch1)">
<circle cx="341.5" cy="866.25" r="25" fill="url(#fr)" opacity=".64"/>
<circle cx="308.5" cy="847.2" r="25" fill="url(#fr)" opacity=".64"/>
<circle cx="368.5" cy="881.84" r="25" fill="url(#fr)" opacity=".64"/>
<circle cx="368.5" cy="919.94" r="25" fill="url(#fr)" opacity=".64"/>
<circle cx="368.5" cy="850.66" r="25" fill="url(#fr)" opacity=".64"/>
<circle cx="281.5" cy="831.61" r="25" fill="url(#fr)" opacity=".64"/>
<circle cx="308.5" cy="816.02" r="25" fill="url(#fr)" opacity=".64"/>
<circle cx="308.5" cy="885.3" r="23" fill="url(#fb)" opacity="1"/>
<circle cx="368.5" cy="812.56" r="23" fill="url(#fb)" opacity="1"/>
<circle cx="281.5" cy="900.89" r="23" fill="url(#fb)" opacity="1"/>
<circle cx="308.5" cy="916.48" r="23" fill="url(#fb)" opacity="1"/>
<path d="M359.5 866.25 L339.5 900.89 L299.5 900.89 L279.5 866.25 L299.5 831.61 L339.5 831.61ZM359.5 866.25l40 0M339.5 900.89l20 34.64M299.5 900.89l-20 34.64M279.5 866.25l-40 0M299.5 831.61l-20 -34.64M339.5 831.61l20 -34.64" fill="none" stroke="#8c8c8c" stroke-width="1.1" stroke-linejoin="round"/>
<circle cx="341.5" cy="866.25" r="7.3" fill="#fff" stroke="#0c0c2a" stroke-width="1.5"/>
<circle cx="308.5" cy="847.2" r="7.3" fill="#fff" stroke="#0c0c2a" stroke-width="1.5"/>
<circle cx="308.5" cy="885.3" r="7.3" fill="#fff" stroke="#0c0c2a" stroke-width="1.5"/>
<circle cx="368.5" cy="881.84" r="7.3" fill="#fff" stroke="#0c0c2a" stroke-width="1.5"/>
<circle cx="368.5" cy="919.94" r="7.3" fill="#fff" stroke="#0c0c2a" stroke-width="1.5"/>
<circle cx="368.5" cy="812.56" r="7.3" fill="#fff" stroke="#0c0c2a" stroke-width="1.5"/>
<circle cx="368.5" cy="850.66" r="7.3" fill="#fff" stroke="#0c0c2a" stroke-width="1.5"/>
<circle cx="281.5" cy="900.89" r="7.3" fill="#fff" stroke="#0c0c2a" stroke-width="1.5"/>
<circle cx="281.5" cy="831.61" r="7.3" fill="#fff" stroke="#0c0c2a" stroke-width="1.5"/>
<circle cx="308.5" cy="916.48" r="7.3" fill="#fff" stroke="#0c0c2a" stroke-width="1.5"/>
<circle cx="308.5" cy="816.02" r="7.3" fill="#fff" stroke="#0c0c2a" stroke-width="1.5"/>
</g>
<rect x="270.5" y="818" width="97.5" height="97" fill="none" stroke="#1f77b4" stroke-width="1.7"/>
<clipPath id="ch2"><rect x="398" y="818" width="97" height="97"/></clipPath>
<g clip-path="url(#ch2)">
<polygon points="486.75,866.25 466.75,900.89 426.75,900.89 406.75,866.25 426.75,831.61 466.75,831.61" fill="url(#fh)"/>
<circle cx="495.75" cy="881.84" r="25" fill="url(#fr)" opacity=".6"/>
<circle cx="495.75" cy="919.94" r="25" fill="url(#fr)" opacity=".6"/>
<circle cx="495.75" cy="812.56" r="25" fill="url(#fr)" opacity=".6"/>
<circle cx="495.75" cy="850.66" r="25" fill="url(#fr)" opacity=".6"/>
<circle cx="408.75" cy="900.89" r="25" fill="url(#fr)" opacity=".6"/>
<circle cx="408.75" cy="831.61" r="25" fill="url(#fr)" opacity=".6"/>
<circle cx="435.75" cy="916.48" r="25" fill="url(#fr)" opacity=".6"/>
<circle cx="435.75" cy="816.02" r="25" fill="url(#fr)" opacity=".6"/>
<circle cx="468.75" cy="866.25" r="23" fill="url(#fb)" opacity="1"/>
<circle cx="435.75" cy="847.2" r="23" fill="url(#fb)" opacity="1"/>
<circle cx="435.75" cy="885.3" r="23" fill="url(#fb)" opacity="1"/>
<path d="M486.75 866.25 L466.75 900.89 L426.75 900.89 L406.75 866.25 L426.75 831.61 L466.75 831.61ZM486.75 866.25l40 0M466.75 900.89l20 34.64M426.75 900.89l-20 34.64M406.75 866.25l-40 0M426.75 831.61l-20 -34.64M466.75 831.61l20 -34.64" fill="none" stroke="#8c8c8c" stroke-width="1.1" stroke-linejoin="round"/>
<circle cx="468.75" cy="866.25" r="7.3" fill="#fff" stroke="#0c0c2a" stroke-width="1.5"/>
<circle cx="435.75" cy="847.2" r="7.3" fill="#fff" stroke="#0c0c2a" stroke-width="1.5"/>
<circle cx="435.75" cy="885.3" r="7.3" fill="#fff" stroke="#0c0c2a" stroke-width="1.5"/>
<circle cx="495.75" cy="881.84" r="7.3" fill="#fff" stroke="#0c0c2a" stroke-width="1.5"/>
<circle cx="495.75" cy="919.94" r="7.3" fill="#fff" stroke="#0c0c2a" stroke-width="1.5"/>
<circle cx="495.75" cy="812.56" r="7.3" fill="#fff" stroke="#0c0c2a" stroke-width="1.5"/>
<circle cx="495.75" cy="850.66" r="7.3" fill="#fff" stroke="#0c0c2a" stroke-width="1.5"/>
<circle cx="408.75" cy="900.89" r="7.3" fill="#fff" stroke="#0c0c2a" stroke-width="1.5"/>
<circle cx="408.75" cy="831.61" r="7.3" fill="#fff" stroke="#0c0c2a" stroke-width="1.5"/>
<circle cx="435.75" cy="916.48" r="7.3" fill="#fff" stroke="#0c0c2a" stroke-width="1.5"/>
<circle cx="435.75" cy="816.02" r="7.3" fill="#fff" stroke="#0c0c2a" stroke-width="1.5"/>
</g>
<rect x="398" y="818" width="97" height="97" fill="none" stroke="#2ca02c" stroke-width="1.7"/>
<text x="119.6" y="805" font-size="22.5" text-anchor="middle" letter-spacing=".5">(g)</text>
<text x="381.3" y="805" font-size="22.5" text-anchor="middle" letter-spacing=".5">(h)</text>
</g>
</svg>
</body></html>
